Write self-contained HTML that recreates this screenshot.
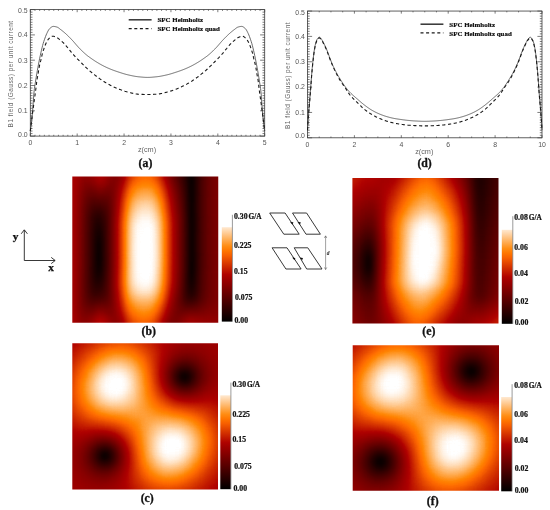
<!DOCTYPE html>
<html><head><meta charset="utf-8"><title>Figure</title>
<style>html,body{margin:0;padding:0;background:#fff}svg{display:block}.tk{font-family:"Liberation Sans", "DejaVu Sans", sans-serif;font-size:6.9px;fill:#555}.al{font-family:"Liberation Sans", "DejaVu Sans", sans-serif;font-size:7.3px;fill:#666}.yl{font-family:"Liberation Sans", "DejaVu Sans", sans-serif;font-size:6.5px;fill:#666}.lg{font-family:"Liberation Serif", "DejaVu Serif", serif;font-weight:bold;font-size:6.95px;fill:#111;stroke:#111;stroke-width:0.2px}.cbl{font-family:"Liberation Serif", "DejaVu Serif", serif;font-weight:bold;font-size:7.8px;fill:#111;stroke:#111;stroke-width:0.22px}.cap{font-family:"Liberation Serif", "DejaVu Serif", serif;font-weight:bold;font-size:11.8px;fill:#111;stroke:#111;stroke-width:0.3px}.ax{font-family:"Liberation Serif", "DejaVu Serif", serif;font-weight:bold;font-size:11.3px;fill:#111;stroke:#111;stroke-width:0.25px}.dl{font-family:"Liberation Serif", "DejaVu Serif", serif;font-style:italic;font-weight:bold;font-size:5.5px;fill:#222}.hm rect{width:1.08px;height:1.08px}</style></head><body>
<svg width="550" height="510" viewBox="0 0 550 510">
<defs><filter id="cm" x="-5%" y="-5%" width="110%" height="110%" color-interpolation-filters="sRGB"><feGaussianBlur stdDeviation="2.6"/><feComponentTransfer><feFuncR type="table" tableValues="0.000 0.036 0.072 0.109 0.145 0.181 0.217 0.254 0.290 0.326 0.362 0.399 0.435 0.471 0.507 0.543 0.580 0.616 0.652 0.688 0.725 0.761 0.797 0.833 0.870 0.906 0.942 0.978 1.000 1.000 1.000 1.000 1.000 1.000 1.000 1.000 1.000 1.000 1.000 1.000 1.000"/><feFuncG type="table" tableValues="0.000 0.000 0.000 0.000 0.000 0.000 0.000 0.000 0.000 0.000 0.000 0.000 0.000 0.000 0.000 0.000 0.000 0.000 0.000 0.009 0.057 0.104 0.151 0.198 0.245 0.292 0.340 0.387 0.434 0.481 0.528 0.575 0.623 0.670 0.717 0.764 0.811 0.858 0.906 0.953 1.000"/><feFuncB type="table" tableValues="0.000 0.000 0.000 0.000 0.000 0.000 0.000 0.000 0.000 0.000 0.000 0.000 0.000 0.000 0.000 0.000 0.000 0.000 0.000 0.000 0.000 0.000 0.000 0.000 0.000 0.000 0.000 0.000 0.000 0.000 0.020 0.118 0.216 0.314 0.412 0.510 0.608 0.706 0.804 0.902 1.000"/><feFuncA type="linear" slope="0" intercept="1"/></feComponentTransfer></filter></defs>
<rect width="550" height="510" fill="#fff"/>
<rect x="30.30" y="9.60" width="234.40" height="126.50" fill="none" stroke="#3a3a3a" stroke-width="0.8"/>
<path d="M30.30 136.10v-2.6M30.30 9.60v2.6M34.99 136.10v-1.3M34.99 9.60v1.3M39.68 136.10v-1.3M39.68 9.60v1.3M44.36 136.10v-1.3M44.36 9.60v1.3M49.05 136.10v-1.3M49.05 9.60v1.3M53.74 136.10v-1.3M53.74 9.60v1.3M58.43 136.10v-1.3M58.43 9.60v1.3M63.12 136.10v-1.3M63.12 9.60v1.3M67.80 136.10v-1.3M67.80 9.60v1.3M72.49 136.10v-1.3M72.49 9.60v1.3M77.18 136.10v-2.6M77.18 9.60v2.6M81.87 136.10v-1.3M81.87 9.60v1.3M86.56 136.10v-1.3M86.56 9.60v1.3M91.24 136.10v-1.3M91.24 9.60v1.3M95.93 136.10v-1.3M95.93 9.60v1.3M100.62 136.10v-1.3M100.62 9.60v1.3M105.31 136.10v-1.3M105.31 9.60v1.3M110.00 136.10v-1.3M110.00 9.60v1.3M114.68 136.10v-1.3M114.68 9.60v1.3M119.37 136.10v-1.3M119.37 9.60v1.3M124.06 136.10v-2.6M124.06 9.60v2.6M128.75 136.10v-1.3M128.75 9.60v1.3M133.44 136.10v-1.3M133.44 9.60v1.3M138.12 136.10v-1.3M138.12 9.60v1.3M142.81 136.10v-1.3M142.81 9.60v1.3M147.50 136.10v-1.3M147.50 9.60v1.3M152.19 136.10v-1.3M152.19 9.60v1.3M156.88 136.10v-1.3M156.88 9.60v1.3M161.56 136.10v-1.3M161.56 9.60v1.3M166.25 136.10v-1.3M166.25 9.60v1.3M170.94 136.10v-2.6M170.94 9.60v2.6M175.63 136.10v-1.3M175.63 9.60v1.3M180.32 136.10v-1.3M180.32 9.60v1.3M185.00 136.10v-1.3M185.00 9.60v1.3M189.69 136.10v-1.3M189.69 9.60v1.3M194.38 136.10v-1.3M194.38 9.60v1.3M199.07 136.10v-1.3M199.07 9.60v1.3M203.76 136.10v-1.3M203.76 9.60v1.3M208.44 136.10v-1.3M208.44 9.60v1.3M213.13 136.10v-1.3M213.13 9.60v1.3M217.82 136.10v-2.6M217.82 9.60v2.6M222.51 136.10v-1.3M222.51 9.60v1.3M227.20 136.10v-1.3M227.20 9.60v1.3M231.88 136.10v-1.3M231.88 9.60v1.3M236.57 136.10v-1.3M236.57 9.60v1.3M241.26 136.10v-1.3M241.26 9.60v1.3M245.95 136.10v-1.3M245.95 9.60v1.3M250.64 136.10v-1.3M250.64 9.60v1.3M255.32 136.10v-1.3M255.32 9.60v1.3M260.01 136.10v-1.3M260.01 9.60v1.3M264.70 136.10v-2.6M264.70 9.60v2.6M30.30 136.10h4.6M264.70 136.10h-4.6M30.30 133.57h2.2M264.70 133.57h-2.2M30.30 131.04h2.2M264.70 131.04h-2.2M30.30 128.51h2.2M264.70 128.51h-2.2M30.30 125.98h2.2M264.70 125.98h-2.2M30.30 123.45h2.2M264.70 123.45h-2.2M30.30 120.92h2.2M264.70 120.92h-2.2M30.30 118.39h2.2M264.70 118.39h-2.2M30.30 115.86h2.2M264.70 115.86h-2.2M30.30 113.33h2.2M264.70 113.33h-2.2M30.30 110.80h4.6M264.70 110.80h-4.6M30.30 108.27h2.2M264.70 108.27h-2.2M30.30 105.74h2.2M264.70 105.74h-2.2M30.30 103.21h2.2M264.70 103.21h-2.2M30.30 100.68h2.2M264.70 100.68h-2.2M30.30 98.15h2.2M264.70 98.15h-2.2M30.30 95.62h2.2M264.70 95.62h-2.2M30.30 93.09h2.2M264.70 93.09h-2.2M30.30 90.56h2.2M264.70 90.56h-2.2M30.30 88.03h2.2M264.70 88.03h-2.2M30.30 85.50h4.6M264.70 85.50h-4.6M30.30 82.97h2.2M264.70 82.97h-2.2M30.30 80.44h2.2M264.70 80.44h-2.2M30.30 77.91h2.2M264.70 77.91h-2.2M30.30 75.38h2.2M264.70 75.38h-2.2M30.30 72.85h2.2M264.70 72.85h-2.2M30.30 70.32h2.2M264.70 70.32h-2.2M30.30 67.79h2.2M264.70 67.79h-2.2M30.30 65.26h2.2M264.70 65.26h-2.2M30.30 62.73h2.2M264.70 62.73h-2.2M30.30 60.20h4.6M264.70 60.20h-4.6M30.30 57.67h2.2M264.70 57.67h-2.2M30.30 55.14h2.2M264.70 55.14h-2.2M30.30 52.61h2.2M264.70 52.61h-2.2M30.30 50.08h2.2M264.70 50.08h-2.2M30.30 47.55h2.2M264.70 47.55h-2.2M30.30 45.02h2.2M264.70 45.02h-2.2M30.30 42.49h2.2M264.70 42.49h-2.2M30.30 39.96h2.2M264.70 39.96h-2.2M30.30 37.43h2.2M264.70 37.43h-2.2M30.30 34.90h4.6M264.70 34.90h-4.6M30.30 32.37h2.2M264.70 32.37h-2.2M30.30 29.84h2.2M264.70 29.84h-2.2M30.30 27.31h2.2M264.70 27.31h-2.2M30.30 24.78h2.2M264.70 24.78h-2.2M30.30 22.25h2.2M264.70 22.25h-2.2M30.30 19.72h2.2M264.70 19.72h-2.2M30.30 17.19h2.2M264.70 17.19h-2.2M30.30 14.66h2.2M264.70 14.66h-2.2M30.30 12.13h2.2M264.70 12.13h-2.2M30.30 9.60h4.6M264.70 9.60h-4.6" stroke="#444" stroke-width="0.7" fill="none"/>
<text x="27.70" y="136.60" text-anchor="end" class="tk">0.0</text>
<text x="27.70" y="113.10" text-anchor="end" class="tk">0.1</text>
<text x="27.70" y="87.80" text-anchor="end" class="tk">0.2</text>
<text x="27.70" y="62.50" text-anchor="end" class="tk">0.3</text>
<text x="27.70" y="37.20" text-anchor="end" class="tk">0.4</text>
<text x="27.70" y="13.30" text-anchor="end" class="tk">0.5</text>
<text x="30.30" y="144.90" text-anchor="middle" class="tk">0</text>
<text x="77.18" y="144.90" text-anchor="middle" class="tk">1</text>
<text x="124.06" y="144.90" text-anchor="middle" class="tk">2</text>
<text x="170.94" y="144.90" text-anchor="middle" class="tk">3</text>
<text x="217.82" y="144.90" text-anchor="middle" class="tk">4</text>
<text x="264.70" y="144.90" text-anchor="middle" class="tk">5</text>
<text x="147.00" y="151.80" text-anchor="middle" class="al">z(cm)</text>
<text transform="translate(13.00 74.15) rotate(-90)" text-anchor="middle" class="yl" textLength="106.5" lengthAdjust="spacing">B1 field (Gauss) per unit current</text>
<path d="M30.30 131.04L30.89 127.21L31.47 122.41L32.06 116.85L32.65 110.74L33.24 102.67L33.82 94.06L34.41 88.50L35.00 84.66L35.59 81.07L36.17 77.41L36.76 73.87L37.35 70.48L37.94 67.24L38.52 64.13L39.11 61.14L39.70 58.26L40.29 55.48L40.87 52.82L41.46 50.27L42.05 47.79L42.64 45.46L43.22 43.35L43.81 41.45L44.40 39.71L44.99 38.04L45.57 36.44L46.16 34.95L46.75 33.61L47.34 32.40L47.92 31.23L48.51 30.16L49.10 29.25L49.69 28.56L50.27 28.05L50.86 27.57L51.45 27.14L52.04 26.79L52.62 26.53L53.21 26.41L53.80 26.41L54.39 26.47L54.97 26.56L55.56 26.69L56.15 26.84L56.74 27.01L57.32 27.20L57.91 27.49L58.50 27.87L59.09 28.32L59.67 28.79L60.26 29.27L60.85 29.71L61.44 30.15L62.02 30.61L62.61 31.07L63.20 31.55L63.79 32.03L64.37 32.53L64.96 33.04L65.55 33.56L66.14 34.10L66.72 34.65L67.31 35.20L67.90 35.77L68.49 36.34L69.07 36.92L69.66 37.51L70.25 38.11L70.84 38.71L71.42 39.33L72.01 39.95L72.60 40.58L73.19 41.23L73.77 41.89L74.36 42.57L74.95 43.25L75.54 43.94L76.12 44.63L76.71 45.31L77.30 45.99L77.88 46.65L78.47 47.30L79.06 47.93L79.65 48.53L80.23 49.13L80.82 49.71L81.41 50.29L82.00 50.87L82.58 51.43L83.17 51.99L83.76 52.53L84.35 53.07L84.93 53.59L85.52 54.11L86.11 54.61L86.70 55.10L87.28 55.58L87.87 56.03L88.46 56.48L89.05 56.91L89.63 57.33L90.22 57.75L90.81 58.17L91.40 58.58L91.98 58.99L92.57 59.40L93.16 59.80L93.75 60.19L94.33 60.58L94.92 60.97L95.51 61.35L96.10 61.72L96.68 62.09L97.27 62.45L97.86 62.80L98.45 63.15L99.03 63.49L99.62 63.83L100.21 64.17L100.80 64.50L101.38 64.82L101.97 65.14L102.56 65.45L103.15 65.76L103.73 66.06L104.32 66.35L104.91 66.64L105.50 66.92L106.08 67.20L106.67 67.47L107.26 67.74L107.85 68.00L108.43 68.26L109.02 68.52L109.61 68.77L110.20 69.01L110.78 69.25L111.37 69.49L111.96 69.72L112.55 69.94L113.13 70.17L113.72 70.38L114.31 70.60L114.90 70.81L115.48 71.01L116.07 71.22L116.66 71.42L117.25 71.62L117.83 71.81L118.42 72.00L119.01 72.20L119.60 72.39L120.18 72.58L120.77 72.77L121.36 72.96L121.95 73.15L122.53 73.33L123.12 73.52L123.71 73.70L124.29 73.87L124.88 74.04L125.47 74.21L126.06 74.37L126.64 74.52L127.23 74.67L127.82 74.80L128.41 74.94L128.99 75.07L129.58 75.21L130.17 75.34L130.76 75.47L131.34 75.59L131.93 75.72L132.52 75.84L133.11 75.96L133.69 76.07L134.28 76.18L134.87 76.28L135.46 76.38L136.04 76.47L136.63 76.55L137.22 76.63L137.81 76.70L138.39 76.77L138.98 76.82L139.57 76.88L140.16 76.94L140.74 77.00L141.33 77.06L141.92 77.11L142.51 77.16L143.09 77.21L143.68 77.25L144.27 77.29L144.86 77.33L145.44 77.36L146.03 77.38L146.62 77.39L147.21 77.40L147.79 77.40L148.38 77.39L148.97 77.38L149.56 77.36L150.14 77.33L150.73 77.29L151.32 77.25L151.91 77.21L152.49 77.16L153.08 77.11L153.67 77.06L154.26 77.00L154.84 76.94L155.43 76.88L156.02 76.82L156.61 76.77L157.19 76.70L157.78 76.63L158.37 76.55L158.96 76.47L159.54 76.38L160.13 76.28L160.72 76.18L161.31 76.07L161.89 75.96L162.48 75.84L163.07 75.72L163.66 75.59L164.24 75.47L164.83 75.34L165.42 75.21L166.01 75.07L166.59 74.94L167.18 74.80L167.77 74.67L168.36 74.52L168.94 74.37L169.53 74.21L170.12 74.04L170.71 73.87L171.29 73.70L171.88 73.52L172.47 73.33L173.05 73.15L173.64 72.96L174.23 72.77L174.82 72.58L175.40 72.39L175.99 72.20L176.58 72.00L177.17 71.81L177.75 71.62L178.34 71.42L178.93 71.22L179.52 71.01L180.10 70.81L180.69 70.60L181.28 70.38L181.87 70.17L182.45 69.94L183.04 69.72L183.63 69.49L184.22 69.25L184.80 69.01L185.39 68.77L185.98 68.52L186.57 68.26L187.15 68.00L187.74 67.74L188.33 67.47L188.92 67.20L189.50 66.92L190.09 66.64L190.68 66.35L191.27 66.06L191.85 65.76L192.44 65.45L193.03 65.14L193.62 64.82L194.20 64.50L194.79 64.17L195.38 63.83L195.97 63.49L196.55 63.15L197.14 62.80L197.73 62.45L198.32 62.09L198.90 61.72L199.49 61.35L200.08 60.97L200.67 60.58L201.25 60.19L201.84 59.80L202.43 59.40L203.02 58.99L203.60 58.58L204.19 58.17L204.78 57.75L205.37 57.33L205.95 56.91L206.54 56.48L207.13 56.03L207.72 55.58L208.30 55.10L208.89 54.61L209.48 54.11L210.07 53.59L210.65 53.07L211.24 52.53L211.83 51.99L212.42 51.43L213.00 50.87L213.59 50.29L214.18 49.71L214.77 49.13L215.35 48.53L215.94 47.93L216.53 47.30L217.12 46.65L217.70 45.99L218.29 45.31L218.88 44.63L219.46 43.94L220.05 43.25L220.64 42.57L221.23 41.89L221.81 41.23L222.40 40.58L222.99 39.95L223.58 39.33L224.16 38.71L224.75 38.11L225.34 37.51L225.93 36.92L226.51 36.34L227.10 35.77L227.69 35.20L228.28 34.65L228.86 34.10L229.45 33.56L230.04 33.04L230.63 32.53L231.21 32.03L231.80 31.55L232.39 31.07L232.98 30.61L233.56 30.15L234.15 29.71L234.74 29.27L235.33 28.79L235.91 28.32L236.50 27.87L237.09 27.49L237.68 27.20L238.26 27.01L238.85 26.84L239.44 26.69L240.03 26.56L240.61 26.47L241.20 26.41L241.79 26.41L242.38 26.53L242.96 26.79L243.55 27.14L244.14 27.57L244.73 28.05L245.31 28.56L245.90 29.25L246.49 30.16L247.08 31.23L247.66 32.40L248.25 33.61L248.84 34.95L249.43 36.44L250.01 38.04L250.60 39.71L251.19 41.45L251.78 43.35L252.36 45.46L252.95 47.79L253.54 50.27L254.13 52.82L254.71 55.48L255.30 58.26L255.89 61.14L256.48 64.13L257.06 67.24L257.65 70.48L258.24 73.87L258.83 77.41L259.41 81.07L260.00 84.66L260.59 88.50L261.18 94.06L261.76 102.67L262.35 110.74L262.94 116.85L263.53 122.41L264.11 127.21L264.70 131.04" stroke="#444" stroke-width="0.8" fill="none"/>
<path d="M30.30 131.04L30.89 126.32L31.47 121.66L32.06 117.07L32.65 112.54L33.24 108.10L33.82 103.78L34.41 99.52L35.00 95.25L35.59 90.89L36.17 86.42L36.76 81.17L37.35 77.67L37.94 74.76L38.52 71.01L39.11 67.57L39.70 64.56L40.29 62.24L40.87 60.20L41.46 57.66L42.05 54.78L42.64 52.64L43.22 50.78L43.81 49.06L44.40 47.33L44.99 45.66L45.57 44.18L46.16 42.96L46.75 41.81L47.34 40.75L47.92 39.81L48.51 39.01L49.10 38.40L49.69 37.87L50.27 37.36L50.86 36.90L51.45 36.54L52.04 36.29L52.62 36.19L53.21 36.23L53.80 36.33L54.39 36.50L54.97 36.72L55.56 36.97L56.15 37.24L56.74 37.52L57.32 37.81L57.91 38.18L58.50 38.61L59.09 39.09L59.67 39.60L60.26 40.11L60.85 40.61L61.44 41.11L62.02 41.62L62.61 42.14L63.20 42.69L63.79 43.25L64.37 43.84L64.96 44.45L65.55 45.11L66.14 45.81L66.72 46.53L67.31 47.27L67.90 48.01L68.49 48.73L69.07 49.45L69.66 50.18L70.25 50.92L70.84 51.65L71.42 52.37L72.01 53.08L72.60 53.76L73.19 54.43L73.77 55.08L74.36 55.73L74.95 56.36L75.54 56.99L76.12 57.61L76.71 58.21L77.30 58.80L77.88 59.39L78.47 59.97L79.06 60.56L79.65 61.15L80.23 61.74L80.82 62.33L81.41 62.92L82.00 63.51L82.58 64.10L83.17 64.69L83.76 65.27L84.35 65.85L84.93 66.43L85.52 67.00L86.11 67.57L86.70 68.13L87.28 68.69L87.87 69.23L88.46 69.77L89.05 70.30L89.63 70.82L90.22 71.33L90.81 71.82L91.40 72.29L91.98 72.76L92.57 73.22L93.16 73.68L93.75 74.15L94.33 74.63L94.92 75.11L95.51 75.58L96.10 76.05L96.68 76.51L97.27 76.95L97.86 77.39L98.45 77.82L99.03 78.24L99.62 78.67L100.21 79.09L100.80 79.50L101.38 79.91L101.97 80.31L102.56 80.70L103.15 81.09L103.73 81.47L104.32 81.84L104.91 82.20L105.50 82.55L106.08 82.89L106.67 83.23L107.26 83.56L107.85 83.89L108.43 84.22L109.02 84.53L109.61 84.85L110.20 85.16L110.78 85.46L111.37 85.76L111.96 86.05L112.55 86.34L113.13 86.62L113.72 86.90L114.31 87.17L114.90 87.43L115.48 87.69L116.07 87.94L116.66 88.19L117.25 88.43L117.83 88.67L118.42 88.91L119.01 89.14L119.60 89.37L120.18 89.59L120.77 89.82L121.36 90.03L121.95 90.25L122.53 90.46L123.12 90.66L123.71 90.86L124.29 91.05L124.88 91.24L125.47 91.41L126.06 91.59L126.64 91.75L127.23 91.91L127.82 92.06L128.41 92.22L128.99 92.37L129.58 92.52L130.17 92.68L130.76 92.83L131.34 92.98L131.93 93.12L132.52 93.26L133.11 93.40L133.69 93.52L134.28 93.64L134.87 93.76L135.46 93.86L136.04 93.95L136.63 94.03L137.22 94.10L137.81 94.16L138.39 94.20L138.98 94.23L139.57 94.26L140.16 94.29L140.74 94.32L141.33 94.35L141.92 94.38L142.51 94.40L143.09 94.42L143.68 94.44L144.27 94.46L144.86 94.47L145.44 94.49L146.03 94.50L146.62 94.50L147.21 94.51L147.79 94.51L148.38 94.50L148.97 94.50L149.56 94.49L150.14 94.47L150.73 94.46L151.32 94.44L151.91 94.42L152.49 94.40L153.08 94.38L153.67 94.35L154.26 94.32L154.84 94.29L155.43 94.26L156.02 94.23L156.61 94.20L157.19 94.16L157.78 94.10L158.37 94.03L158.96 93.95L159.54 93.86L160.13 93.76L160.72 93.64L161.31 93.52L161.89 93.40L162.48 93.26L163.07 93.12L163.66 92.98L164.24 92.83L164.83 92.68L165.42 92.52L166.01 92.37L166.59 92.22L167.18 92.06L167.77 91.91L168.36 91.75L168.94 91.59L169.53 91.41L170.12 91.24L170.71 91.05L171.29 90.86L171.88 90.66L172.47 90.46L173.05 90.25L173.64 90.03L174.23 89.82L174.82 89.59L175.40 89.37L175.99 89.14L176.58 88.91L177.17 88.67L177.75 88.43L178.34 88.19L178.93 87.94L179.52 87.69L180.10 87.43L180.69 87.17L181.28 86.90L181.87 86.62L182.45 86.34L183.04 86.05L183.63 85.76L184.22 85.46L184.80 85.16L185.39 84.85L185.98 84.53L186.57 84.22L187.15 83.89L187.74 83.56L188.33 83.23L188.92 82.89L189.50 82.55L190.09 82.20L190.68 81.84L191.27 81.47L191.85 81.09L192.44 80.70L193.03 80.31L193.62 79.91L194.20 79.50L194.79 79.09L195.38 78.67L195.97 78.24L196.55 77.82L197.14 77.39L197.73 76.95L198.32 76.51L198.90 76.05L199.49 75.58L200.08 75.11L200.67 74.63L201.25 74.15L201.84 73.68L202.43 73.22L203.02 72.76L203.60 72.29L204.19 71.82L204.78 71.33L205.37 70.82L205.95 70.30L206.54 69.77L207.13 69.23L207.72 68.69L208.30 68.13L208.89 67.57L209.48 67.00L210.07 66.43L210.65 65.85L211.24 65.27L211.83 64.69L212.42 64.10L213.00 63.51L213.59 62.92L214.18 62.33L214.77 61.74L215.35 61.15L215.94 60.56L216.53 59.97L217.12 59.39L217.70 58.80L218.29 58.21L218.88 57.61L219.46 56.99L220.05 56.36L220.64 55.73L221.23 55.08L221.81 54.43L222.40 53.76L222.99 53.08L223.58 52.37L224.16 51.65L224.75 50.92L225.34 50.18L225.93 49.45L226.51 48.73L227.10 48.01L227.69 47.27L228.28 46.53L228.86 45.81L229.45 45.11L230.04 44.45L230.63 43.84L231.21 43.25L231.80 42.69L232.39 42.14L232.98 41.62L233.56 41.11L234.15 40.61L234.74 40.11L235.33 39.60L235.91 39.09L236.50 38.61L237.09 38.18L237.68 37.81L238.26 37.52L238.85 37.24L239.44 36.97L240.03 36.72L240.61 36.50L241.20 36.33L241.79 36.23L242.38 36.19L242.96 36.29L243.55 36.54L244.14 36.90L244.73 37.36L245.31 37.87L245.90 38.40L246.49 39.01L247.08 39.81L247.66 40.75L248.25 41.81L248.84 42.96L249.43 44.18L250.01 45.66L250.60 47.33L251.19 49.06L251.78 50.78L252.36 52.64L252.95 54.78L253.54 57.66L254.13 60.20L254.71 62.24L255.30 64.56L255.89 67.57L256.48 71.01L257.06 74.76L257.65 77.67L258.24 81.17L258.83 86.42L259.41 90.89L260.00 95.25L260.59 99.52L261.18 103.78L261.76 108.10L262.35 112.54L262.94 117.07L263.53 121.66L264.11 126.32L264.70 131.04" stroke="#1a1a1a" stroke-width="1.1" stroke-dasharray="3.2 2.6" fill="none"/>
<path d="M128.7 19.8H151.6" stroke="#333" stroke-width="1.5"/>
<path d="M128.7 28.6H151.6" stroke="#1a1a1a" stroke-width="1.25" stroke-dasharray="3 2.6"/>
<text x="157.5" y="22.40" class="lg">SFC Helmholtz</text>
<text x="157.5" y="31.20" class="lg">SFC Helmholtz quad</text>
<rect x="307.50" y="11.05" width="234.50" height="126.75" fill="none" stroke="#3a3a3a" stroke-width="0.8"/>
<path d="M307.50 137.80v-2.6M307.50 11.05v2.6M319.23 137.80v-1.3M319.23 11.05v1.3M330.95 137.80v-1.3M330.95 11.05v1.3M342.68 137.80v-1.3M342.68 11.05v1.3M354.40 137.80v-2.6M354.40 11.05v2.6M366.12 137.80v-1.3M366.12 11.05v1.3M377.85 137.80v-1.3M377.85 11.05v1.3M389.57 137.80v-1.3M389.57 11.05v1.3M401.30 137.80v-2.6M401.30 11.05v2.6M413.02 137.80v-1.3M413.02 11.05v1.3M424.75 137.80v-1.3M424.75 11.05v1.3M436.48 137.80v-1.3M436.48 11.05v1.3M448.20 137.80v-2.6M448.20 11.05v2.6M459.92 137.80v-1.3M459.92 11.05v1.3M471.65 137.80v-1.3M471.65 11.05v1.3M483.38 137.80v-1.3M483.38 11.05v1.3M495.10 137.80v-2.6M495.10 11.05v2.6M506.82 137.80v-1.3M506.82 11.05v1.3M518.55 137.80v-1.3M518.55 11.05v1.3M530.27 137.80v-1.3M530.27 11.05v1.3M542.00 137.80v-2.6M542.00 11.05v2.6M307.50 137.80h4.6M542.00 137.80h-4.6M307.50 135.27h2.2M542.00 135.27h-2.2M307.50 132.73h2.2M542.00 132.73h-2.2M307.50 130.20h2.2M542.00 130.20h-2.2M307.50 127.66h2.2M542.00 127.66h-2.2M307.50 125.13h2.2M542.00 125.13h-2.2M307.50 122.59h2.2M542.00 122.59h-2.2M307.50 120.06h2.2M542.00 120.06h-2.2M307.50 117.52h2.2M542.00 117.52h-2.2M307.50 114.99h2.2M542.00 114.99h-2.2M307.50 112.45h4.6M542.00 112.45h-4.6M307.50 109.92h2.2M542.00 109.92h-2.2M307.50 107.38h2.2M542.00 107.38h-2.2M307.50 104.84h2.2M542.00 104.84h-2.2M307.50 102.31h2.2M542.00 102.31h-2.2M307.50 99.78h2.2M542.00 99.78h-2.2M307.50 97.24h2.2M542.00 97.24h-2.2M307.50 94.71h2.2M542.00 94.71h-2.2M307.50 92.17h2.2M542.00 92.17h-2.2M307.50 89.64h2.2M542.00 89.64h-2.2M307.50 87.10h4.6M542.00 87.10h-4.6M307.50 84.56h2.2M542.00 84.56h-2.2M307.50 82.03h2.2M542.00 82.03h-2.2M307.50 79.50h2.2M542.00 79.50h-2.2M307.50 76.96h2.2M542.00 76.96h-2.2M307.50 74.43h2.2M542.00 74.43h-2.2M307.50 71.89h2.2M542.00 71.89h-2.2M307.50 69.36h2.2M542.00 69.36h-2.2M307.50 66.82h2.2M542.00 66.82h-2.2M307.50 64.29h2.2M542.00 64.29h-2.2M307.50 61.75h4.6M542.00 61.75h-4.6M307.50 59.22h2.2M542.00 59.22h-2.2M307.50 56.68h2.2M542.00 56.68h-2.2M307.50 54.14h2.2M542.00 54.14h-2.2M307.50 51.61h2.2M542.00 51.61h-2.2M307.50 49.07h2.2M542.00 49.07h-2.2M307.50 46.54h2.2M542.00 46.54h-2.2M307.50 44.00h2.2M542.00 44.00h-2.2M307.50 41.47h2.2M542.00 41.47h-2.2M307.50 38.94h2.2M542.00 38.94h-2.2M307.50 36.40h4.6M542.00 36.40h-4.6M307.50 33.86h2.2M542.00 33.86h-2.2M307.50 31.33h2.2M542.00 31.33h-2.2M307.50 28.80h2.2M542.00 28.80h-2.2M307.50 26.26h2.2M542.00 26.26h-2.2M307.50 23.72h2.2M542.00 23.72h-2.2M307.50 21.19h2.2M542.00 21.19h-2.2M307.50 18.65h2.2M542.00 18.65h-2.2M307.50 16.12h2.2M542.00 16.12h-2.2M307.50 13.58h2.2M542.00 13.58h-2.2M307.50 11.05h4.6M542.00 11.05h-4.6" stroke="#444" stroke-width="0.7" fill="none"/>
<text x="304.90" y="138.30" text-anchor="end" class="tk">0.0</text>
<text x="304.90" y="114.75" text-anchor="end" class="tk">0.1</text>
<text x="304.90" y="89.40" text-anchor="end" class="tk">0.2</text>
<text x="304.90" y="64.05" text-anchor="end" class="tk">0.3</text>
<text x="304.90" y="38.70" text-anchor="end" class="tk">0.4</text>
<text x="304.90" y="14.75" text-anchor="end" class="tk">0.5</text>
<text x="307.50" y="146.60" text-anchor="middle" class="tk">0</text>
<text x="354.40" y="146.60" text-anchor="middle" class="tk">2</text>
<text x="401.30" y="146.60" text-anchor="middle" class="tk">4</text>
<text x="448.20" y="146.60" text-anchor="middle" class="tk">6</text>
<text x="495.10" y="146.60" text-anchor="middle" class="tk">8</text>
<text x="542.00" y="146.60" text-anchor="middle" class="tk">10</text>
<text x="424.25" y="153.50" text-anchor="middle" class="al">z(cm)</text>
<text transform="translate(290.40 75.73) rotate(-90)" text-anchor="middle" class="yl" textLength="106.5" lengthAdjust="spacing">B1 field (Gauss) per unit current</text>
<path d="M307.50 130.20L308.09 120.14L308.68 112.06L309.26 105.33L309.85 98.75L310.44 91.23L311.03 82.98L311.61 75.12L312.20 68.43L312.79 62.39L313.38 57.06L313.96 52.38L314.55 48.58L315.14 45.51L315.73 43.05L316.32 41.20L316.90 39.72L317.49 38.74L318.08 37.99L318.67 37.42L319.25 37.16L319.84 37.34L320.43 37.89L321.02 38.64L321.61 39.45L322.19 40.31L322.78 41.35L323.37 42.51L323.96 43.68L324.54 44.86L325.13 46.08L325.72 47.36L326.31 48.68L326.89 50.07L327.48 51.56L328.07 53.15L328.66 54.78L329.25 56.42L329.83 58.01L330.42 59.52L331.01 61.00L331.60 62.47L332.18 63.90L332.77 65.28L333.36 66.61L333.95 67.87L334.54 69.07L335.12 70.24L335.71 71.37L336.30 72.47L336.89 73.55L337.47 74.60L338.06 75.62L338.65 76.63L339.24 77.62L339.82 78.59L340.41 79.56L341.00 80.50L341.59 81.43L342.18 82.35L342.76 83.24L343.35 84.11L343.94 84.97L344.53 85.80L345.11 86.60L345.70 87.38L346.29 88.14L346.88 88.88L347.46 89.59L348.05 90.29L348.64 90.96L349.23 91.61L349.82 92.24L350.40 92.84L350.99 93.43L351.58 93.99L352.17 94.54L352.75 95.07L353.34 95.60L353.93 96.11L354.52 96.62L355.11 97.12L355.69 97.62L356.28 98.13L356.87 98.63L357.46 99.14L358.04 99.66L358.63 100.17L359.22 100.69L359.81 101.20L360.39 101.71L360.98 102.22L361.57 102.72L362.16 103.21L362.75 103.70L363.33 104.18L363.92 104.65L364.51 105.10L365.10 105.55L365.68 105.99L366.27 106.43L366.86 106.86L367.45 107.29L368.04 107.71L368.62 108.12L369.21 108.53L369.80 108.92L370.39 109.30L370.97 109.67L371.56 110.03L372.15 110.37L372.74 110.71L373.32 111.03L373.91 111.35L374.50 111.67L375.09 111.97L375.68 112.27L376.26 112.56L376.85 112.84L377.44 113.11L378.03 113.38L378.61 113.64L379.20 113.89L379.79 114.14L380.38 114.37L380.96 114.61L381.55 114.84L382.14 115.06L382.73 115.28L383.32 115.49L383.90 115.70L384.49 115.90L385.08 116.09L385.67 116.28L386.25 116.46L386.84 116.63L387.43 116.81L388.02 116.97L388.61 117.14L389.19 117.30L389.78 117.45L390.37 117.60L390.96 117.75L391.54 117.89L392.13 118.02L392.72 118.15L393.31 118.27L393.89 118.39L394.48 118.50L395.07 118.60L395.66 118.71L396.25 118.80L396.83 118.90L397.42 118.99L398.01 119.08L398.60 119.17L399.18 119.25L399.77 119.34L400.36 119.42L400.95 119.50L401.54 119.59L402.12 119.67L402.71 119.75L403.30 119.83L403.89 119.91L404.47 119.98L405.06 120.06L405.65 120.13L406.24 120.20L406.82 120.27L407.41 120.33L408.00 120.39L408.59 120.45L409.18 120.50L409.76 120.56L410.35 120.61L410.94 120.67L411.53 120.72L412.11 120.77L412.70 120.81L413.29 120.86L413.88 120.90L414.46 120.93L415.05 120.97L415.64 121.00L416.23 121.03L416.82 121.06L417.40 121.09L417.99 121.12L418.58 121.15L419.17 121.17L419.75 121.20L420.34 121.22L420.93 121.25L421.52 121.27L422.11 121.28L422.69 121.30L423.28 121.31L423.87 121.32L424.46 121.32L425.04 121.32L425.63 121.32L426.22 121.31L426.81 121.30L427.39 121.28L427.98 121.27L428.57 121.25L429.16 121.22L429.75 121.20L430.33 121.17L430.92 121.15L431.51 121.12L432.10 121.09L432.68 121.06L433.27 121.03L433.86 121.00L434.45 120.97L435.04 120.93L435.62 120.90L436.21 120.86L436.80 120.81L437.39 120.77L437.97 120.72L438.56 120.67L439.15 120.61L439.74 120.56L440.32 120.50L440.91 120.45L441.50 120.39L442.09 120.33L442.68 120.27L443.26 120.20L443.85 120.13L444.44 120.06L445.03 119.98L445.61 119.91L446.20 119.83L446.79 119.75L447.38 119.67L447.96 119.59L448.55 119.50L449.14 119.42L449.73 119.34L450.32 119.25L450.90 119.17L451.49 119.08L452.08 118.99L452.67 118.90L453.25 118.80L453.84 118.71L454.43 118.60L455.02 118.50L455.61 118.39L456.19 118.27L456.78 118.15L457.37 118.02L457.96 117.89L458.54 117.75L459.13 117.60L459.72 117.45L460.31 117.30L460.89 117.14L461.48 116.97L462.07 116.81L462.66 116.63L463.25 116.46L463.83 116.28L464.42 116.09L465.01 115.90L465.60 115.70L466.18 115.49L466.77 115.28L467.36 115.06L467.95 114.84L468.54 114.61L469.12 114.37L469.71 114.14L470.30 113.89L470.89 113.64L471.47 113.38L472.06 113.11L472.65 112.84L473.24 112.56L473.82 112.27L474.41 111.97L475.00 111.67L475.59 111.35L476.18 111.03L476.76 110.71L477.35 110.37L477.94 110.03L478.53 109.67L479.11 109.30L479.70 108.92L480.29 108.53L480.88 108.12L481.46 107.71L482.05 107.29L482.64 106.86L483.23 106.43L483.82 105.99L484.40 105.55L484.99 105.10L485.58 104.65L486.17 104.18L486.75 103.70L487.34 103.21L487.93 102.72L488.52 102.22L489.11 101.71L489.69 101.20L490.28 100.69L490.87 100.17L491.46 99.66L492.04 99.14L492.63 98.63L493.22 98.13L493.81 97.62L494.39 97.12L494.98 96.62L495.57 96.11L496.16 95.60L496.75 95.07L497.33 94.54L497.92 93.99L498.51 93.43L499.10 92.84L499.68 92.24L500.27 91.61L500.86 90.96L501.45 90.29L502.04 89.59L502.62 88.88L503.21 88.14L503.80 87.38L504.39 86.60L504.97 85.80L505.56 84.97L506.15 84.11L506.74 83.24L507.32 82.35L507.91 81.43L508.50 80.50L509.09 79.56L509.68 78.59L510.26 77.62L510.85 76.63L511.44 75.62L512.03 74.60L512.61 73.55L513.20 72.47L513.79 71.37L514.38 70.24L514.96 69.07L515.55 67.87L516.14 66.61L516.73 65.28L517.32 63.90L517.90 62.47L518.49 61.00L519.08 59.52L519.67 58.01L520.25 56.42L520.84 54.78L521.43 53.15L522.02 51.56L522.61 50.07L523.19 48.68L523.78 47.36L524.37 46.08L524.96 44.86L525.54 43.68L526.13 42.51L526.72 41.35L527.31 40.31L527.89 39.45L528.48 38.64L529.07 37.89L529.66 37.34L530.25 37.16L530.83 37.42L531.42 37.99L532.01 38.74L532.60 39.72L533.18 41.20L533.77 43.05L534.36 45.51L534.95 48.58L535.54 52.38L536.12 57.06L536.71 62.39L537.30 68.43L537.89 75.12L538.47 82.98L539.06 91.23L539.65 98.75L540.24 105.33L540.82 112.06L541.41 120.14L542.00 130.20" stroke="#444" stroke-width="0.8" fill="none"/>
<path d="M307.50 130.20L308.09 120.55L308.68 112.68L309.26 106.02L309.85 99.48L310.44 92.04L311.03 83.86L311.61 76.04L312.20 69.31L312.79 63.20L313.38 57.82L313.96 53.13L314.55 49.34L315.14 46.27L315.73 43.81L316.32 41.96L316.90 40.48L317.49 39.50L318.08 38.76L318.67 38.18L319.25 37.92L319.84 38.09L320.43 38.59L321.02 39.30L321.61 40.07L322.19 40.91L322.78 41.97L323.37 43.15L323.96 44.34L324.54 45.54L325.13 46.79L325.72 48.08L326.31 49.43L326.89 50.83L327.48 52.33L328.07 53.92L328.66 55.55L329.25 57.19L329.83 58.77L330.42 60.28L331.01 61.76L331.60 63.21L332.18 64.63L332.77 66.02L333.36 67.35L333.95 68.63L334.54 69.88L335.12 71.10L335.71 72.30L336.30 73.47L336.89 74.61L337.47 75.72L338.06 76.80L338.65 77.86L339.24 78.88L339.82 79.86L340.41 80.81L341.00 81.71L341.59 82.59L342.18 83.45L342.76 84.29L343.35 85.12L343.94 85.95L344.53 86.78L345.11 87.64L345.70 88.51L346.29 89.42L346.88 90.34L347.46 91.28L348.05 92.20L348.64 93.09L349.23 93.94L349.82 94.74L350.40 95.46L350.99 96.16L351.58 96.82L352.17 97.46L352.75 98.08L353.34 98.68L353.93 99.27L354.52 99.85L355.11 100.42L355.69 100.99L356.28 101.56L356.87 102.13L357.46 102.71L358.04 103.30L358.63 103.89L359.22 104.48L359.81 105.07L360.39 105.65L360.98 106.23L361.57 106.80L362.16 107.35L362.75 107.90L363.33 108.42L363.92 108.93L364.51 109.41L365.10 109.88L365.68 110.33L366.27 110.78L366.86 111.21L367.45 111.64L368.04 112.05L368.62 112.45L369.21 112.85L369.80 113.23L370.39 113.61L370.97 113.98L371.56 114.34L372.15 114.68L372.74 115.03L373.32 115.36L373.91 115.69L374.50 116.02L375.09 116.33L375.68 116.64L376.26 116.94L376.85 117.23L377.44 117.52L378.03 117.80L378.61 118.07L379.20 118.33L379.79 118.58L380.38 118.83L380.96 119.08L381.55 119.32L382.14 119.55L382.73 119.78L383.32 120.00L383.90 120.22L384.49 120.43L385.08 120.63L385.67 120.83L386.25 121.02L386.84 121.20L387.43 121.38L388.02 121.56L388.61 121.73L389.19 121.90L389.78 122.06L390.37 122.22L390.96 122.37L391.54 122.52L392.13 122.66L392.72 122.80L393.31 122.93L393.89 123.06L394.48 123.18L395.07 123.30L395.66 123.41L396.25 123.52L396.83 123.63L397.42 123.73L398.01 123.83L398.60 123.93L399.18 124.03L399.77 124.12L400.36 124.21L400.95 124.30L401.54 124.38L402.12 124.47L402.71 124.55L403.30 124.64L403.89 124.72L404.47 124.80L405.06 124.87L405.65 124.94L406.24 125.01L406.82 125.07L407.41 125.13L408.00 125.19L408.59 125.23L409.18 125.28L409.76 125.32L410.35 125.36L410.94 125.40L411.53 125.44L412.11 125.47L412.70 125.50L413.29 125.53L413.88 125.56L414.46 125.59L415.05 125.61L415.64 125.64L416.23 125.66L416.82 125.68L417.40 125.70L417.99 125.73L418.58 125.75L419.17 125.77L419.75 125.79L420.34 125.81L420.93 125.83L421.52 125.84L422.11 125.86L422.69 125.87L423.28 125.88L423.87 125.88L424.46 125.89L425.04 125.89L425.63 125.88L426.22 125.88L426.81 125.87L427.39 125.86L427.98 125.84L428.57 125.83L429.16 125.81L429.75 125.79L430.33 125.77L430.92 125.75L431.51 125.73L432.10 125.70L432.68 125.68L433.27 125.66L433.86 125.64L434.45 125.61L435.04 125.59L435.62 125.56L436.21 125.53L436.80 125.50L437.39 125.47L437.97 125.44L438.56 125.40L439.15 125.36L439.74 125.32L440.32 125.28L440.91 125.23L441.50 125.19L442.09 125.13L442.68 125.07L443.26 125.01L443.85 124.94L444.44 124.87L445.03 124.80L445.61 124.72L446.20 124.64L446.79 124.55L447.38 124.47L447.96 124.38L448.55 124.30L449.14 124.21L449.73 124.12L450.32 124.03L450.90 123.93L451.49 123.83L452.08 123.73L452.67 123.63L453.25 123.52L453.84 123.41L454.43 123.30L455.02 123.18L455.61 123.06L456.19 122.93L456.78 122.80L457.37 122.66L457.96 122.52L458.54 122.37L459.13 122.22L459.72 122.06L460.31 121.90L460.89 121.73L461.48 121.56L462.07 121.38L462.66 121.20L463.25 121.02L463.83 120.83L464.42 120.63L465.01 120.43L465.60 120.22L466.18 120.00L466.77 119.78L467.36 119.55L467.95 119.32L468.54 119.08L469.12 118.83L469.71 118.58L470.30 118.33L470.89 118.07L471.47 117.80L472.06 117.52L472.65 117.23L473.24 116.94L473.82 116.64L474.41 116.33L475.00 116.02L475.59 115.69L476.18 115.36L476.76 115.03L477.35 114.68L477.94 114.34L478.53 113.98L479.11 113.61L479.70 113.23L480.29 112.85L480.88 112.45L481.46 112.05L482.05 111.64L482.64 111.21L483.23 110.78L483.82 110.33L484.40 109.88L484.99 109.41L485.58 108.93L486.17 108.42L486.75 107.90L487.34 107.35L487.93 106.80L488.52 106.23L489.11 105.65L489.69 105.07L490.28 104.48L490.87 103.89L491.46 103.30L492.04 102.71L492.63 102.13L493.22 101.56L493.81 100.99L494.39 100.42L494.98 99.85L495.57 99.27L496.16 98.68L496.75 98.08L497.33 97.46L497.92 96.82L498.51 96.16L499.10 95.46L499.68 94.74L500.27 93.94L500.86 93.09L501.45 92.20L502.04 91.28L502.62 90.34L503.21 89.42L503.80 88.51L504.39 87.64L504.97 86.78L505.56 85.95L506.15 85.12L506.74 84.29L507.32 83.45L507.91 82.59L508.50 81.71L509.09 80.81L509.68 79.86L510.26 78.88L510.85 77.86L511.44 76.80L512.03 75.72L512.61 74.61L513.20 73.47L513.79 72.30L514.38 71.10L514.96 69.88L515.55 68.63L516.14 67.35L516.73 66.02L517.32 64.63L517.90 63.21L518.49 61.76L519.08 60.28L519.67 58.77L520.25 57.19L520.84 55.55L521.43 53.92L522.02 52.33L522.61 50.83L523.19 49.43L523.78 48.08L524.37 46.79L524.96 45.54L525.54 44.34L526.13 43.15L526.72 41.97L527.31 40.91L527.89 40.07L528.48 39.30L529.07 38.59L529.66 38.09L530.25 37.92L530.83 38.18L531.42 38.76L532.01 39.50L532.60 40.48L533.18 41.96L533.77 43.81L534.36 46.27L534.95 49.34L535.54 53.13L536.12 57.82L536.71 63.20L537.30 69.31L537.89 76.04L538.47 83.86L539.06 92.04L539.65 99.48L540.24 106.02L540.82 112.68L541.41 120.55L542.00 130.20" stroke="#1a1a1a" stroke-width="1.1" stroke-dasharray="3.2 2.6" fill="none"/>
<path d="M420.5 24.2H443.4" stroke="#333" stroke-width="1.5"/>
<path d="M420.5 32.9H443.4" stroke="#1a1a1a" stroke-width="1.25" stroke-dasharray="3 2.6"/>
<text x="449.3" y="26.80" class="lg">SFC Helmholtz</text>
<text x="449.3" y="35.50" class="lg">SFC Helmholtz quad</text>
<text x="145.5" y="166.9" text-anchor="middle" class="cap">(a)</text>
<text x="424.6" y="167.4" text-anchor="middle" class="cap">(d)</text>
<text x="148.8" y="335.3" text-anchor="middle" class="cap">(b)</text>
<text x="428.8" y="334.6" text-anchor="middle" class="cap">(e)</text>
<text x="147.2" y="502.0" text-anchor="middle" class="cap">(c)</text>
<text x="432.7" y="504.6" text-anchor="middle" class="cap">(f)</text>
<clipPath id="cp1"><rect x="72.3" y="176.6" width="145.95" height="146.10"/></clipPath>
<g clip-path="url(#cp1)"><g filter="url(#cm)"><g class="hm" transform="translate(72.3 176.6) scale(4.8650 4.8700)">
<g transform="translate(0 -2)"><rect x="-2" width="1.08" height="1.08" fill="#7d7d7d"/><rect x="-1" width="1.08" height="1.08" fill="#797979"/><rect x="0" width="1.08" height="1.08" fill="#757575"/><rect x="1" width="1.08" height="1.08" fill="#6b6b6b"/><rect x="2" width="1.08" height="1.08" fill="#656565"/><rect x="3" width="1.08" height="1.08" fill="#686868"/><rect x="4" width="1.08" height="1.08" fill="#727272"/><rect x="5" width="1.08" height="1.08" fill="#808080"/><rect x="6" width="1.08" height="1.08" fill="#787878"/><rect x="7" width="1.08" height="1.08" fill="#696969"/><rect x="8" width="1.08" height="1.08" fill="#5b5b5b"/><rect x="9" width="1.08" height="1.08" fill="#5a5a5a"/><rect x="10" width="1.08" height="1.08" fill="#676767"/><rect x="11" width="1.08" height="1.08" fill="#818181"/><rect x="12" width="1.08" height="1.08" fill="#959595"/><rect x="13" width="1.08" height="1.08" fill="#9f9f9f"/><rect x="14" width="1.08" height="1.08" fill="#a5a5a5"/><rect x="15" width="1.08" height="1.08" fill="#a5a5a5"/><rect x="16" width="1.08" height="1.08" fill="#9f9f9f"/><rect x="17" width="1.08" height="1.08" fill="#909090"/><rect x="18" width="1.08" height="1.08" fill="#7a7a7a"/><rect x="19" width="1.08" height="1.08" fill="#616161"/><rect x="20" width="1.08" height="1.08" fill="#4a4a4a"/><rect x="21" width="1.08" height="1.08" fill="#383838"/><rect x="22" width="1.08" height="1.08" fill="#272727"/><rect x="23" width="1.08" height="1.08" fill="#141414"/><rect x="24" width="1.08" height="1.08" fill="#020202"/><rect x="25" width="1.08" height="1.08" fill="#1a1a1a"/><rect x="26" width="1.08" height="1.08" fill="#323232"/><rect x="27" width="1.08" height="1.08" fill="#414141"/><rect x="28" width="1.08" height="1.08" fill="#4d4d4d"/><rect x="29" width="1.08" height="1.08" fill="#545454"/><rect x="30" width="1.08" height="1.08" fill="#585858"/><rect x="31" width="1.08" height="1.08" fill="#5b5b5b"/></g>
<g transform="translate(0 -1)"><rect x="-2" width="1.08" height="1.08" fill="#7c7c7c"/><rect x="-1" width="1.08" height="1.08" fill="#797979"/><rect x="0" width="1.08" height="1.08" fill="#757575"/><rect x="1" width="1.08" height="1.08" fill="#6a6a6a"/><rect x="2" width="1.08" height="1.08" fill="#636363"/><rect x="3" width="1.08" height="1.08" fill="#656565"/><rect x="4" width="1.08" height="1.08" fill="#6d6d6d"/><rect x="5" width="1.08" height="1.08" fill="#7a7a7a"/><rect x="6" width="1.08" height="1.08" fill="#747474"/><rect x="7" width="1.08" height="1.08" fill="#656565"/><rect x="8" width="1.08" height="1.08" fill="#5a5a5a"/><rect x="9" width="1.08" height="1.08" fill="#5c5c5c"/><rect x="10" width="1.08" height="1.08" fill="#6c6c6c"/><rect x="11" width="1.08" height="1.08" fill="#878787"/><rect x="12" width="1.08" height="1.08" fill="#9b9b9b"/><rect x="13" width="1.08" height="1.08" fill="#a6a6a6"/><rect x="14" width="1.08" height="1.08" fill="#acacac"/><rect x="15" width="1.08" height="1.08" fill="#acacac"/><rect x="16" width="1.08" height="1.08" fill="#a6a6a6"/><rect x="17" width="1.08" height="1.08" fill="#969696"/><rect x="18" width="1.08" height="1.08" fill="#7f7f7f"/><rect x="19" width="1.08" height="1.08" fill="#666666"/><rect x="20" width="1.08" height="1.08" fill="#4e4e4e"/><rect x="21" width="1.08" height="1.08" fill="#3b3b3b"/><rect x="22" width="1.08" height="1.08" fill="#292929"/><rect x="23" width="1.08" height="1.08" fill="#151515"/><rect x="24" width="1.08" height="1.08" fill="#020202"/><rect x="25" width="1.08" height="1.08" fill="#1a1a1a"/><rect x="26" width="1.08" height="1.08" fill="#323232"/><rect x="27" width="1.08" height="1.08" fill="#414141"/><rect x="28" width="1.08" height="1.08" fill="#4d4d4d"/><rect x="29" width="1.08" height="1.08" fill="#545454"/><rect x="30" width="1.08" height="1.08" fill="#585858"/><rect x="31" width="1.08" height="1.08" fill="#5b5b5b"/></g>
<g transform="translate(0 0)"><rect x="-2" width="1.08" height="1.08" fill="#7c7c7c"/><rect x="-1" width="1.08" height="1.08" fill="#787878"/><rect x="0" width="1.08" height="1.08" fill="#747474"/><rect x="1" width="1.08" height="1.08" fill="#696969"/><rect x="2" width="1.08" height="1.08" fill="#606060"/><rect x="3" width="1.08" height="1.08" fill="#616161"/><rect x="4" width="1.08" height="1.08" fill="#686868"/><rect x="5" width="1.08" height="1.08" fill="#747474"/><rect x="6" width="1.08" height="1.08" fill="#6e6e6e"/><rect x="7" width="1.08" height="1.08" fill="#626262"/><rect x="8" width="1.08" height="1.08" fill="#595959"/><rect x="9" width="1.08" height="1.08" fill="#5e5e5e"/><rect x="10" width="1.08" height="1.08" fill="#717171"/><rect x="11" width="1.08" height="1.08" fill="#8d8d8d"/><rect x="12" width="1.08" height="1.08" fill="#a2a2a2"/><rect x="13" width="1.08" height="1.08" fill="#adadad"/><rect x="14" width="1.08" height="1.08" fill="#b3b3b3"/><rect x="15" width="1.08" height="1.08" fill="#b3b3b3"/><rect x="16" width="1.08" height="1.08" fill="#adadad"/><rect x="17" width="1.08" height="1.08" fill="#9e9e9e"/><rect x="18" width="1.08" height="1.08" fill="#868686"/><rect x="19" width="1.08" height="1.08" fill="#6b6b6b"/><rect x="20" width="1.08" height="1.08" fill="#525252"/><rect x="21" width="1.08" height="1.08" fill="#3e3e3e"/><rect x="22" width="1.08" height="1.08" fill="#2c2c2c"/><rect x="23" width="1.08" height="1.08" fill="#171717"/><rect x="24" width="1.08" height="1.08" fill="#020202"/><rect x="25" width="1.08" height="1.08" fill="#1a1a1a"/><rect x="26" width="1.08" height="1.08" fill="#323232"/><rect x="27" width="1.08" height="1.08" fill="#414141"/><rect x="28" width="1.08" height="1.08" fill="#4d4d4d"/><rect x="29" width="1.08" height="1.08" fill="#545454"/><rect x="30" width="1.08" height="1.08" fill="#585858"/><rect x="31" width="1.08" height="1.08" fill="#5b5b5b"/></g>
<g transform="translate(0 1)"><rect x="-2" width="1.08" height="1.08" fill="#7b7b7b"/><rect x="-1" width="1.08" height="1.08" fill="#787878"/><rect x="0" width="1.08" height="1.08" fill="#737373"/><rect x="1" width="1.08" height="1.08" fill="#666666"/><rect x="2" width="1.08" height="1.08" fill="#5b5b5b"/><rect x="3" width="1.08" height="1.08" fill="#5a5a5a"/><rect x="4" width="1.08" height="1.08" fill="#5f5f5f"/><rect x="5" width="1.08" height="1.08" fill="#6a6a6a"/><rect x="6" width="1.08" height="1.08" fill="#656565"/><rect x="7" width="1.08" height="1.08" fill="#5b5b5b"/><rect x="8" width="1.08" height="1.08" fill="#575757"/><rect x="9" width="1.08" height="1.08" fill="#636363"/><rect x="10" width="1.08" height="1.08" fill="#797979"/><rect x="11" width="1.08" height="1.08" fill="#989898"/><rect x="12" width="1.08" height="1.08" fill="#adadad"/><rect x="13" width="1.08" height="1.08" fill="#b7b7b7"/><rect x="14" width="1.08" height="1.08" fill="#bdbdbd"/><rect x="15" width="1.08" height="1.08" fill="#bdbdbd"/><rect x="16" width="1.08" height="1.08" fill="#b7b7b7"/><rect x="17" width="1.08" height="1.08" fill="#a9a9a9"/><rect x="18" width="1.08" height="1.08" fill="#919191"/><rect x="19" width="1.08" height="1.08" fill="#747474"/><rect x="20" width="1.08" height="1.08" fill="#595959"/><rect x="21" width="1.08" height="1.08" fill="#444444"/><rect x="22" width="1.08" height="1.08" fill="#2f2f2f"/><rect x="23" width="1.08" height="1.08" fill="#191919"/><rect x="24" width="1.08" height="1.08" fill="#020202"/><rect x="25" width="1.08" height="1.08" fill="#1a1a1a"/><rect x="26" width="1.08" height="1.08" fill="#323232"/><rect x="27" width="1.08" height="1.08" fill="#414141"/><rect x="28" width="1.08" height="1.08" fill="#4d4d4d"/><rect x="29" width="1.08" height="1.08" fill="#545454"/><rect x="30" width="1.08" height="1.08" fill="#585858"/><rect x="31" width="1.08" height="1.08" fill="#5b5b5b"/></g>
<g transform="translate(0 2)"><rect x="-2" width="1.08" height="1.08" fill="#7b7b7b"/><rect x="-1" width="1.08" height="1.08" fill="#777777"/><rect x="0" width="1.08" height="1.08" fill="#727272"/><rect x="1" width="1.08" height="1.08" fill="#646464"/><rect x="2" width="1.08" height="1.08" fill="#565656"/><rect x="3" width="1.08" height="1.08" fill="#515151"/><rect x="4" width="1.08" height="1.08" fill="#545454"/><rect x="5" width="1.08" height="1.08" fill="#5c5c5c"/><rect x="6" width="1.08" height="1.08" fill="#595959"/><rect x="7" width="1.08" height="1.08" fill="#535353"/><rect x="8" width="1.08" height="1.08" fill="#565656"/><rect x="9" width="1.08" height="1.08" fill="#686868"/><rect x="10" width="1.08" height="1.08" fill="#828282"/><rect x="11" width="1.08" height="1.08" fill="#a3a3a3"/><rect x="12" width="1.08" height="1.08" fill="#b9b9b9"/><rect x="13" width="1.08" height="1.08" fill="#c3c3c3"/><rect x="14" width="1.08" height="1.08" fill="#c8c8c8"/><rect x="15" width="1.08" height="1.08" fill="#c8c8c8"/><rect x="16" width="1.08" height="1.08" fill="#c3c3c3"/><rect x="17" width="1.08" height="1.08" fill="#b4b4b4"/><rect x="18" width="1.08" height="1.08" fill="#9c9c9c"/><rect x="19" width="1.08" height="1.08" fill="#7e7e7e"/><rect x="20" width="1.08" height="1.08" fill="#616161"/><rect x="21" width="1.08" height="1.08" fill="#4a4a4a"/><rect x="22" width="1.08" height="1.08" fill="#343434"/><rect x="23" width="1.08" height="1.08" fill="#1b1b1b"/><rect x="24" width="1.08" height="1.08" fill="#020202"/><rect x="25" width="1.08" height="1.08" fill="#1a1a1a"/><rect x="26" width="1.08" height="1.08" fill="#323232"/><rect x="27" width="1.08" height="1.08" fill="#414141"/><rect x="28" width="1.08" height="1.08" fill="#4d4d4d"/><rect x="29" width="1.08" height="1.08" fill="#545454"/><rect x="30" width="1.08" height="1.08" fill="#585858"/><rect x="31" width="1.08" height="1.08" fill="#5b5b5b"/></g>
<g transform="translate(0 3)"><rect x="-2" width="1.08" height="1.08" fill="#7a7a7a"/><rect x="-1" width="1.08" height="1.08" fill="#767676"/><rect x="0" width="1.08" height="1.08" fill="#717171"/><rect x="1" width="1.08" height="1.08" fill="#616161"/><rect x="2" width="1.08" height="1.08" fill="#515151"/><rect x="3" width="1.08" height="1.08" fill="#494949"/><rect x="4" width="1.08" height="1.08" fill="#484848"/><rect x="5" width="1.08" height="1.08" fill="#4f4f4f"/><rect x="6" width="1.08" height="1.08" fill="#4d4d4d"/><rect x="7" width="1.08" height="1.08" fill="#4b4b4b"/><rect x="8" width="1.08" height="1.08" fill="#555555"/><rect x="9" width="1.08" height="1.08" fill="#6c6c6c"/><rect x="10" width="1.08" height="1.08" fill="#8a8a8a"/><rect x="11" width="1.08" height="1.08" fill="#adadad"/><rect x="12" width="1.08" height="1.08" fill="#c3c3c3"/><rect x="13" width="1.08" height="1.08" fill="#cdcdcd"/><rect x="14" width="1.08" height="1.08" fill="#d2d2d2"/><rect x="15" width="1.08" height="1.08" fill="#d2d2d2"/><rect x="16" width="1.08" height="1.08" fill="#cdcdcd"/><rect x="17" width="1.08" height="1.08" fill="#bebebe"/><rect x="18" width="1.08" height="1.08" fill="#a5a5a5"/><rect x="19" width="1.08" height="1.08" fill="#868686"/><rect x="20" width="1.08" height="1.08" fill="#676767"/><rect x="21" width="1.08" height="1.08" fill="#4e4e4e"/><rect x="22" width="1.08" height="1.08" fill="#373737"/><rect x="23" width="1.08" height="1.08" fill="#1c1c1c"/><rect x="24" width="1.08" height="1.08" fill="#020202"/><rect x="25" width="1.08" height="1.08" fill="#1a1a1a"/><rect x="26" width="1.08" height="1.08" fill="#323232"/><rect x="27" width="1.08" height="1.08" fill="#414141"/><rect x="28" width="1.08" height="1.08" fill="#4d4d4d"/><rect x="29" width="1.08" height="1.08" fill="#545454"/><rect x="30" width="1.08" height="1.08" fill="#585858"/><rect x="31" width="1.08" height="1.08" fill="#5b5b5b"/></g>
<g transform="translate(0 4)"><rect x="-2" width="1.08" height="1.08" fill="#797979"/><rect x="-1" width="1.08" height="1.08" fill="#767676"/><rect x="0" width="1.08" height="1.08" fill="#707070"/><rect x="1" width="1.08" height="1.08" fill="#5f5f5f"/><rect x="2" width="1.08" height="1.08" fill="#4d4d4d"/><rect x="3" width="1.08" height="1.08" fill="#424242"/><rect x="4" width="1.08" height="1.08" fill="#3e3e3e"/><rect x="5" width="1.08" height="1.08" fill="#424242"/><rect x="6" width="1.08" height="1.08" fill="#424242"/><rect x="7" width="1.08" height="1.08" fill="#454545"/><rect x="8" width="1.08" height="1.08" fill="#555555"/><rect x="9" width="1.08" height="1.08" fill="#707070"/><rect x="10" width="1.08" height="1.08" fill="#919191"/><rect x="11" width="1.08" height="1.08" fill="#b6b6b6"/><rect x="12" width="1.08" height="1.08" fill="#cdcdcd"/><rect x="13" width="1.08" height="1.08" fill="#d7d7d7"/><rect x="14" width="1.08" height="1.08" fill="#dcdcdc"/><rect x="15" width="1.08" height="1.08" fill="#dcdcdc"/><rect x="16" width="1.08" height="1.08" fill="#d7d7d7"/><rect x="17" width="1.08" height="1.08" fill="#c8c8c8"/><rect x="18" width="1.08" height="1.08" fill="#aeaeae"/><rect x="19" width="1.08" height="1.08" fill="#8d8d8d"/><rect x="20" width="1.08" height="1.08" fill="#6d6d6d"/><rect x="21" width="1.08" height="1.08" fill="#525252"/><rect x="22" width="1.08" height="1.08" fill="#3a3a3a"/><rect x="23" width="1.08" height="1.08" fill="#1e1e1e"/><rect x="24" width="1.08" height="1.08" fill="#020202"/><rect x="25" width="1.08" height="1.08" fill="#1a1a1a"/><rect x="26" width="1.08" height="1.08" fill="#323232"/><rect x="27" width="1.08" height="1.08" fill="#414141"/><rect x="28" width="1.08" height="1.08" fill="#4d4d4d"/><rect x="29" width="1.08" height="1.08" fill="#545454"/><rect x="30" width="1.08" height="1.08" fill="#585858"/><rect x="31" width="1.08" height="1.08" fill="#5b5b5b"/></g>
<g transform="translate(0 5)"><rect x="-2" width="1.08" height="1.08" fill="#797979"/><rect x="-1" width="1.08" height="1.08" fill="#767676"/><rect x="0" width="1.08" height="1.08" fill="#6f6f6f"/><rect x="1" width="1.08" height="1.08" fill="#5e5e5e"/><rect x="2" width="1.08" height="1.08" fill="#4a4a4a"/><rect x="3" width="1.08" height="1.08" fill="#3c3c3c"/><rect x="4" width="1.08" height="1.08" fill="#353535"/><rect x="5" width="1.08" height="1.08" fill="#373737"/><rect x="6" width="1.08" height="1.08" fill="#393939"/><rect x="7" width="1.08" height="1.08" fill="#414141"/><rect x="8" width="1.08" height="1.08" fill="#555555"/><rect x="9" width="1.08" height="1.08" fill="#747474"/><rect x="10" width="1.08" height="1.08" fill="#979797"/><rect x="11" width="1.08" height="1.08" fill="#bebebe"/><rect x="12" width="1.08" height="1.08" fill="#d6d6d6"/><rect x="13" width="1.08" height="1.08" fill="#e0e0e0"/><rect x="14" width="1.08" height="1.08" fill="#e6e6e6"/><rect x="15" width="1.08" height="1.08" fill="#e6e6e6"/><rect x="16" width="1.08" height="1.08" fill="#e0e0e0"/><rect x="17" width="1.08" height="1.08" fill="#d1d1d1"/><rect x="18" width="1.08" height="1.08" fill="#b6b6b6"/><rect x="19" width="1.08" height="1.08" fill="#939393"/><rect x="20" width="1.08" height="1.08" fill="#727272"/><rect x="21" width="1.08" height="1.08" fill="#565656"/><rect x="22" width="1.08" height="1.08" fill="#3c3c3c"/><rect x="23" width="1.08" height="1.08" fill="#1f1f1f"/><rect x="24" width="1.08" height="1.08" fill="#030303"/><rect x="25" width="1.08" height="1.08" fill="#1a1a1a"/><rect x="26" width="1.08" height="1.08" fill="#323232"/><rect x="27" width="1.08" height="1.08" fill="#414141"/><rect x="28" width="1.08" height="1.08" fill="#4d4d4d"/><rect x="29" width="1.08" height="1.08" fill="#545454"/><rect x="30" width="1.08" height="1.08" fill="#585858"/><rect x="31" width="1.08" height="1.08" fill="#5b5b5b"/></g>
<g transform="translate(0 6)"><rect x="-2" width="1.08" height="1.08" fill="#797979"/><rect x="-1" width="1.08" height="1.08" fill="#757575"/><rect x="0" width="1.08" height="1.08" fill="#6f6f6f"/><rect x="1" width="1.08" height="1.08" fill="#5c5c5c"/><rect x="2" width="1.08" height="1.08" fill="#474747"/><rect x="3" width="1.08" height="1.08" fill="#373737"/><rect x="4" width="1.08" height="1.08" fill="#2c2c2c"/><rect x="5" width="1.08" height="1.08" fill="#2c2c2c"/><rect x="6" width="1.08" height="1.08" fill="#303030"/><rect x="7" width="1.08" height="1.08" fill="#3d3d3d"/><rect x="8" width="1.08" height="1.08" fill="#555555"/><rect x="9" width="1.08" height="1.08" fill="#777777"/><rect x="10" width="1.08" height="1.08" fill="#9c9c9c"/><rect x="11" width="1.08" height="1.08" fill="#c4c4c4"/><rect x="12" width="1.08" height="1.08" fill="#dddddd"/><rect x="13" width="1.08" height="1.08" fill="#e8e8e8"/><rect x="14" width="1.08" height="1.08" fill="#eeeeee"/><rect x="15" width="1.08" height="1.08" fill="#eeeeee"/><rect x="16" width="1.08" height="1.08" fill="#e8e8e8"/><rect x="17" width="1.08" height="1.08" fill="#d8d8d8"/><rect x="18" width="1.08" height="1.08" fill="#bcbcbc"/><rect x="19" width="1.08" height="1.08" fill="#989898"/><rect x="20" width="1.08" height="1.08" fill="#767676"/><rect x="21" width="1.08" height="1.08" fill="#595959"/><rect x="22" width="1.08" height="1.08" fill="#3f3f3f"/><rect x="23" width="1.08" height="1.08" fill="#202020"/><rect x="24" width="1.08" height="1.08" fill="#030303"/><rect x="25" width="1.08" height="1.08" fill="#1a1a1a"/><rect x="26" width="1.08" height="1.08" fill="#323232"/><rect x="27" width="1.08" height="1.08" fill="#414141"/><rect x="28" width="1.08" height="1.08" fill="#4d4d4d"/><rect x="29" width="1.08" height="1.08" fill="#545454"/><rect x="30" width="1.08" height="1.08" fill="#585858"/><rect x="31" width="1.08" height="1.08" fill="#5b5b5b"/></g>
<g transform="translate(0 7)"><rect x="-2" width="1.08" height="1.08" fill="#797979"/><rect x="-1" width="1.08" height="1.08" fill="#757575"/><rect x="0" width="1.08" height="1.08" fill="#6f6f6f"/><rect x="1" width="1.08" height="1.08" fill="#5b5b5b"/><rect x="2" width="1.08" height="1.08" fill="#454545"/><rect x="3" width="1.08" height="1.08" fill="#333333"/><rect x="4" width="1.08" height="1.08" fill="#252525"/><rect x="5" width="1.08" height="1.08" fill="#222222"/><rect x="6" width="1.08" height="1.08" fill="#292929"/><rect x="7" width="1.08" height="1.08" fill="#3a3a3a"/><rect x="8" width="1.08" height="1.08" fill="#565656"/><rect x="9" width="1.08" height="1.08" fill="#7b7b7b"/><rect x="10" width="1.08" height="1.08" fill="#a1a1a1"/><rect x="11" width="1.08" height="1.08" fill="#cbcbcb"/><rect x="12" width="1.08" height="1.08" fill="#e4e4e4"/><rect x="13" width="1.08" height="1.08" fill="#efefef"/><rect x="14" width="1.08" height="1.08" fill="#f5f5f5"/><rect x="15" width="1.08" height="1.08" fill="#f5f5f5"/><rect x="16" width="1.08" height="1.08" fill="#efefef"/><rect x="17" width="1.08" height="1.08" fill="#dfdfdf"/><rect x="18" width="1.08" height="1.08" fill="#c2c2c2"/><rect x="19" width="1.08" height="1.08" fill="#9d9d9d"/><rect x="20" width="1.08" height="1.08" fill="#7a7a7a"/><rect x="21" width="1.08" height="1.08" fill="#5c5c5c"/><rect x="22" width="1.08" height="1.08" fill="#414141"/><rect x="23" width="1.08" height="1.08" fill="#212121"/><rect x="24" width="1.08" height="1.08" fill="#030303"/><rect x="25" width="1.08" height="1.08" fill="#1a1a1a"/><rect x="26" width="1.08" height="1.08" fill="#323232"/><rect x="27" width="1.08" height="1.08" fill="#414141"/><rect x="28" width="1.08" height="1.08" fill="#4d4d4d"/><rect x="29" width="1.08" height="1.08" fill="#545454"/><rect x="30" width="1.08" height="1.08" fill="#585858"/><rect x="31" width="1.08" height="1.08" fill="#5b5b5b"/></g>
<g transform="translate(0 8)"><rect x="-2" width="1.08" height="1.08" fill="#797979"/><rect x="-1" width="1.08" height="1.08" fill="#757575"/><rect x="0" width="1.08" height="1.08" fill="#6e6e6e"/><rect x="1" width="1.08" height="1.08" fill="#5b5b5b"/><rect x="2" width="1.08" height="1.08" fill="#444444"/><rect x="3" width="1.08" height="1.08" fill="#303030"/><rect x="4" width="1.08" height="1.08" fill="#1f1f1f"/><rect x="5" width="1.08" height="1.08" fill="#1a1a1a"/><rect x="6" width="1.08" height="1.08" fill="#242424"/><rect x="7" width="1.08" height="1.08" fill="#393939"/><rect x="8" width="1.08" height="1.08" fill="#585858"/><rect x="9" width="1.08" height="1.08" fill="#7e7e7e"/><rect x="10" width="1.08" height="1.08" fill="#a5a5a5"/><rect x="11" width="1.08" height="1.08" fill="#d0d0d0"/><rect x="12" width="1.08" height="1.08" fill="#eaeaea"/><rect x="13" width="1.08" height="1.08" fill="#f5f5f5"/><rect x="14" width="1.08" height="1.08" fill="#fbfbfb"/><rect x="15" width="1.08" height="1.08" fill="#fbfbfb"/><rect x="16" width="1.08" height="1.08" fill="#f5f5f5"/><rect x="17" width="1.08" height="1.08" fill="#e5e5e5"/><rect x="18" width="1.08" height="1.08" fill="#c8c8c8"/><rect x="19" width="1.08" height="1.08" fill="#a2a2a2"/><rect x="20" width="1.08" height="1.08" fill="#7d7d7d"/><rect x="21" width="1.08" height="1.08" fill="#5f5f5f"/><rect x="22" width="1.08" height="1.08" fill="#434343"/><rect x="23" width="1.08" height="1.08" fill="#222222"/><rect x="24" width="1.08" height="1.08" fill="#030303"/><rect x="25" width="1.08" height="1.08" fill="#1a1a1a"/><rect x="26" width="1.08" height="1.08" fill="#323232"/><rect x="27" width="1.08" height="1.08" fill="#414141"/><rect x="28" width="1.08" height="1.08" fill="#4d4d4d"/><rect x="29" width="1.08" height="1.08" fill="#545454"/><rect x="30" width="1.08" height="1.08" fill="#585858"/><rect x="31" width="1.08" height="1.08" fill="#5b5b5b"/></g>
<g transform="translate(0 9)"><rect x="-2" width="1.08" height="1.08" fill="#787878"/><rect x="-1" width="1.08" height="1.08" fill="#757575"/><rect x="0" width="1.08" height="1.08" fill="#6e6e6e"/><rect x="1" width="1.08" height="1.08" fill="#5b5b5b"/><rect x="2" width="1.08" height="1.08" fill="#434343"/><rect x="3" width="1.08" height="1.08" fill="#2f2f2f"/><rect x="4" width="1.08" height="1.08" fill="#1c1c1c"/><rect x="5" width="1.08" height="1.08" fill="#151515"/><rect x="6" width="1.08" height="1.08" fill="#212121"/><rect x="7" width="1.08" height="1.08" fill="#383838"/><rect x="8" width="1.08" height="1.08" fill="#595959"/><rect x="9" width="1.08" height="1.08" fill="#808080"/><rect x="10" width="1.08" height="1.08" fill="#a9a9a9"/><rect x="11" width="1.08" height="1.08" fill="#d4d4d4"/><rect x="12" width="1.08" height="1.08" fill="#efefef"/><rect x="13" width="1.08" height="1.08" fill="#fafafa"/><rect x="14" width="1.08" height="1.08" fill="#ffffff"/><rect x="15" width="1.08" height="1.08" fill="#ffffff"/><rect x="16" width="1.08" height="1.08" fill="#fafafa"/><rect x="17" width="1.08" height="1.08" fill="#eaeaea"/><rect x="18" width="1.08" height="1.08" fill="#cccccc"/><rect x="19" width="1.08" height="1.08" fill="#a5a5a5"/><rect x="20" width="1.08" height="1.08" fill="#808080"/><rect x="21" width="1.08" height="1.08" fill="#616161"/><rect x="22" width="1.08" height="1.08" fill="#444444"/><rect x="23" width="1.08" height="1.08" fill="#232323"/><rect x="24" width="1.08" height="1.08" fill="#030303"/><rect x="25" width="1.08" height="1.08" fill="#1a1a1a"/><rect x="26" width="1.08" height="1.08" fill="#323232"/><rect x="27" width="1.08" height="1.08" fill="#414141"/><rect x="28" width="1.08" height="1.08" fill="#4d4d4d"/><rect x="29" width="1.08" height="1.08" fill="#545454"/><rect x="30" width="1.08" height="1.08" fill="#585858"/><rect x="31" width="1.08" height="1.08" fill="#5b5b5b"/></g>
<g transform="translate(0 10)"><rect x="-2" width="1.08" height="1.08" fill="#787878"/><rect x="-1" width="1.08" height="1.08" fill="#757575"/><rect x="0" width="1.08" height="1.08" fill="#6e6e6e"/><rect x="1" width="1.08" height="1.08" fill="#5a5a5a"/><rect x="2" width="1.08" height="1.08" fill="#434343"/><rect x="3" width="1.08" height="1.08" fill="#2e2e2e"/><rect x="4" width="1.08" height="1.08" fill="#1a1a1a"/><rect x="5" width="1.08" height="1.08" fill="#101010"/><rect x="6" width="1.08" height="1.08" fill="#1f1f1f"/><rect x="7" width="1.08" height="1.08" fill="#383838"/><rect x="8" width="1.08" height="1.08" fill="#595959"/><rect x="9" width="1.08" height="1.08" fill="#818181"/><rect x="10" width="1.08" height="1.08" fill="#aaaaaa"/><rect x="11" width="1.08" height="1.08" fill="#d7d7d7"/><rect x="12" width="1.08" height="1.08" fill="#f2f2f2"/><rect x="13" width="1.08" height="1.08" fill="#fefefe"/><rect x="14" width="1.08" height="1.08" fill="#ffffff"/><rect x="15" width="1.08" height="1.08" fill="#ffffff"/><rect x="16" width="1.08" height="1.08" fill="#fefefe"/><rect x="17" width="1.08" height="1.08" fill="#ececec"/><rect x="18" width="1.08" height="1.08" fill="#cecece"/><rect x="19" width="1.08" height="1.08" fill="#a7a7a7"/><rect x="20" width="1.08" height="1.08" fill="#818181"/><rect x="21" width="1.08" height="1.08" fill="#616161"/><rect x="22" width="1.08" height="1.08" fill="#444444"/><rect x="23" width="1.08" height="1.08" fill="#232323"/><rect x="24" width="1.08" height="1.08" fill="#030303"/><rect x="25" width="1.08" height="1.08" fill="#1a1a1a"/><rect x="26" width="1.08" height="1.08" fill="#323232"/><rect x="27" width="1.08" height="1.08" fill="#414141"/><rect x="28" width="1.08" height="1.08" fill="#4d4d4d"/><rect x="29" width="1.08" height="1.08" fill="#545454"/><rect x="30" width="1.08" height="1.08" fill="#585858"/><rect x="31" width="1.08" height="1.08" fill="#5b5b5b"/></g>
<g transform="translate(0 11)"><rect x="-2" width="1.08" height="1.08" fill="#787878"/><rect x="-1" width="1.08" height="1.08" fill="#757575"/><rect x="0" width="1.08" height="1.08" fill="#6e6e6e"/><rect x="1" width="1.08" height="1.08" fill="#5a5a5a"/><rect x="2" width="1.08" height="1.08" fill="#424242"/><rect x="3" width="1.08" height="1.08" fill="#2d2d2d"/><rect x="4" width="1.08" height="1.08" fill="#181818"/><rect x="5" width="1.08" height="1.08" fill="#0c0c0c"/><rect x="6" width="1.08" height="1.08" fill="#1d1d1d"/><rect x="7" width="1.08" height="1.08" fill="#373737"/><rect x="8" width="1.08" height="1.08" fill="#595959"/><rect x="9" width="1.08" height="1.08" fill="#818181"/><rect x="10" width="1.08" height="1.08" fill="#aaaaaa"/><rect x="11" width="1.08" height="1.08" fill="#d7d7d7"/><rect x="12" width="1.08" height="1.08" fill="#f3f3f3"/><rect x="13" width="1.08" height="1.08" fill="#ffffff"/><rect x="14" width="1.08" height="1.08" fill="#ffffff"/><rect x="15" width="1.08" height="1.08" fill="#ffffff"/><rect x="16" width="1.08" height="1.08" fill="#ffffff"/><rect x="17" width="1.08" height="1.08" fill="#eeeeee"/><rect x="18" width="1.08" height="1.08" fill="#cecece"/><rect x="19" width="1.08" height="1.08" fill="#a7a7a7"/><rect x="20" width="1.08" height="1.08" fill="#818181"/><rect x="21" width="1.08" height="1.08" fill="#616161"/><rect x="22" width="1.08" height="1.08" fill="#444444"/><rect x="23" width="1.08" height="1.08" fill="#232323"/><rect x="24" width="1.08" height="1.08" fill="#030303"/><rect x="25" width="1.08" height="1.08" fill="#1a1a1a"/><rect x="26" width="1.08" height="1.08" fill="#323232"/><rect x="27" width="1.08" height="1.08" fill="#414141"/><rect x="28" width="1.08" height="1.08" fill="#4d4d4d"/><rect x="29" width="1.08" height="1.08" fill="#545454"/><rect x="30" width="1.08" height="1.08" fill="#585858"/><rect x="31" width="1.08" height="1.08" fill="#5b5b5b"/></g>
<g transform="translate(0 12)"><rect x="-2" width="1.08" height="1.08" fill="#787878"/><rect x="-1" width="1.08" height="1.08" fill="#757575"/><rect x="0" width="1.08" height="1.08" fill="#6e6e6e"/><rect x="1" width="1.08" height="1.08" fill="#5a5a5a"/><rect x="2" width="1.08" height="1.08" fill="#424242"/><rect x="3" width="1.08" height="1.08" fill="#2d2d2d"/><rect x="4" width="1.08" height="1.08" fill="#171717"/><rect x="5" width="1.08" height="1.08" fill="#080808"/><rect x="6" width="1.08" height="1.08" fill="#1c1c1c"/><rect x="7" width="1.08" height="1.08" fill="#373737"/><rect x="8" width="1.08" height="1.08" fill="#595959"/><rect x="9" width="1.08" height="1.08" fill="#818181"/><rect x="10" width="1.08" height="1.08" fill="#aaaaaa"/><rect x="11" width="1.08" height="1.08" fill="#d8d8d8"/><rect x="12" width="1.08" height="1.08" fill="#f4f4f4"/><rect x="13" width="1.08" height="1.08" fill="#ffffff"/><rect x="14" width="1.08" height="1.08" fill="#ffffff"/><rect x="15" width="1.08" height="1.08" fill="#ffffff"/><rect x="16" width="1.08" height="1.08" fill="#ffffff"/><rect x="17" width="1.08" height="1.08" fill="#efefef"/><rect x="18" width="1.08" height="1.08" fill="#cfcfcf"/><rect x="19" width="1.08" height="1.08" fill="#a7a7a7"/><rect x="20" width="1.08" height="1.08" fill="#818181"/><rect x="21" width="1.08" height="1.08" fill="#616161"/><rect x="22" width="1.08" height="1.08" fill="#444444"/><rect x="23" width="1.08" height="1.08" fill="#232323"/><rect x="24" width="1.08" height="1.08" fill="#030303"/><rect x="25" width="1.08" height="1.08" fill="#1a1a1a"/><rect x="26" width="1.08" height="1.08" fill="#323232"/><rect x="27" width="1.08" height="1.08" fill="#414141"/><rect x="28" width="1.08" height="1.08" fill="#4d4d4d"/><rect x="29" width="1.08" height="1.08" fill="#545454"/><rect x="30" width="1.08" height="1.08" fill="#585858"/><rect x="31" width="1.08" height="1.08" fill="#5b5b5b"/></g>
<g transform="translate(0 13)"><rect x="-2" width="1.08" height="1.08" fill="#787878"/><rect x="-1" width="1.08" height="1.08" fill="#757575"/><rect x="0" width="1.08" height="1.08" fill="#6e6e6e"/><rect x="1" width="1.08" height="1.08" fill="#5a5a5a"/><rect x="2" width="1.08" height="1.08" fill="#424242"/><rect x="3" width="1.08" height="1.08" fill="#2d2d2d"/><rect x="4" width="1.08" height="1.08" fill="#161616"/><rect x="5" width="1.08" height="1.08" fill="#050505"/><rect x="6" width="1.08" height="1.08" fill="#1b1b1b"/><rect x="7" width="1.08" height="1.08" fill="#373737"/><rect x="8" width="1.08" height="1.08" fill="#595959"/><rect x="9" width="1.08" height="1.08" fill="#818181"/><rect x="10" width="1.08" height="1.08" fill="#aaaaaa"/><rect x="11" width="1.08" height="1.08" fill="#d8d8d8"/><rect x="12" width="1.08" height="1.08" fill="#f5f5f5"/><rect x="13" width="1.08" height="1.08" fill="#ffffff"/><rect x="14" width="1.08" height="1.08" fill="#ffffff"/><rect x="15" width="1.08" height="1.08" fill="#ffffff"/><rect x="16" width="1.08" height="1.08" fill="#ffffff"/><rect x="17" width="1.08" height="1.08" fill="#efefef"/><rect x="18" width="1.08" height="1.08" fill="#cfcfcf"/><rect x="19" width="1.08" height="1.08" fill="#a7a7a7"/><rect x="20" width="1.08" height="1.08" fill="#818181"/><rect x="21" width="1.08" height="1.08" fill="#616161"/><rect x="22" width="1.08" height="1.08" fill="#444444"/><rect x="23" width="1.08" height="1.08" fill="#232323"/><rect x="24" width="1.08" height="1.08" fill="#030303"/><rect x="25" width="1.08" height="1.08" fill="#1a1a1a"/><rect x="26" width="1.08" height="1.08" fill="#323232"/><rect x="27" width="1.08" height="1.08" fill="#414141"/><rect x="28" width="1.08" height="1.08" fill="#4d4d4d"/><rect x="29" width="1.08" height="1.08" fill="#545454"/><rect x="30" width="1.08" height="1.08" fill="#585858"/><rect x="31" width="1.08" height="1.08" fill="#5b5b5b"/></g>
<g transform="translate(0 14)"><rect x="-2" width="1.08" height="1.08" fill="#787878"/><rect x="-1" width="1.08" height="1.08" fill="#757575"/><rect x="0" width="1.08" height="1.08" fill="#6e6e6e"/><rect x="1" width="1.08" height="1.08" fill="#5a5a5a"/><rect x="2" width="1.08" height="1.08" fill="#424242"/><rect x="3" width="1.08" height="1.08" fill="#2d2d2d"/><rect x="4" width="1.08" height="1.08" fill="#161616"/><rect x="5" width="1.08" height="1.08" fill="#030303"/><rect x="6" width="1.08" height="1.08" fill="#1b1b1b"/><rect x="7" width="1.08" height="1.08" fill="#373737"/><rect x="8" width="1.08" height="1.08" fill="#595959"/><rect x="9" width="1.08" height="1.08" fill="#818181"/><rect x="10" width="1.08" height="1.08" fill="#aaaaaa"/><rect x="11" width="1.08" height="1.08" fill="#d8d8d8"/><rect x="12" width="1.08" height="1.08" fill="#f6f6f6"/><rect x="13" width="1.08" height="1.08" fill="#ffffff"/><rect x="14" width="1.08" height="1.08" fill="#ffffff"/><rect x="15" width="1.08" height="1.08" fill="#ffffff"/><rect x="16" width="1.08" height="1.08" fill="#ffffff"/><rect x="17" width="1.08" height="1.08" fill="#f0f0f0"/><rect x="18" width="1.08" height="1.08" fill="#cfcfcf"/><rect x="19" width="1.08" height="1.08" fill="#a7a7a7"/><rect x="20" width="1.08" height="1.08" fill="#818181"/><rect x="21" width="1.08" height="1.08" fill="#616161"/><rect x="22" width="1.08" height="1.08" fill="#444444"/><rect x="23" width="1.08" height="1.08" fill="#232323"/><rect x="24" width="1.08" height="1.08" fill="#030303"/><rect x="25" width="1.08" height="1.08" fill="#1a1a1a"/><rect x="26" width="1.08" height="1.08" fill="#323232"/><rect x="27" width="1.08" height="1.08" fill="#414141"/><rect x="28" width="1.08" height="1.08" fill="#4d4d4d"/><rect x="29" width="1.08" height="1.08" fill="#545454"/><rect x="30" width="1.08" height="1.08" fill="#585858"/><rect x="31" width="1.08" height="1.08" fill="#5b5b5b"/></g>
<g transform="translate(0 15)"><rect x="-2" width="1.08" height="1.08" fill="#787878"/><rect x="-1" width="1.08" height="1.08" fill="#757575"/><rect x="0" width="1.08" height="1.08" fill="#6e6e6e"/><rect x="1" width="1.08" height="1.08" fill="#5a5a5a"/><rect x="2" width="1.08" height="1.08" fill="#424242"/><rect x="3" width="1.08" height="1.08" fill="#2d2d2d"/><rect x="4" width="1.08" height="1.08" fill="#161616"/><rect x="5" width="1.08" height="1.08" fill="#030303"/><rect x="6" width="1.08" height="1.08" fill="#1b1b1b"/><rect x="7" width="1.08" height="1.08" fill="#373737"/><rect x="8" width="1.08" height="1.08" fill="#595959"/><rect x="9" width="1.08" height="1.08" fill="#818181"/><rect x="10" width="1.08" height="1.08" fill="#aaaaaa"/><rect x="11" width="1.08" height="1.08" fill="#d8d8d8"/><rect x="12" width="1.08" height="1.08" fill="#f6f6f6"/><rect x="13" width="1.08" height="1.08" fill="#ffffff"/><rect x="14" width="1.08" height="1.08" fill="#ffffff"/><rect x="15" width="1.08" height="1.08" fill="#ffffff"/><rect x="16" width="1.08" height="1.08" fill="#ffffff"/><rect x="17" width="1.08" height="1.08" fill="#f0f0f0"/><rect x="18" width="1.08" height="1.08" fill="#cfcfcf"/><rect x="19" width="1.08" height="1.08" fill="#a7a7a7"/><rect x="20" width="1.08" height="1.08" fill="#818181"/><rect x="21" width="1.08" height="1.08" fill="#616161"/><rect x="22" width="1.08" height="1.08" fill="#444444"/><rect x="23" width="1.08" height="1.08" fill="#232323"/><rect x="24" width="1.08" height="1.08" fill="#030303"/><rect x="25" width="1.08" height="1.08" fill="#1a1a1a"/><rect x="26" width="1.08" height="1.08" fill="#323232"/><rect x="27" width="1.08" height="1.08" fill="#414141"/><rect x="28" width="1.08" height="1.08" fill="#4d4d4d"/><rect x="29" width="1.08" height="1.08" fill="#545454"/><rect x="30" width="1.08" height="1.08" fill="#585858"/><rect x="31" width="1.08" height="1.08" fill="#5b5b5b"/></g>
<g transform="translate(0 16)"><rect x="-2" width="1.08" height="1.08" fill="#787878"/><rect x="-1" width="1.08" height="1.08" fill="#757575"/><rect x="0" width="1.08" height="1.08" fill="#6e6e6e"/><rect x="1" width="1.08" height="1.08" fill="#5a5a5a"/><rect x="2" width="1.08" height="1.08" fill="#424242"/><rect x="3" width="1.08" height="1.08" fill="#2c2c2c"/><rect x="4" width="1.08" height="1.08" fill="#161616"/><rect x="5" width="1.08" height="1.08" fill="#020202"/><rect x="6" width="1.08" height="1.08" fill="#1b1b1b"/><rect x="7" width="1.08" height="1.08" fill="#373737"/><rect x="8" width="1.08" height="1.08" fill="#595959"/><rect x="9" width="1.08" height="1.08" fill="#818181"/><rect x="10" width="1.08" height="1.08" fill="#aaaaaa"/><rect x="11" width="1.08" height="1.08" fill="#d8d8d8"/><rect x="12" width="1.08" height="1.08" fill="#f5f5f5"/><rect x="13" width="1.08" height="1.08" fill="#ffffff"/><rect x="14" width="1.08" height="1.08" fill="#ffffff"/><rect x="15" width="1.08" height="1.08" fill="#ffffff"/><rect x="16" width="1.08" height="1.08" fill="#ffffff"/><rect x="17" width="1.08" height="1.08" fill="#f0f0f0"/><rect x="18" width="1.08" height="1.08" fill="#cfcfcf"/><rect x="19" width="1.08" height="1.08" fill="#a7a7a7"/><rect x="20" width="1.08" height="1.08" fill="#818181"/><rect x="21" width="1.08" height="1.08" fill="#616161"/><rect x="22" width="1.08" height="1.08" fill="#444444"/><rect x="23" width="1.08" height="1.08" fill="#232323"/><rect x="24" width="1.08" height="1.08" fill="#030303"/><rect x="25" width="1.08" height="1.08" fill="#1a1a1a"/><rect x="26" width="1.08" height="1.08" fill="#323232"/><rect x="27" width="1.08" height="1.08" fill="#414141"/><rect x="28" width="1.08" height="1.08" fill="#4d4d4d"/><rect x="29" width="1.08" height="1.08" fill="#545454"/><rect x="30" width="1.08" height="1.08" fill="#585858"/><rect x="31" width="1.08" height="1.08" fill="#5b5b5b"/></g>
<g transform="translate(0 17)"><rect x="-2" width="1.08" height="1.08" fill="#787878"/><rect x="-1" width="1.08" height="1.08" fill="#757575"/><rect x="0" width="1.08" height="1.08" fill="#6e6e6e"/><rect x="1" width="1.08" height="1.08" fill="#5a5a5a"/><rect x="2" width="1.08" height="1.08" fill="#424242"/><rect x="3" width="1.08" height="1.08" fill="#2d2d2d"/><rect x="4" width="1.08" height="1.08" fill="#161616"/><rect x="5" width="1.08" height="1.08" fill="#030303"/><rect x="6" width="1.08" height="1.08" fill="#1b1b1b"/><rect x="7" width="1.08" height="1.08" fill="#373737"/><rect x="8" width="1.08" height="1.08" fill="#595959"/><rect x="9" width="1.08" height="1.08" fill="#818181"/><rect x="10" width="1.08" height="1.08" fill="#aaaaaa"/><rect x="11" width="1.08" height="1.08" fill="#d8d8d8"/><rect x="12" width="1.08" height="1.08" fill="#f5f5f5"/><rect x="13" width="1.08" height="1.08" fill="#ffffff"/><rect x="14" width="1.08" height="1.08" fill="#ffffff"/><rect x="15" width="1.08" height="1.08" fill="#ffffff"/><rect x="16" width="1.08" height="1.08" fill="#ffffff"/><rect x="17" width="1.08" height="1.08" fill="#efefef"/><rect x="18" width="1.08" height="1.08" fill="#cfcfcf"/><rect x="19" width="1.08" height="1.08" fill="#a7a7a7"/><rect x="20" width="1.08" height="1.08" fill="#818181"/><rect x="21" width="1.08" height="1.08" fill="#616161"/><rect x="22" width="1.08" height="1.08" fill="#444444"/><rect x="23" width="1.08" height="1.08" fill="#232323"/><rect x="24" width="1.08" height="1.08" fill="#030303"/><rect x="25" width="1.08" height="1.08" fill="#1a1a1a"/><rect x="26" width="1.08" height="1.08" fill="#323232"/><rect x="27" width="1.08" height="1.08" fill="#414141"/><rect x="28" width="1.08" height="1.08" fill="#4d4d4d"/><rect x="29" width="1.08" height="1.08" fill="#545454"/><rect x="30" width="1.08" height="1.08" fill="#585858"/><rect x="31" width="1.08" height="1.08" fill="#5b5b5b"/></g>
<g transform="translate(0 18)"><rect x="-2" width="1.08" height="1.08" fill="#787878"/><rect x="-1" width="1.08" height="1.08" fill="#757575"/><rect x="0" width="1.08" height="1.08" fill="#6e6e6e"/><rect x="1" width="1.08" height="1.08" fill="#5a5a5a"/><rect x="2" width="1.08" height="1.08" fill="#424242"/><rect x="3" width="1.08" height="1.08" fill="#2c2c2c"/><rect x="4" width="1.08" height="1.08" fill="#161616"/><rect x="5" width="1.08" height="1.08" fill="#050505"/><rect x="6" width="1.08" height="1.08" fill="#1c1c1c"/><rect x="7" width="1.08" height="1.08" fill="#373737"/><rect x="8" width="1.08" height="1.08" fill="#595959"/><rect x="9" width="1.08" height="1.08" fill="#828282"/><rect x="10" width="1.08" height="1.08" fill="#ababab"/><rect x="11" width="1.08" height="1.08" fill="#d8d8d8"/><rect x="12" width="1.08" height="1.08" fill="#f4f4f4"/><rect x="13" width="1.08" height="1.08" fill="#ffffff"/><rect x="14" width="1.08" height="1.08" fill="#ffffff"/><rect x="15" width="1.08" height="1.08" fill="#ffffff"/><rect x="16" width="1.08" height="1.08" fill="#ffffff"/><rect x="17" width="1.08" height="1.08" fill="#eeeeee"/><rect x="18" width="1.08" height="1.08" fill="#cecece"/><rect x="19" width="1.08" height="1.08" fill="#a6a6a6"/><rect x="20" width="1.08" height="1.08" fill="#808080"/><rect x="21" width="1.08" height="1.08" fill="#616161"/><rect x="22" width="1.08" height="1.08" fill="#444444"/><rect x="23" width="1.08" height="1.08" fill="#232323"/><rect x="24" width="1.08" height="1.08" fill="#020202"/><rect x="25" width="1.08" height="1.08" fill="#1a1a1a"/><rect x="26" width="1.08" height="1.08" fill="#323232"/><rect x="27" width="1.08" height="1.08" fill="#414141"/><rect x="28" width="1.08" height="1.08" fill="#4d4d4d"/><rect x="29" width="1.08" height="1.08" fill="#555555"/><rect x="30" width="1.08" height="1.08" fill="#585858"/><rect x="31" width="1.08" height="1.08" fill="#5b5b5b"/></g>
<g transform="translate(0 19)"><rect x="-2" width="1.08" height="1.08" fill="#787878"/><rect x="-1" width="1.08" height="1.08" fill="#757575"/><rect x="0" width="1.08" height="1.08" fill="#6d6d6d"/><rect x="1" width="1.08" height="1.08" fill="#595959"/><rect x="2" width="1.08" height="1.08" fill="#414141"/><rect x="3" width="1.08" height="1.08" fill="#2c2c2c"/><rect x="4" width="1.08" height="1.08" fill="#161616"/><rect x="5" width="1.08" height="1.08" fill="#080808"/><rect x="6" width="1.08" height="1.08" fill="#1d1d1d"/><rect x="7" width="1.08" height="1.08" fill="#383838"/><rect x="8" width="1.08" height="1.08" fill="#5b5b5b"/><rect x="9" width="1.08" height="1.08" fill="#838383"/><rect x="10" width="1.08" height="1.08" fill="#acacac"/><rect x="11" width="1.08" height="1.08" fill="#d9d9d9"/><rect x="12" width="1.08" height="1.08" fill="#f4f4f4"/><rect x="13" width="1.08" height="1.08" fill="#ffffff"/><rect x="14" width="1.08" height="1.08" fill="#ffffff"/><rect x="15" width="1.08" height="1.08" fill="#ffffff"/><rect x="16" width="1.08" height="1.08" fill="#ffffff"/><rect x="17" width="1.08" height="1.08" fill="#ececec"/><rect x="18" width="1.08" height="1.08" fill="#cccccc"/><rect x="19" width="1.08" height="1.08" fill="#a5a5a5"/><rect x="20" width="1.08" height="1.08" fill="#7f7f7f"/><rect x="21" width="1.08" height="1.08" fill="#606060"/><rect x="22" width="1.08" height="1.08" fill="#434343"/><rect x="23" width="1.08" height="1.08" fill="#222222"/><rect x="24" width="1.08" height="1.08" fill="#020202"/><rect x="25" width="1.08" height="1.08" fill="#1b1b1b"/><rect x="26" width="1.08" height="1.08" fill="#333333"/><rect x="27" width="1.08" height="1.08" fill="#424242"/><rect x="28" width="1.08" height="1.08" fill="#4d4d4d"/><rect x="29" width="1.08" height="1.08" fill="#555555"/><rect x="30" width="1.08" height="1.08" fill="#585858"/><rect x="31" width="1.08" height="1.08" fill="#5b5b5b"/></g>
<g transform="translate(0 20)"><rect x="-2" width="1.08" height="1.08" fill="#787878"/><rect x="-1" width="1.08" height="1.08" fill="#757575"/><rect x="0" width="1.08" height="1.08" fill="#6d6d6d"/><rect x="1" width="1.08" height="1.08" fill="#595959"/><rect x="2" width="1.08" height="1.08" fill="#414141"/><rect x="3" width="1.08" height="1.08" fill="#2c2c2c"/><rect x="4" width="1.08" height="1.08" fill="#171717"/><rect x="5" width="1.08" height="1.08" fill="#0e0e0e"/><rect x="6" width="1.08" height="1.08" fill="#202020"/><rect x="7" width="1.08" height="1.08" fill="#3a3a3a"/><rect x="8" width="1.08" height="1.08" fill="#5c5c5c"/><rect x="9" width="1.08" height="1.08" fill="#848484"/><rect x="10" width="1.08" height="1.08" fill="#adadad"/><rect x="11" width="1.08" height="1.08" fill="#dadada"/><rect x="12" width="1.08" height="1.08" fill="#f3f3f3"/><rect x="13" width="1.08" height="1.08" fill="#fefefe"/><rect x="14" width="1.08" height="1.08" fill="#ffffff"/><rect x="15" width="1.08" height="1.08" fill="#ffffff"/><rect x="16" width="1.08" height="1.08" fill="#fdfdfd"/><rect x="17" width="1.08" height="1.08" fill="#eaeaea"/><rect x="18" width="1.08" height="1.08" fill="#cbcbcb"/><rect x="19" width="1.08" height="1.08" fill="#a4a4a4"/><rect x="20" width="1.08" height="1.08" fill="#7e7e7e"/><rect x="21" width="1.08" height="1.08" fill="#5f5f5f"/><rect x="22" width="1.08" height="1.08" fill="#424242"/><rect x="23" width="1.08" height="1.08" fill="#212121"/><rect x="24" width="1.08" height="1.08" fill="#040404"/><rect x="25" width="1.08" height="1.08" fill="#1c1c1c"/><rect x="26" width="1.08" height="1.08" fill="#343434"/><rect x="27" width="1.08" height="1.08" fill="#424242"/><rect x="28" width="1.08" height="1.08" fill="#4d4d4d"/><rect x="29" width="1.08" height="1.08" fill="#555555"/><rect x="30" width="1.08" height="1.08" fill="#585858"/><rect x="31" width="1.08" height="1.08" fill="#5b5b5b"/></g>
<g transform="translate(0 21)"><rect x="-2" width="1.08" height="1.08" fill="#787878"/><rect x="-1" width="1.08" height="1.08" fill="#747474"/><rect x="0" width="1.08" height="1.08" fill="#6d6d6d"/><rect x="1" width="1.08" height="1.08" fill="#585858"/><rect x="2" width="1.08" height="1.08" fill="#414141"/><rect x="3" width="1.08" height="1.08" fill="#2d2d2d"/><rect x="4" width="1.08" height="1.08" fill="#1a1a1a"/><rect x="5" width="1.08" height="1.08" fill="#141414"/><rect x="6" width="1.08" height="1.08" fill="#232323"/><rect x="7" width="1.08" height="1.08" fill="#3b3b3b"/><rect x="8" width="1.08" height="1.08" fill="#5d5d5d"/><rect x="9" width="1.08" height="1.08" fill="#858585"/><rect x="10" width="1.08" height="1.08" fill="#aeaeae"/><rect x="11" width="1.08" height="1.08" fill="#d9d9d9"/><rect x="12" width="1.08" height="1.08" fill="#f1f1f1"/><rect x="13" width="1.08" height="1.08" fill="#fbfbfb"/><rect x="14" width="1.08" height="1.08" fill="#ffffff"/><rect x="15" width="1.08" height="1.08" fill="#ffffff"/><rect x="16" width="1.08" height="1.08" fill="#fafafa"/><rect x="17" width="1.08" height="1.08" fill="#e8e8e8"/><rect x="18" width="1.08" height="1.08" fill="#c8c8c8"/><rect x="19" width="1.08" height="1.08" fill="#a2a2a2"/><rect x="20" width="1.08" height="1.08" fill="#7d7d7d"/><rect x="21" width="1.08" height="1.08" fill="#5e5e5e"/><rect x="22" width="1.08" height="1.08" fill="#414141"/><rect x="23" width="1.08" height="1.08" fill="#202020"/><rect x="24" width="1.08" height="1.08" fill="#080808"/><rect x="25" width="1.08" height="1.08" fill="#1d1d1d"/><rect x="26" width="1.08" height="1.08" fill="#343434"/><rect x="27" width="1.08" height="1.08" fill="#434343"/><rect x="28" width="1.08" height="1.08" fill="#4e4e4e"/><rect x="29" width="1.08" height="1.08" fill="#555555"/><rect x="30" width="1.08" height="1.08" fill="#595959"/><rect x="31" width="1.08" height="1.08" fill="#5b5b5b"/></g>
<g transform="translate(0 22)"><rect x="-2" width="1.08" height="1.08" fill="#787878"/><rect x="-1" width="1.08" height="1.08" fill="#747474"/><rect x="0" width="1.08" height="1.08" fill="#6c6c6c"/><rect x="1" width="1.08" height="1.08" fill="#585858"/><rect x="2" width="1.08" height="1.08" fill="#414141"/><rect x="3" width="1.08" height="1.08" fill="#2e2e2e"/><rect x="4" width="1.08" height="1.08" fill="#1e1e1e"/><rect x="5" width="1.08" height="1.08" fill="#1b1b1b"/><rect x="6" width="1.08" height="1.08" fill="#272727"/><rect x="7" width="1.08" height="1.08" fill="#3d3d3d"/><rect x="8" width="1.08" height="1.08" fill="#5d5d5d"/><rect x="9" width="1.08" height="1.08" fill="#848484"/><rect x="10" width="1.08" height="1.08" fill="#ababab"/><rect x="11" width="1.08" height="1.08" fill="#d6d6d6"/><rect x="12" width="1.08" height="1.08" fill="#ececec"/><rect x="13" width="1.08" height="1.08" fill="#f6f6f6"/><rect x="14" width="1.08" height="1.08" fill="#fbfbfb"/><rect x="15" width="1.08" height="1.08" fill="#fafafa"/><rect x="16" width="1.08" height="1.08" fill="#f4f4f4"/><rect x="17" width="1.08" height="1.08" fill="#e2e2e2"/><rect x="18" width="1.08" height="1.08" fill="#c3c3c3"/><rect x="19" width="1.08" height="1.08" fill="#9d9d9d"/><rect x="20" width="1.08" height="1.08" fill="#797979"/><rect x="21" width="1.08" height="1.08" fill="#5c5c5c"/><rect x="22" width="1.08" height="1.08" fill="#3f3f3f"/><rect x="23" width="1.08" height="1.08" fill="#202020"/><rect x="24" width="1.08" height="1.08" fill="#0c0c0c"/><rect x="25" width="1.08" height="1.08" fill="#1f1f1f"/><rect x="26" width="1.08" height="1.08" fill="#363636"/><rect x="27" width="1.08" height="1.08" fill="#434343"/><rect x="28" width="1.08" height="1.08" fill="#4e4e4e"/><rect x="29" width="1.08" height="1.08" fill="#555555"/><rect x="30" width="1.08" height="1.08" fill="#595959"/><rect x="31" width="1.08" height="1.08" fill="#5b5b5b"/></g>
<g transform="translate(0 23)"><rect x="-2" width="1.08" height="1.08" fill="#787878"/><rect x="-1" width="1.08" height="1.08" fill="#747474"/><rect x="0" width="1.08" height="1.08" fill="#6c6c6c"/><rect x="1" width="1.08" height="1.08" fill="#585858"/><rect x="2" width="1.08" height="1.08" fill="#424242"/><rect x="3" width="1.08" height="1.08" fill="#303030"/><rect x="4" width="1.08" height="1.08" fill="#232323"/><rect x="5" width="1.08" height="1.08" fill="#232323"/><rect x="6" width="1.08" height="1.08" fill="#2c2c2c"/><rect x="7" width="1.08" height="1.08" fill="#3e3e3e"/><rect x="8" width="1.08" height="1.08" fill="#5c5c5c"/><rect x="9" width="1.08" height="1.08" fill="#808080"/><rect x="10" width="1.08" height="1.08" fill="#a7a7a7"/><rect x="11" width="1.08" height="1.08" fill="#d0d0d0"/><rect x="12" width="1.08" height="1.08" fill="#e5e5e5"/><rect x="13" width="1.08" height="1.08" fill="#efefef"/><rect x="14" width="1.08" height="1.08" fill="#f4f4f4"/><rect x="15" width="1.08" height="1.08" fill="#f3f3f3"/><rect x="16" width="1.08" height="1.08" fill="#ececec"/><rect x="17" width="1.08" height="1.08" fill="#dadada"/><rect x="18" width="1.08" height="1.08" fill="#bcbcbc"/><rect x="19" width="1.08" height="1.08" fill="#979797"/><rect x="20" width="1.08" height="1.08" fill="#747474"/><rect x="21" width="1.08" height="1.08" fill="#585858"/><rect x="22" width="1.08" height="1.08" fill="#3d3d3d"/><rect x="23" width="1.08" height="1.08" fill="#202020"/><rect x="24" width="1.08" height="1.08" fill="#121212"/><rect x="25" width="1.08" height="1.08" fill="#222222"/><rect x="26" width="1.08" height="1.08" fill="#373737"/><rect x="27" width="1.08" height="1.08" fill="#444444"/><rect x="28" width="1.08" height="1.08" fill="#4f4f4f"/><rect x="29" width="1.08" height="1.08" fill="#565656"/><rect x="30" width="1.08" height="1.08" fill="#595959"/><rect x="31" width="1.08" height="1.08" fill="#5c5c5c"/></g>
<g transform="translate(0 24)"><rect x="-2" width="1.08" height="1.08" fill="#787878"/><rect x="-1" width="1.08" height="1.08" fill="#757575"/><rect x="0" width="1.08" height="1.08" fill="#6c6c6c"/><rect x="1" width="1.08" height="1.08" fill="#585858"/><rect x="2" width="1.08" height="1.08" fill="#434343"/><rect x="3" width="1.08" height="1.08" fill="#333333"/><rect x="4" width="1.08" height="1.08" fill="#292929"/><rect x="5" width="1.08" height="1.08" fill="#2c2c2c"/><rect x="6" width="1.08" height="1.08" fill="#323232"/><rect x="7" width="1.08" height="1.08" fill="#404040"/><rect x="8" width="1.08" height="1.08" fill="#5b5b5b"/><rect x="9" width="1.08" height="1.08" fill="#7d7d7d"/><rect x="10" width="1.08" height="1.08" fill="#a1a1a1"/><rect x="11" width="1.08" height="1.08" fill="#c8c8c8"/><rect x="12" width="1.08" height="1.08" fill="#dcdcdc"/><rect x="13" width="1.08" height="1.08" fill="#e5e5e5"/><rect x="14" width="1.08" height="1.08" fill="#e9e9e9"/><rect x="15" width="1.08" height="1.08" fill="#e8e8e8"/><rect x="16" width="1.08" height="1.08" fill="#e2e2e2"/><rect x="17" width="1.08" height="1.08" fill="#d0d0d0"/><rect x="18" width="1.08" height="1.08" fill="#b3b3b3"/><rect x="19" width="1.08" height="1.08" fill="#909090"/><rect x="20" width="1.08" height="1.08" fill="#6f6f6f"/><rect x="21" width="1.08" height="1.08" fill="#545454"/><rect x="22" width="1.08" height="1.08" fill="#3c3c3c"/><rect x="23" width="1.08" height="1.08" fill="#232323"/><rect x="24" width="1.08" height="1.08" fill="#191919"/><rect x="25" width="1.08" height="1.08" fill="#262626"/><rect x="26" width="1.08" height="1.08" fill="#393939"/><rect x="27" width="1.08" height="1.08" fill="#464646"/><rect x="28" width="1.08" height="1.08" fill="#505050"/><rect x="29" width="1.08" height="1.08" fill="#565656"/><rect x="30" width="1.08" height="1.08" fill="#595959"/><rect x="31" width="1.08" height="1.08" fill="#5c5c5c"/></g>
<g transform="translate(0 25)"><rect x="-2" width="1.08" height="1.08" fill="#787878"/><rect x="-1" width="1.08" height="1.08" fill="#757575"/><rect x="0" width="1.08" height="1.08" fill="#6c6c6c"/><rect x="1" width="1.08" height="1.08" fill="#595959"/><rect x="2" width="1.08" height="1.08" fill="#464646"/><rect x="3" width="1.08" height="1.08" fill="#3a3a3a"/><rect x="4" width="1.08" height="1.08" fill="#353535"/><rect x="5" width="1.08" height="1.08" fill="#393939"/><rect x="6" width="1.08" height="1.08" fill="#3c3c3c"/><rect x="7" width="1.08" height="1.08" fill="#454545"/><rect x="8" width="1.08" height="1.08" fill="#5a5a5a"/><rect x="9" width="1.08" height="1.08" fill="#797979"/><rect x="10" width="1.08" height="1.08" fill="#9a9a9a"/><rect x="11" width="1.08" height="1.08" fill="#bfbfbf"/><rect x="12" width="1.08" height="1.08" fill="#d0d0d0"/><rect x="13" width="1.08" height="1.08" fill="#d8d8d8"/><rect x="14" width="1.08" height="1.08" fill="#dcdcdc"/><rect x="15" width="1.08" height="1.08" fill="#dbdbdb"/><rect x="16" width="1.08" height="1.08" fill="#d5d5d5"/><rect x="17" width="1.08" height="1.08" fill="#c5c5c5"/><rect x="18" width="1.08" height="1.08" fill="#a9a9a9"/><rect x="19" width="1.08" height="1.08" fill="#888888"/><rect x="20" width="1.08" height="1.08" fill="#696969"/><rect x="21" width="1.08" height="1.08" fill="#515151"/><rect x="22" width="1.08" height="1.08" fill="#3d3d3d"/><rect x="23" width="1.08" height="1.08" fill="#2b2b2b"/><rect x="24" width="1.08" height="1.08" fill="#272727"/><rect x="25" width="1.08" height="1.08" fill="#2f2f2f"/><rect x="26" width="1.08" height="1.08" fill="#3e3e3e"/><rect x="27" width="1.08" height="1.08" fill="#494949"/><rect x="28" width="1.08" height="1.08" fill="#525252"/><rect x="29" width="1.08" height="1.08" fill="#575757"/><rect x="30" width="1.08" height="1.08" fill="#5a5a5a"/><rect x="31" width="1.08" height="1.08" fill="#5d5d5d"/></g>
<g transform="translate(0 26)"><rect x="-2" width="1.08" height="1.08" fill="#797979"/><rect x="-1" width="1.08" height="1.08" fill="#757575"/><rect x="0" width="1.08" height="1.08" fill="#6d6d6d"/><rect x="1" width="1.08" height="1.08" fill="#5a5a5a"/><rect x="2" width="1.08" height="1.08" fill="#4b4b4b"/><rect x="3" width="1.08" height="1.08" fill="#434343"/><rect x="4" width="1.08" height="1.08" fill="#424242"/><rect x="5" width="1.08" height="1.08" fill="#4a4a4a"/><rect x="6" width="1.08" height="1.08" fill="#4a4a4a"/><rect x="7" width="1.08" height="1.08" fill="#4c4c4c"/><rect x="8" width="1.08" height="1.08" fill="#5a5a5a"/><rect x="9" width="1.08" height="1.08" fill="#747474"/><rect x="10" width="1.08" height="1.08" fill="#929292"/><rect x="11" width="1.08" height="1.08" fill="#b4b4b4"/><rect x="12" width="1.08" height="1.08" fill="#c5c5c5"/><rect x="13" width="1.08" height="1.08" fill="#cccccc"/><rect x="14" width="1.08" height="1.08" fill="#d0d0d0"/><rect x="15" width="1.08" height="1.08" fill="#cfcfcf"/><rect x="16" width="1.08" height="1.08" fill="#c9c9c9"/><rect x="17" width="1.08" height="1.08" fill="#b8b8b8"/><rect x="18" width="1.08" height="1.08" fill="#9d9d9d"/><rect x="19" width="1.08" height="1.08" fill="#7f7f7f"/><rect x="20" width="1.08" height="1.08" fill="#636363"/><rect x="21" width="1.08" height="1.08" fill="#505050"/><rect x="22" width="1.08" height="1.08" fill="#424242"/><rect x="23" width="1.08" height="1.08" fill="#393939"/><rect x="24" width="1.08" height="1.08" fill="#393939"/><rect x="25" width="1.08" height="1.08" fill="#3d3d3d"/><rect x="26" width="1.08" height="1.08" fill="#474747"/><rect x="27" width="1.08" height="1.08" fill="#4f4f4f"/><rect x="28" width="1.08" height="1.08" fill="#555555"/><rect x="29" width="1.08" height="1.08" fill="#5a5a5a"/><rect x="30" width="1.08" height="1.08" fill="#5c5c5c"/><rect x="31" width="1.08" height="1.08" fill="#5e5e5e"/></g>
<g transform="translate(0 27)"><rect x="-2" width="1.08" height="1.08" fill="#7a7a7a"/><rect x="-1" width="1.08" height="1.08" fill="#767676"/><rect x="0" width="1.08" height="1.08" fill="#6d6d6d"/><rect x="1" width="1.08" height="1.08" fill="#5d5d5d"/><rect x="2" width="1.08" height="1.08" fill="#515151"/><rect x="3" width="1.08" height="1.08" fill="#4d4d4d"/><rect x="4" width="1.08" height="1.08" fill="#505050"/><rect x="5" width="1.08" height="1.08" fill="#5b5b5b"/><rect x="6" width="1.08" height="1.08" fill="#585858"/><rect x="7" width="1.08" height="1.08" fill="#555555"/><rect x="8" width="1.08" height="1.08" fill="#5b5b5b"/><rect x="9" width="1.08" height="1.08" fill="#6f6f6f"/><rect x="10" width="1.08" height="1.08" fill="#8a8a8a"/><rect x="11" width="1.08" height="1.08" fill="#aaaaaa"/><rect x="12" width="1.08" height="1.08" fill="#bababa"/><rect x="13" width="1.08" height="1.08" fill="#c2c2c2"/><rect x="14" width="1.08" height="1.08" fill="#c6c6c6"/><rect x="15" width="1.08" height="1.08" fill="#c4c4c4"/><rect x="16" width="1.08" height="1.08" fill="#bebebe"/><rect x="17" width="1.08" height="1.08" fill="#adadad"/><rect x="18" width="1.08" height="1.08" fill="#929292"/><rect x="19" width="1.08" height="1.08" fill="#757575"/><rect x="20" width="1.08" height="1.08" fill="#5e5e5e"/><rect x="21" width="1.08" height="1.08" fill="#505050"/><rect x="22" width="1.08" height="1.08" fill="#494949"/><rect x="23" width="1.08" height="1.08" fill="#494949"/><rect x="24" width="1.08" height="1.08" fill="#4b4b4b"/><rect x="25" width="1.08" height="1.08" fill="#4b4b4b"/><rect x="26" width="1.08" height="1.08" fill="#515151"/><rect x="27" width="1.08" height="1.08" fill="#565656"/><rect x="28" width="1.08" height="1.08" fill="#5a5a5a"/><rect x="29" width="1.08" height="1.08" fill="#5c5c5c"/><rect x="30" width="1.08" height="1.08" fill="#5e5e5e"/><rect x="31" width="1.08" height="1.08" fill="#606060"/></g>
<g transform="translate(0 28)"><rect x="-2" width="1.08" height="1.08" fill="#7a7a7a"/><rect x="-1" width="1.08" height="1.08" fill="#777777"/><rect x="0" width="1.08" height="1.08" fill="#6e6e6e"/><rect x="1" width="1.08" height="1.08" fill="#606060"/><rect x="2" width="1.08" height="1.08" fill="#575757"/><rect x="3" width="1.08" height="1.08" fill="#575757"/><rect x="4" width="1.08" height="1.08" fill="#5f5f5f"/><rect x="5" width="1.08" height="1.08" fill="#6b6b6b"/><rect x="6" width="1.08" height="1.08" fill="#676767"/><rect x="7" width="1.08" height="1.08" fill="#5e5e5e"/><rect x="8" width="1.08" height="1.08" fill="#5d5d5d"/><rect x="9" width="1.08" height="1.08" fill="#6a6a6a"/><rect x="10" width="1.08" height="1.08" fill="#808080"/><rect x="11" width="1.08" height="1.08" fill="#9f9f9f"/><rect x="12" width="1.08" height="1.08" fill="#afafaf"/><rect x="13" width="1.08" height="1.08" fill="#b7b7b7"/><rect x="14" width="1.08" height="1.08" fill="#bcbcbc"/><rect x="15" width="1.08" height="1.08" fill="#bababa"/><rect x="16" width="1.08" height="1.08" fill="#b2b2b2"/><rect x="17" width="1.08" height="1.08" fill="#a0a0a0"/><rect x="18" width="1.08" height="1.08" fill="#868686"/><rect x="19" width="1.08" height="1.08" fill="#6c6c6c"/><rect x="20" width="1.08" height="1.08" fill="#595959"/><rect x="21" width="1.08" height="1.08" fill="#515151"/><rect x="22" width="1.08" height="1.08" fill="#535353"/><rect x="23" width="1.08" height="1.08" fill="#585858"/><rect x="24" width="1.08" height="1.08" fill="#5d5d5d"/><rect x="25" width="1.08" height="1.08" fill="#5a5a5a"/><rect x="26" width="1.08" height="1.08" fill="#5c5c5c"/><rect x="27" width="1.08" height="1.08" fill="#5d5d5d"/><rect x="28" width="1.08" height="1.08" fill="#5f5f5f"/><rect x="29" width="1.08" height="1.08" fill="#606060"/><rect x="30" width="1.08" height="1.08" fill="#616161"/><rect x="31" width="1.08" height="1.08" fill="#636363"/></g>
<g transform="translate(0 29)"><rect x="-2" width="1.08" height="1.08" fill="#7b7b7b"/><rect x="-1" width="1.08" height="1.08" fill="#777777"/><rect x="0" width="1.08" height="1.08" fill="#707070"/><rect x="1" width="1.08" height="1.08" fill="#636363"/><rect x="2" width="1.08" height="1.08" fill="#5e5e5e"/><rect x="3" width="1.08" height="1.08" fill="#616161"/><rect x="4" width="1.08" height="1.08" fill="#6c6c6c"/><rect x="5" width="1.08" height="1.08" fill="#7b7b7b"/><rect x="6" width="1.08" height="1.08" fill="#757575"/><rect x="7" width="1.08" height="1.08" fill="#686868"/><rect x="8" width="1.08" height="1.08" fill="#606060"/><rect x="9" width="1.08" height="1.08" fill="#656565"/><rect x="10" width="1.08" height="1.08" fill="#777777"/><rect x="11" width="1.08" height="1.08" fill="#939393"/><rect x="12" width="1.08" height="1.08" fill="#a4a4a4"/><rect x="13" width="1.08" height="1.08" fill="#acacac"/><rect x="14" width="1.08" height="1.08" fill="#b1b1b1"/><rect x="15" width="1.08" height="1.08" fill="#aeaeae"/><rect x="16" width="1.08" height="1.08" fill="#a6a6a6"/><rect x="17" width="1.08" height="1.08" fill="#939393"/><rect x="18" width="1.08" height="1.08" fill="#7a7a7a"/><rect x="19" width="1.08" height="1.08" fill="#636363"/><rect x="20" width="1.08" height="1.08" fill="#555555"/><rect x="21" width="1.08" height="1.08" fill="#545454"/><rect x="22" width="1.08" height="1.08" fill="#5d5d5d"/><rect x="23" width="1.08" height="1.08" fill="#676767"/><rect x="24" width="1.08" height="1.08" fill="#6e6e6e"/><rect x="25" width="1.08" height="1.08" fill="#686868"/><rect x="26" width="1.08" height="1.08" fill="#676767"/><rect x="27" width="1.08" height="1.08" fill="#666666"/><rect x="28" width="1.08" height="1.08" fill="#656565"/><rect x="29" width="1.08" height="1.08" fill="#646464"/><rect x="30" width="1.08" height="1.08" fill="#636363"/><rect x="31" width="1.08" height="1.08" fill="#666666"/></g>
<g transform="translate(0 30)"><rect x="-2" width="1.08" height="1.08" fill="#7c7c7c"/><rect x="-1" width="1.08" height="1.08" fill="#787878"/><rect x="0" width="1.08" height="1.08" fill="#707070"/><rect x="1" width="1.08" height="1.08" fill="#656565"/><rect x="2" width="1.08" height="1.08" fill="#626262"/><rect x="3" width="1.08" height="1.08" fill="#676767"/><rect x="4" width="1.08" height="1.08" fill="#737373"/><rect x="5" width="1.08" height="1.08" fill="#838383"/><rect x="6" width="1.08" height="1.08" fill="#7c7c7c"/><rect x="7" width="1.08" height="1.08" fill="#6e6e6e"/><rect x="8" width="1.08" height="1.08" fill="#626262"/><rect x="9" width="1.08" height="1.08" fill="#636363"/><rect x="10" width="1.08" height="1.08" fill="#727272"/><rect x="11" width="1.08" height="1.08" fill="#8d8d8d"/><rect x="12" width="1.08" height="1.08" fill="#9d9d9d"/><rect x="13" width="1.08" height="1.08" fill="#a5a5a5"/><rect x="14" width="1.08" height="1.08" fill="#aaaaaa"/><rect x="15" width="1.08" height="1.08" fill="#a7a7a7"/><rect x="16" width="1.08" height="1.08" fill="#9f9f9f"/><rect x="17" width="1.08" height="1.08" fill="#8c8c8c"/><rect x="18" width="1.08" height="1.08" fill="#737373"/><rect x="19" width="1.08" height="1.08" fill="#5e5e5e"/><rect x="20" width="1.08" height="1.08" fill="#535353"/><rect x="21" width="1.08" height="1.08" fill="#565656"/><rect x="22" width="1.08" height="1.08" fill="#626262"/><rect x="23" width="1.08" height="1.08" fill="#6f6f6f"/><rect x="24" width="1.08" height="1.08" fill="#767676"/><rect x="25" width="1.08" height="1.08" fill="#707070"/><rect x="26" width="1.08" height="1.08" fill="#6d6d6d"/><rect x="27" width="1.08" height="1.08" fill="#6a6a6a"/><rect x="28" width="1.08" height="1.08" fill="#686868"/><rect x="29" width="1.08" height="1.08" fill="#666666"/><rect x="30" width="1.08" height="1.08" fill="#656565"/><rect x="31" width="1.08" height="1.08" fill="#676767"/></g>
<g transform="translate(0 31)"><rect x="-2" width="1.08" height="1.08" fill="#7c7c7c"/><rect x="-1" width="1.08" height="1.08" fill="#787878"/><rect x="0" width="1.08" height="1.08" fill="#717171"/><rect x="1" width="1.08" height="1.08" fill="#676767"/><rect x="2" width="1.08" height="1.08" fill="#656565"/><rect x="3" width="1.08" height="1.08" fill="#6c6c6c"/><rect x="4" width="1.08" height="1.08" fill="#797979"/><rect x="5" width="1.08" height="1.08" fill="#8a8a8a"/><rect x="6" width="1.08" height="1.08" fill="#828282"/><rect x="7" width="1.08" height="1.08" fill="#727272"/><rect x="8" width="1.08" height="1.08" fill="#636363"/><rect x="9" width="1.08" height="1.08" fill="#616161"/><rect x="10" width="1.08" height="1.08" fill="#6e6e6e"/><rect x="11" width="1.08" height="1.08" fill="#878787"/><rect x="12" width="1.08" height="1.08" fill="#979797"/><rect x="13" width="1.08" height="1.08" fill="#9f9f9f"/><rect x="14" width="1.08" height="1.08" fill="#a4a4a4"/><rect x="15" width="1.08" height="1.08" fill="#a1a1a1"/><rect x="16" width="1.08" height="1.08" fill="#999999"/><rect x="17" width="1.08" height="1.08" fill="#868686"/><rect x="18" width="1.08" height="1.08" fill="#6f6f6f"/><rect x="19" width="1.08" height="1.08" fill="#5b5b5b"/><rect x="20" width="1.08" height="1.08" fill="#525252"/><rect x="21" width="1.08" height="1.08" fill="#585858"/><rect x="22" width="1.08" height="1.08" fill="#676767"/><rect x="23" width="1.08" height="1.08" fill="#767676"/><rect x="24" width="1.08" height="1.08" fill="#7d7d7d"/><rect x="25" width="1.08" height="1.08" fill="#767676"/><rect x="26" width="1.08" height="1.08" fill="#727272"/><rect x="27" width="1.08" height="1.08" fill="#6e6e6e"/><rect x="28" width="1.08" height="1.08" fill="#6b6b6b"/><rect x="29" width="1.08" height="1.08" fill="#676767"/><rect x="30" width="1.08" height="1.08" fill="#666666"/><rect x="31" width="1.08" height="1.08" fill="#696969"/></g>
</g></g></g>
<clipPath id="cp2"><rect x="352.4" y="178.0" width="146.10" height="145.50"/></clipPath>
<g clip-path="url(#cp2)"><g filter="url(#cm)"><g class="hm" transform="translate(352.4 178.0) scale(4.8700 4.8500)">
<g transform="translate(0 -2)"><rect x="-2" width="1.08" height="1.08" fill="#929292"/><rect x="-1" width="1.08" height="1.08" fill="#8e8e8e"/><rect x="0" width="1.08" height="1.08" fill="#8a8a8a"/><rect x="1" width="1.08" height="1.08" fill="#868686"/><rect x="2" width="1.08" height="1.08" fill="#818181"/><rect x="3" width="1.08" height="1.08" fill="#808080"/><rect x="4" width="1.08" height="1.08" fill="#7c7c7c"/><rect x="5" width="1.08" height="1.08" fill="#767676"/><rect x="6" width="1.08" height="1.08" fill="#717171"/><rect x="7" width="1.08" height="1.08" fill="#6e6e6e"/><rect x="8" width="1.08" height="1.08" fill="#6f6f6f"/><rect x="9" width="1.08" height="1.08" fill="#757575"/><rect x="10" width="1.08" height="1.08" fill="#7f7f7f"/><rect x="11" width="1.08" height="1.08" fill="#8a8a8a"/><rect x="12" width="1.08" height="1.08" fill="#959595"/><rect x="13" width="1.08" height="1.08" fill="#9d9d9d"/><rect x="14" width="1.08" height="1.08" fill="#a4a4a4"/><rect x="15" width="1.08" height="1.08" fill="#a4a4a4"/><rect x="16" width="1.08" height="1.08" fill="#9d9d9d"/><rect x="17" width="1.08" height="1.08" fill="#949494"/><rect x="18" width="1.08" height="1.08" fill="#878787"/><rect x="19" width="1.08" height="1.08" fill="#7b7b7b"/><rect x="20" width="1.08" height="1.08" fill="#6e6e6e"/><rect x="21" width="1.08" height="1.08" fill="#606060"/><rect x="22" width="1.08" height="1.08" fill="#525252"/><rect x="23" width="1.08" height="1.08" fill="#404040"/><rect x="24" width="1.08" height="1.08" fill="#2b2b2b"/><rect x="25" width="1.08" height="1.08" fill="#181818"/><rect x="26" width="1.08" height="1.08" fill="#141414"/><rect x="27" width="1.08" height="1.08" fill="#1c1c1c"/><rect x="28" width="1.08" height="1.08" fill="#252525"/><rect x="29" width="1.08" height="1.08" fill="#2d2d2d"/><rect x="30" width="1.08" height="1.08" fill="#303030"/><rect x="31" width="1.08" height="1.08" fill="#323232"/></g>
<g transform="translate(0 -1)"><rect x="-2" width="1.08" height="1.08" fill="#8f8f8f"/><rect x="-1" width="1.08" height="1.08" fill="#8a8a8a"/><rect x="0" width="1.08" height="1.08" fill="#868686"/><rect x="1" width="1.08" height="1.08" fill="#828282"/><rect x="2" width="1.08" height="1.08" fill="#7e7e7e"/><rect x="3" width="1.08" height="1.08" fill="#7c7c7c"/><rect x="4" width="1.08" height="1.08" fill="#797979"/><rect x="5" width="1.08" height="1.08" fill="#747474"/><rect x="6" width="1.08" height="1.08" fill="#717171"/><rect x="7" width="1.08" height="1.08" fill="#707070"/><rect x="8" width="1.08" height="1.08" fill="#727272"/><rect x="9" width="1.08" height="1.08" fill="#7a7a7a"/><rect x="10" width="1.08" height="1.08" fill="#848484"/><rect x="11" width="1.08" height="1.08" fill="#909090"/><rect x="12" width="1.08" height="1.08" fill="#9b9b9b"/><rect x="13" width="1.08" height="1.08" fill="#a3a3a3"/><rect x="14" width="1.08" height="1.08" fill="#aaaaaa"/><rect x="15" width="1.08" height="1.08" fill="#aaaaaa"/><rect x="16" width="1.08" height="1.08" fill="#a3a3a3"/><rect x="17" width="1.08" height="1.08" fill="#9a9a9a"/><rect x="18" width="1.08" height="1.08" fill="#8d8d8d"/><rect x="19" width="1.08" height="1.08" fill="#808080"/><rect x="20" width="1.08" height="1.08" fill="#737373"/><rect x="21" width="1.08" height="1.08" fill="#656565"/><rect x="22" width="1.08" height="1.08" fill="#565656"/><rect x="23" width="1.08" height="1.08" fill="#434343"/><rect x="24" width="1.08" height="1.08" fill="#2d2d2d"/><rect x="25" width="1.08" height="1.08" fill="#191919"/><rect x="26" width="1.08" height="1.08" fill="#151515"/><rect x="27" width="1.08" height="1.08" fill="#1c1c1c"/><rect x="28" width="1.08" height="1.08" fill="#252525"/><rect x="29" width="1.08" height="1.08" fill="#2e2e2e"/><rect x="30" width="1.08" height="1.08" fill="#313131"/><rect x="31" width="1.08" height="1.08" fill="#323232"/></g>
<g transform="translate(0 0)"><rect x="-2" width="1.08" height="1.08" fill="#8b8b8b"/><rect x="-1" width="1.08" height="1.08" fill="#878787"/><rect x="0" width="1.08" height="1.08" fill="#838383"/><rect x="1" width="1.08" height="1.08" fill="#7e7e7e"/><rect x="2" width="1.08" height="1.08" fill="#7a7a7a"/><rect x="3" width="1.08" height="1.08" fill="#787878"/><rect x="4" width="1.08" height="1.08" fill="#767676"/><rect x="5" width="1.08" height="1.08" fill="#727272"/><rect x="6" width="1.08" height="1.08" fill="#717171"/><rect x="7" width="1.08" height="1.08" fill="#727272"/><rect x="8" width="1.08" height="1.08" fill="#767676"/><rect x="9" width="1.08" height="1.08" fill="#7f7f7f"/><rect x="10" width="1.08" height="1.08" fill="#8a8a8a"/><rect x="11" width="1.08" height="1.08" fill="#969696"/><rect x="12" width="1.08" height="1.08" fill="#a1a1a1"/><rect x="13" width="1.08" height="1.08" fill="#aaaaaa"/><rect x="14" width="1.08" height="1.08" fill="#b0b0b0"/><rect x="15" width="1.08" height="1.08" fill="#b0b0b0"/><rect x="16" width="1.08" height="1.08" fill="#aaaaaa"/><rect x="17" width="1.08" height="1.08" fill="#a0a0a0"/><rect x="18" width="1.08" height="1.08" fill="#949494"/><rect x="19" width="1.08" height="1.08" fill="#878787"/><rect x="20" width="1.08" height="1.08" fill="#797979"/><rect x="21" width="1.08" height="1.08" fill="#6a6a6a"/><rect x="22" width="1.08" height="1.08" fill="#5a5a5a"/><rect x="23" width="1.08" height="1.08" fill="#464646"/><rect x="24" width="1.08" height="1.08" fill="#2f2f2f"/><rect x="25" width="1.08" height="1.08" fill="#1a1a1a"/><rect x="26" width="1.08" height="1.08" fill="#151515"/><rect x="27" width="1.08" height="1.08" fill="#1d1d1d"/><rect x="28" width="1.08" height="1.08" fill="#262626"/><rect x="29" width="1.08" height="1.08" fill="#2e2e2e"/><rect x="30" width="1.08" height="1.08" fill="#313131"/><rect x="31" width="1.08" height="1.08" fill="#333333"/></g>
<g transform="translate(0 1)"><rect x="-2" width="1.08" height="1.08" fill="#878787"/><rect x="-1" width="1.08" height="1.08" fill="#838383"/><rect x="0" width="1.08" height="1.08" fill="#7e7e7e"/><rect x="1" width="1.08" height="1.08" fill="#7a7a7a"/><rect x="2" width="1.08" height="1.08" fill="#757575"/><rect x="3" width="1.08" height="1.08" fill="#747474"/><rect x="4" width="1.08" height="1.08" fill="#727272"/><rect x="5" width="1.08" height="1.08" fill="#707070"/><rect x="6" width="1.08" height="1.08" fill="#737373"/><rect x="7" width="1.08" height="1.08" fill="#767676"/><rect x="8" width="1.08" height="1.08" fill="#7c7c7c"/><rect x="9" width="1.08" height="1.08" fill="#878787"/><rect x="10" width="1.08" height="1.08" fill="#939393"/><rect x="11" width="1.08" height="1.08" fill="#9f9f9f"/><rect x="12" width="1.08" height="1.08" fill="#aaaaaa"/><rect x="13" width="1.08" height="1.08" fill="#b2b2b2"/><rect x="14" width="1.08" height="1.08" fill="#b8b8b8"/><rect x="15" width="1.08" height="1.08" fill="#b8b8b8"/><rect x="16" width="1.08" height="1.08" fill="#b2b2b2"/><rect x="17" width="1.08" height="1.08" fill="#a9a9a9"/><rect x="18" width="1.08" height="1.08" fill="#9c9c9c"/><rect x="19" width="1.08" height="1.08" fill="#8f8f8f"/><rect x="20" width="1.08" height="1.08" fill="#818181"/><rect x="21" width="1.08" height="1.08" fill="#727272"/><rect x="22" width="1.08" height="1.08" fill="#606060"/><rect x="23" width="1.08" height="1.08" fill="#4c4c4c"/><rect x="24" width="1.08" height="1.08" fill="#323232"/><rect x="25" width="1.08" height="1.08" fill="#1b1b1b"/><rect x="26" width="1.08" height="1.08" fill="#161616"/><rect x="27" width="1.08" height="1.08" fill="#1e1e1e"/><rect x="28" width="1.08" height="1.08" fill="#272727"/><rect x="29" width="1.08" height="1.08" fill="#2f2f2f"/><rect x="30" width="1.08" height="1.08" fill="#333333"/><rect x="31" width="1.08" height="1.08" fill="#343434"/></g>
<g transform="translate(0 2)"><rect x="-2" width="1.08" height="1.08" fill="#838383"/><rect x="-1" width="1.08" height="1.08" fill="#7e7e7e"/><rect x="0" width="1.08" height="1.08" fill="#7a7a7a"/><rect x="1" width="1.08" height="1.08" fill="#757575"/><rect x="2" width="1.08" height="1.08" fill="#707070"/><rect x="3" width="1.08" height="1.08" fill="#6e6e6e"/><rect x="4" width="1.08" height="1.08" fill="#6d6d6d"/><rect x="5" width="1.08" height="1.08" fill="#6e6e6e"/><rect x="6" width="1.08" height="1.08" fill="#747474"/><rect x="7" width="1.08" height="1.08" fill="#7a7a7a"/><rect x="8" width="1.08" height="1.08" fill="#838383"/><rect x="9" width="1.08" height="1.08" fill="#8f8f8f"/><rect x="10" width="1.08" height="1.08" fill="#9c9c9c"/><rect x="11" width="1.08" height="1.08" fill="#a7a7a7"/><rect x="12" width="1.08" height="1.08" fill="#b2b2b2"/><rect x="13" width="1.08" height="1.08" fill="#bababa"/><rect x="14" width="1.08" height="1.08" fill="#bfbfbf"/><rect x="15" width="1.08" height="1.08" fill="#bfbfbf"/><rect x="16" width="1.08" height="1.08" fill="#bababa"/><rect x="17" width="1.08" height="1.08" fill="#b1b1b1"/><rect x="18" width="1.08" height="1.08" fill="#a5a5a5"/><rect x="19" width="1.08" height="1.08" fill="#989898"/><rect x="20" width="1.08" height="1.08" fill="#8a8a8a"/><rect x="21" width="1.08" height="1.08" fill="#7a7a7a"/><rect x="22" width="1.08" height="1.08" fill="#686868"/><rect x="23" width="1.08" height="1.08" fill="#515151"/><rect x="24" width="1.08" height="1.08" fill="#363636"/><rect x="25" width="1.08" height="1.08" fill="#1d1d1d"/><rect x="26" width="1.08" height="1.08" fill="#171717"/><rect x="27" width="1.08" height="1.08" fill="#1f1f1f"/><rect x="28" width="1.08" height="1.08" fill="#282828"/><rect x="29" width="1.08" height="1.08" fill="#313131"/><rect x="30" width="1.08" height="1.08" fill="#343434"/><rect x="31" width="1.08" height="1.08" fill="#363636"/></g>
<g transform="translate(0 3)"><rect x="-2" width="1.08" height="1.08" fill="#7e7e7e"/><rect x="-1" width="1.08" height="1.08" fill="#797979"/><rect x="0" width="1.08" height="1.08" fill="#747474"/><rect x="1" width="1.08" height="1.08" fill="#6f6f6f"/><rect x="2" width="1.08" height="1.08" fill="#6a6a6a"/><rect x="3" width="1.08" height="1.08" fill="#696969"/><rect x="4" width="1.08" height="1.08" fill="#686868"/><rect x="5" width="1.08" height="1.08" fill="#6c6c6c"/><rect x="6" width="1.08" height="1.08" fill="#757575"/><rect x="7" width="1.08" height="1.08" fill="#7e7e7e"/><rect x="8" width="1.08" height="1.08" fill="#898989"/><rect x="9" width="1.08" height="1.08" fill="#969696"/><rect x="10" width="1.08" height="1.08" fill="#a3a3a3"/><rect x="11" width="1.08" height="1.08" fill="#afafaf"/><rect x="12" width="1.08" height="1.08" fill="#bababa"/><rect x="13" width="1.08" height="1.08" fill="#c1c1c1"/><rect x="14" width="1.08" height="1.08" fill="#c6c6c6"/><rect x="15" width="1.08" height="1.08" fill="#c6c6c6"/><rect x="16" width="1.08" height="1.08" fill="#c1c1c1"/><rect x="17" width="1.08" height="1.08" fill="#b9b9b9"/><rect x="18" width="1.08" height="1.08" fill="#adadad"/><rect x="19" width="1.08" height="1.08" fill="#a0a0a0"/><rect x="20" width="1.08" height="1.08" fill="#929292"/><rect x="21" width="1.08" height="1.08" fill="#818181"/><rect x="22" width="1.08" height="1.08" fill="#6e6e6e"/><rect x="23" width="1.08" height="1.08" fill="#565656"/><rect x="24" width="1.08" height="1.08" fill="#393939"/><rect x="25" width="1.08" height="1.08" fill="#1f1f1f"/><rect x="26" width="1.08" height="1.08" fill="#191919"/><rect x="27" width="1.08" height="1.08" fill="#202020"/><rect x="28" width="1.08" height="1.08" fill="#2a2a2a"/><rect x="29" width="1.08" height="1.08" fill="#323232"/><rect x="30" width="1.08" height="1.08" fill="#353535"/><rect x="31" width="1.08" height="1.08" fill="#373737"/></g>
<g transform="translate(0 4)"><rect x="-2" width="1.08" height="1.08" fill="#797979"/><rect x="-1" width="1.08" height="1.08" fill="#747474"/><rect x="0" width="1.08" height="1.08" fill="#6f6f6f"/><rect x="1" width="1.08" height="1.08" fill="#6a6a6a"/><rect x="2" width="1.08" height="1.08" fill="#646464"/><rect x="3" width="1.08" height="1.08" fill="#626262"/><rect x="4" width="1.08" height="1.08" fill="#636363"/><rect x="5" width="1.08" height="1.08" fill="#6a6a6a"/><rect x="6" width="1.08" height="1.08" fill="#767676"/><rect x="7" width="1.08" height="1.08" fill="#828282"/><rect x="8" width="1.08" height="1.08" fill="#8f8f8f"/><rect x="9" width="1.08" height="1.08" fill="#9d9d9d"/><rect x="10" width="1.08" height="1.08" fill="#ababab"/><rect x="11" width="1.08" height="1.08" fill="#b7b7b7"/><rect x="12" width="1.08" height="1.08" fill="#c2c2c2"/><rect x="13" width="1.08" height="1.08" fill="#c9c9c9"/><rect x="14" width="1.08" height="1.08" fill="#cecece"/><rect x="15" width="1.08" height="1.08" fill="#cecece"/><rect x="16" width="1.08" height="1.08" fill="#c9c9c9"/><rect x="17" width="1.08" height="1.08" fill="#c1c1c1"/><rect x="18" width="1.08" height="1.08" fill="#b5b5b5"/><rect x="19" width="1.08" height="1.08" fill="#a8a8a8"/><rect x="20" width="1.08" height="1.08" fill="#999999"/><rect x="21" width="1.08" height="1.08" fill="#878787"/><rect x="22" width="1.08" height="1.08" fill="#747474"/><rect x="23" width="1.08" height="1.08" fill="#5b5b5b"/><rect x="24" width="1.08" height="1.08" fill="#3c3c3c"/><rect x="25" width="1.08" height="1.08" fill="#202020"/><rect x="26" width="1.08" height="1.08" fill="#1a1a1a"/><rect x="27" width="1.08" height="1.08" fill="#222222"/><rect x="28" width="1.08" height="1.08" fill="#2b2b2b"/><rect x="29" width="1.08" height="1.08" fill="#343434"/><rect x="30" width="1.08" height="1.08" fill="#373737"/><rect x="31" width="1.08" height="1.08" fill="#393939"/></g>
<g transform="translate(0 5)"><rect x="-2" width="1.08" height="1.08" fill="#747474"/><rect x="-1" width="1.08" height="1.08" fill="#6f6f6f"/><rect x="0" width="1.08" height="1.08" fill="#696969"/><rect x="1" width="1.08" height="1.08" fill="#646464"/><rect x="2" width="1.08" height="1.08" fill="#5e5e5e"/><rect x="3" width="1.08" height="1.08" fill="#5c5c5c"/><rect x="4" width="1.08" height="1.08" fill="#5e5e5e"/><rect x="5" width="1.08" height="1.08" fill="#686868"/><rect x="6" width="1.08" height="1.08" fill="#787878"/><rect x="7" width="1.08" height="1.08" fill="#868686"/><rect x="8" width="1.08" height="1.08" fill="#949494"/><rect x="9" width="1.08" height="1.08" fill="#a4a4a4"/><rect x="10" width="1.08" height="1.08" fill="#b2b2b2"/><rect x="11" width="1.08" height="1.08" fill="#bfbfbf"/><rect x="12" width="1.08" height="1.08" fill="#cacaca"/><rect x="13" width="1.08" height="1.08" fill="#d1d1d1"/><rect x="14" width="1.08" height="1.08" fill="#d6d6d6"/><rect x="15" width="1.08" height="1.08" fill="#d6d6d6"/><rect x="16" width="1.08" height="1.08" fill="#d1d1d1"/><rect x="17" width="1.08" height="1.08" fill="#c9c9c9"/><rect x="18" width="1.08" height="1.08" fill="#bdbdbd"/><rect x="19" width="1.08" height="1.08" fill="#b0b0b0"/><rect x="20" width="1.08" height="1.08" fill="#a0a0a0"/><rect x="21" width="1.08" height="1.08" fill="#8e8e8e"/><rect x="22" width="1.08" height="1.08" fill="#797979"/><rect x="23" width="1.08" height="1.08" fill="#5f5f5f"/><rect x="24" width="1.08" height="1.08" fill="#3f3f3f"/><rect x="25" width="1.08" height="1.08" fill="#222222"/><rect x="26" width="1.08" height="1.08" fill="#1c1c1c"/><rect x="27" width="1.08" height="1.08" fill="#232323"/><rect x="28" width="1.08" height="1.08" fill="#2d2d2d"/><rect x="29" width="1.08" height="1.08" fill="#353535"/><rect x="30" width="1.08" height="1.08" fill="#393939"/><rect x="31" width="1.08" height="1.08" fill="#3a3a3a"/></g>
<g transform="translate(0 6)"><rect x="-2" width="1.08" height="1.08" fill="#6f6f6f"/><rect x="-1" width="1.08" height="1.08" fill="#6a6a6a"/><rect x="0" width="1.08" height="1.08" fill="#646464"/><rect x="1" width="1.08" height="1.08" fill="#5e5e5e"/><rect x="2" width="1.08" height="1.08" fill="#585858"/><rect x="3" width="1.08" height="1.08" fill="#565656"/><rect x="4" width="1.08" height="1.08" fill="#595959"/><rect x="5" width="1.08" height="1.08" fill="#666666"/><rect x="6" width="1.08" height="1.08" fill="#797979"/><rect x="7" width="1.08" height="1.08" fill="#898989"/><rect x="8" width="1.08" height="1.08" fill="#999999"/><rect x="9" width="1.08" height="1.08" fill="#aaaaaa"/><rect x="10" width="1.08" height="1.08" fill="#b9b9b9"/><rect x="11" width="1.08" height="1.08" fill="#c7c7c7"/><rect x="12" width="1.08" height="1.08" fill="#d2d2d2"/><rect x="13" width="1.08" height="1.08" fill="#dadada"/><rect x="14" width="1.08" height="1.08" fill="#dfdfdf"/><rect x="15" width="1.08" height="1.08" fill="#dfdfdf"/><rect x="16" width="1.08" height="1.08" fill="#dadada"/><rect x="17" width="1.08" height="1.08" fill="#d1d1d1"/><rect x="18" width="1.08" height="1.08" fill="#c5c5c5"/><rect x="19" width="1.08" height="1.08" fill="#b7b7b7"/><rect x="20" width="1.08" height="1.08" fill="#a6a6a6"/><rect x="21" width="1.08" height="1.08" fill="#939393"/><rect x="22" width="1.08" height="1.08" fill="#7e7e7e"/><rect x="23" width="1.08" height="1.08" fill="#636363"/><rect x="24" width="1.08" height="1.08" fill="#424242"/><rect x="25" width="1.08" height="1.08" fill="#242424"/><rect x="26" width="1.08" height="1.08" fill="#1d1d1d"/><rect x="27" width="1.08" height="1.08" fill="#252525"/><rect x="28" width="1.08" height="1.08" fill="#2e2e2e"/><rect x="29" width="1.08" height="1.08" fill="#373737"/><rect x="30" width="1.08" height="1.08" fill="#3a3a3a"/><rect x="31" width="1.08" height="1.08" fill="#3c3c3c"/></g>
<g transform="translate(0 7)"><rect x="-2" width="1.08" height="1.08" fill="#6a6a6a"/><rect x="-1" width="1.08" height="1.08" fill="#646464"/><rect x="0" width="1.08" height="1.08" fill="#5f5f5f"/><rect x="1" width="1.08" height="1.08" fill="#585858"/><rect x="2" width="1.08" height="1.08" fill="#525252"/><rect x="3" width="1.08" height="1.08" fill="#505050"/><rect x="4" width="1.08" height="1.08" fill="#555555"/><rect x="5" width="1.08" height="1.08" fill="#646464"/><rect x="6" width="1.08" height="1.08" fill="#7a7a7a"/><rect x="7" width="1.08" height="1.08" fill="#8d8d8d"/><rect x="8" width="1.08" height="1.08" fill="#9f9f9f"/><rect x="9" width="1.08" height="1.08" fill="#b1b1b1"/><rect x="10" width="1.08" height="1.08" fill="#c1c1c1"/><rect x="11" width="1.08" height="1.08" fill="#cfcfcf"/><rect x="12" width="1.08" height="1.08" fill="#dbdbdb"/><rect x="13" width="1.08" height="1.08" fill="#e4e4e4"/><rect x="14" width="1.08" height="1.08" fill="#e9e9e9"/><rect x="15" width="1.08" height="1.08" fill="#e9e9e9"/><rect x="16" width="1.08" height="1.08" fill="#e4e4e4"/><rect x="17" width="1.08" height="1.08" fill="#dbdbdb"/><rect x="18" width="1.08" height="1.08" fill="#cdcdcd"/><rect x="19" width="1.08" height="1.08" fill="#bebebe"/><rect x="20" width="1.08" height="1.08" fill="#adadad"/><rect x="21" width="1.08" height="1.08" fill="#999999"/><rect x="22" width="1.08" height="1.08" fill="#838383"/><rect x="23" width="1.08" height="1.08" fill="#676767"/><rect x="24" width="1.08" height="1.08" fill="#454545"/><rect x="25" width="1.08" height="1.08" fill="#262626"/><rect x="26" width="1.08" height="1.08" fill="#1f1f1f"/><rect x="27" width="1.08" height="1.08" fill="#262626"/><rect x="28" width="1.08" height="1.08" fill="#303030"/><rect x="29" width="1.08" height="1.08" fill="#393939"/><rect x="30" width="1.08" height="1.08" fill="#3c3c3c"/><rect x="31" width="1.08" height="1.08" fill="#3e3e3e"/></g>
<g transform="translate(0 8)"><rect x="-2" width="1.08" height="1.08" fill="#656565"/><rect x="-1" width="1.08" height="1.08" fill="#5f5f5f"/><rect x="0" width="1.08" height="1.08" fill="#595959"/><rect x="1" width="1.08" height="1.08" fill="#525252"/><rect x="2" width="1.08" height="1.08" fill="#4c4c4c"/><rect x="3" width="1.08" height="1.08" fill="#494949"/><rect x="4" width="1.08" height="1.08" fill="#4f4f4f"/><rect x="5" width="1.08" height="1.08" fill="#626262"/><rect x="6" width="1.08" height="1.08" fill="#7b7b7b"/><rect x="7" width="1.08" height="1.08" fill="#909090"/><rect x="8" width="1.08" height="1.08" fill="#a4a4a4"/><rect x="9" width="1.08" height="1.08" fill="#b7b7b7"/><rect x="10" width="1.08" height="1.08" fill="#c9c9c9"/><rect x="11" width="1.08" height="1.08" fill="#d8d8d8"/><rect x="12" width="1.08" height="1.08" fill="#e5e5e5"/><rect x="13" width="1.08" height="1.08" fill="#eeeeee"/><rect x="14" width="1.08" height="1.08" fill="#f4f4f4"/><rect x="15" width="1.08" height="1.08" fill="#f4f4f4"/><rect x="16" width="1.08" height="1.08" fill="#eeeeee"/><rect x="17" width="1.08" height="1.08" fill="#e4e4e4"/><rect x="18" width="1.08" height="1.08" fill="#d6d6d6"/><rect x="19" width="1.08" height="1.08" fill="#c6c6c6"/><rect x="20" width="1.08" height="1.08" fill="#b4b4b4"/><rect x="21" width="1.08" height="1.08" fill="#9f9f9f"/><rect x="22" width="1.08" height="1.08" fill="#888888"/><rect x="23" width="1.08" height="1.08" fill="#6b6b6b"/><rect x="24" width="1.08" height="1.08" fill="#474747"/><rect x="25" width="1.08" height="1.08" fill="#282828"/><rect x="26" width="1.08" height="1.08" fill="#212121"/><rect x="27" width="1.08" height="1.08" fill="#282828"/><rect x="28" width="1.08" height="1.08" fill="#323232"/><rect x="29" width="1.08" height="1.08" fill="#3a3a3a"/><rect x="30" width="1.08" height="1.08" fill="#3e3e3e"/><rect x="31" width="1.08" height="1.08" fill="#404040"/></g>
<g transform="translate(0 9)"><rect x="-2" width="1.08" height="1.08" fill="#606060"/><rect x="-1" width="1.08" height="1.08" fill="#5a5a5a"/><rect x="0" width="1.08" height="1.08" fill="#535353"/><rect x="1" width="1.08" height="1.08" fill="#4c4c4c"/><rect x="2" width="1.08" height="1.08" fill="#454545"/><rect x="3" width="1.08" height="1.08" fill="#424242"/><rect x="4" width="1.08" height="1.08" fill="#4a4a4a"/><rect x="5" width="1.08" height="1.08" fill="#606060"/><rect x="6" width="1.08" height="1.08" fill="#7c7c7c"/><rect x="7" width="1.08" height="1.08" fill="#939393"/><rect x="8" width="1.08" height="1.08" fill="#a8a8a8"/><rect x="9" width="1.08" height="1.08" fill="#bcbcbc"/><rect x="10" width="1.08" height="1.08" fill="#cfcfcf"/><rect x="11" width="1.08" height="1.08" fill="#dfdfdf"/><rect x="12" width="1.08" height="1.08" fill="#ededed"/><rect x="13" width="1.08" height="1.08" fill="#f6f6f6"/><rect x="14" width="1.08" height="1.08" fill="#fdfdfd"/><rect x="15" width="1.08" height="1.08" fill="#fdfdfd"/><rect x="16" width="1.08" height="1.08" fill="#f6f6f6"/><rect x="17" width="1.08" height="1.08" fill="#ececec"/><rect x="18" width="1.08" height="1.08" fill="#dddddd"/><rect x="19" width="1.08" height="1.08" fill="#cccccc"/><rect x="20" width="1.08" height="1.08" fill="#b9b9b9"/><rect x="21" width="1.08" height="1.08" fill="#a3a3a3"/><rect x="22" width="1.08" height="1.08" fill="#8b8b8b"/><rect x="23" width="1.08" height="1.08" fill="#6e6e6e"/><rect x="24" width="1.08" height="1.08" fill="#494949"/><rect x="25" width="1.08" height="1.08" fill="#2a2a2a"/><rect x="26" width="1.08" height="1.08" fill="#232323"/><rect x="27" width="1.08" height="1.08" fill="#2a2a2a"/><rect x="28" width="1.08" height="1.08" fill="#333333"/><rect x="29" width="1.08" height="1.08" fill="#3c3c3c"/><rect x="30" width="1.08" height="1.08" fill="#404040"/><rect x="31" width="1.08" height="1.08" fill="#424242"/></g>
<g transform="translate(0 10)"><rect x="-2" width="1.08" height="1.08" fill="#5c5c5c"/><rect x="-1" width="1.08" height="1.08" fill="#555555"/><rect x="0" width="1.08" height="1.08" fill="#4e4e4e"/><rect x="1" width="1.08" height="1.08" fill="#464646"/><rect x="2" width="1.08" height="1.08" fill="#3e3e3e"/><rect x="3" width="1.08" height="1.08" fill="#3b3b3b"/><rect x="4" width="1.08" height="1.08" fill="#444444"/><rect x="5" width="1.08" height="1.08" fill="#5d5d5d"/><rect x="6" width="1.08" height="1.08" fill="#7b7b7b"/><rect x="7" width="1.08" height="1.08" fill="#939393"/><rect x="8" width="1.08" height="1.08" fill="#a9a9a9"/><rect x="9" width="1.08" height="1.08" fill="#bfbfbf"/><rect x="10" width="1.08" height="1.08" fill="#d2d2d2"/><rect x="11" width="1.08" height="1.08" fill="#e4e4e4"/><rect x="12" width="1.08" height="1.08" fill="#f3f3f3"/><rect x="13" width="1.08" height="1.08" fill="#fdfdfd"/><rect x="14" width="1.08" height="1.08" fill="#ffffff"/><rect x="15" width="1.08" height="1.08" fill="#ffffff"/><rect x="16" width="1.08" height="1.08" fill="#fdfdfd"/><rect x="17" width="1.08" height="1.08" fill="#f2f2f2"/><rect x="18" width="1.08" height="1.08" fill="#e1e1e1"/><rect x="19" width="1.08" height="1.08" fill="#cfcfcf"/><rect x="20" width="1.08" height="1.08" fill="#bcbcbc"/><rect x="21" width="1.08" height="1.08" fill="#a5a5a5"/><rect x="22" width="1.08" height="1.08" fill="#8d8d8d"/><rect x="23" width="1.08" height="1.08" fill="#6f6f6f"/><rect x="24" width="1.08" height="1.08" fill="#4b4b4b"/><rect x="25" width="1.08" height="1.08" fill="#2b2b2b"/><rect x="26" width="1.08" height="1.08" fill="#242424"/><rect x="27" width="1.08" height="1.08" fill="#2c2c2c"/><rect x="28" width="1.08" height="1.08" fill="#353535"/><rect x="29" width="1.08" height="1.08" fill="#3e3e3e"/><rect x="30" width="1.08" height="1.08" fill="#414141"/><rect x="31" width="1.08" height="1.08" fill="#434343"/></g>
<g transform="translate(0 11)"><rect x="-2" width="1.08" height="1.08" fill="#575757"/><rect x="-1" width="1.08" height="1.08" fill="#4f4f4f"/><rect x="0" width="1.08" height="1.08" fill="#484848"/><rect x="1" width="1.08" height="1.08" fill="#3f3f3f"/><rect x="2" width="1.08" height="1.08" fill="#363636"/><rect x="3" width="1.08" height="1.08" fill="#333333"/><rect x="4" width="1.08" height="1.08" fill="#3e3e3e"/><rect x="5" width="1.08" height="1.08" fill="#595959"/><rect x="6" width="1.08" height="1.08" fill="#797979"/><rect x="7" width="1.08" height="1.08" fill="#929292"/><rect x="8" width="1.08" height="1.08" fill="#a9a9a9"/><rect x="9" width="1.08" height="1.08" fill="#c0c0c0"/><rect x="10" width="1.08" height="1.08" fill="#d4d4d4"/><rect x="11" width="1.08" height="1.08" fill="#e6e6e6"/><rect x="12" width="1.08" height="1.08" fill="#f6f6f6"/><rect x="13" width="1.08" height="1.08" fill="#ffffff"/><rect x="14" width="1.08" height="1.08" fill="#ffffff"/><rect x="15" width="1.08" height="1.08" fill="#ffffff"/><rect x="16" width="1.08" height="1.08" fill="#ffffff"/><rect x="17" width="1.08" height="1.08" fill="#f6f6f6"/><rect x="18" width="1.08" height="1.08" fill="#e4e4e4"/><rect x="19" width="1.08" height="1.08" fill="#d1d1d1"/><rect x="20" width="1.08" height="1.08" fill="#bdbdbd"/><rect x="21" width="1.08" height="1.08" fill="#a6a6a6"/><rect x="22" width="1.08" height="1.08" fill="#8d8d8d"/><rect x="23" width="1.08" height="1.08" fill="#6f6f6f"/><rect x="24" width="1.08" height="1.08" fill="#4b4b4b"/><rect x="25" width="1.08" height="1.08" fill="#2d2d2d"/><rect x="26" width="1.08" height="1.08" fill="#262626"/><rect x="27" width="1.08" height="1.08" fill="#2d2d2d"/><rect x="28" width="1.08" height="1.08" fill="#373737"/><rect x="29" width="1.08" height="1.08" fill="#404040"/><rect x="30" width="1.08" height="1.08" fill="#434343"/><rect x="31" width="1.08" height="1.08" fill="#454545"/></g>
<g transform="translate(0 12)"><rect x="-2" width="1.08" height="1.08" fill="#525252"/><rect x="-1" width="1.08" height="1.08" fill="#4a4a4a"/><rect x="0" width="1.08" height="1.08" fill="#424242"/><rect x="1" width="1.08" height="1.08" fill="#393939"/><rect x="2" width="1.08" height="1.08" fill="#2e2e2e"/><rect x="3" width="1.08" height="1.08" fill="#2a2a2a"/><rect x="4" width="1.08" height="1.08" fill="#383838"/><rect x="5" width="1.08" height="1.08" fill="#565656"/><rect x="6" width="1.08" height="1.08" fill="#787878"/><rect x="7" width="1.08" height="1.08" fill="#929292"/><rect x="8" width="1.08" height="1.08" fill="#a9a9a9"/><rect x="9" width="1.08" height="1.08" fill="#c0c0c0"/><rect x="10" width="1.08" height="1.08" fill="#d5d5d5"/><rect x="11" width="1.08" height="1.08" fill="#e8e8e8"/><rect x="12" width="1.08" height="1.08" fill="#f9f9f9"/><rect x="13" width="1.08" height="1.08" fill="#ffffff"/><rect x="14" width="1.08" height="1.08" fill="#ffffff"/><rect x="15" width="1.08" height="1.08" fill="#ffffff"/><rect x="16" width="1.08" height="1.08" fill="#ffffff"/><rect x="17" width="1.08" height="1.08" fill="#f8f8f8"/><rect x="18" width="1.08" height="1.08" fill="#e5e5e5"/><rect x="19" width="1.08" height="1.08" fill="#d2d2d2"/><rect x="20" width="1.08" height="1.08" fill="#bdbdbd"/><rect x="21" width="1.08" height="1.08" fill="#a6a6a6"/><rect x="22" width="1.08" height="1.08" fill="#8e8e8e"/><rect x="23" width="1.08" height="1.08" fill="#707070"/><rect x="24" width="1.08" height="1.08" fill="#4c4c4c"/><rect x="25" width="1.08" height="1.08" fill="#2e2e2e"/><rect x="26" width="1.08" height="1.08" fill="#282828"/><rect x="27" width="1.08" height="1.08" fill="#2f2f2f"/><rect x="28" width="1.08" height="1.08" fill="#393939"/><rect x="29" width="1.08" height="1.08" fill="#424242"/><rect x="30" width="1.08" height="1.08" fill="#454545"/><rect x="31" width="1.08" height="1.08" fill="#474747"/></g>
<g transform="translate(0 13)"><rect x="-2" width="1.08" height="1.08" fill="#4e4e4e"/><rect x="-1" width="1.08" height="1.08" fill="#454545"/><rect x="0" width="1.08" height="1.08" fill="#3d3d3d"/><rect x="1" width="1.08" height="1.08" fill="#333333"/><rect x="2" width="1.08" height="1.08" fill="#262626"/><rect x="3" width="1.08" height="1.08" fill="#222222"/><rect x="4" width="1.08" height="1.08" fill="#333333"/><rect x="5" width="1.08" height="1.08" fill="#535353"/><rect x="6" width="1.08" height="1.08" fill="#767676"/><rect x="7" width="1.08" height="1.08" fill="#919191"/><rect x="8" width="1.08" height="1.08" fill="#a9a9a9"/><rect x="9" width="1.08" height="1.08" fill="#c1c1c1"/><rect x="10" width="1.08" height="1.08" fill="#d6d6d6"/><rect x="11" width="1.08" height="1.08" fill="#eaeaea"/><rect x="12" width="1.08" height="1.08" fill="#fcfcfc"/><rect x="13" width="1.08" height="1.08" fill="#ffffff"/><rect x="14" width="1.08" height="1.08" fill="#ffffff"/><rect x="15" width="1.08" height="1.08" fill="#ffffff"/><rect x="16" width="1.08" height="1.08" fill="#ffffff"/><rect x="17" width="1.08" height="1.08" fill="#fbfbfb"/><rect x="18" width="1.08" height="1.08" fill="#e7e7e7"/><rect x="19" width="1.08" height="1.08" fill="#d3d3d3"/><rect x="20" width="1.08" height="1.08" fill="#bebebe"/><rect x="21" width="1.08" height="1.08" fill="#a7a7a7"/><rect x="22" width="1.08" height="1.08" fill="#8e8e8e"/><rect x="23" width="1.08" height="1.08" fill="#707070"/><rect x="24" width="1.08" height="1.08" fill="#4d4d4d"/><rect x="25" width="1.08" height="1.08" fill="#2f2f2f"/><rect x="26" width="1.08" height="1.08" fill="#2a2a2a"/><rect x="27" width="1.08" height="1.08" fill="#313131"/><rect x="28" width="1.08" height="1.08" fill="#3a3a3a"/><rect x="29" width="1.08" height="1.08" fill="#434343"/><rect x="30" width="1.08" height="1.08" fill="#474747"/><rect x="31" width="1.08" height="1.08" fill="#494949"/></g>
<g transform="translate(0 14)"><rect x="-2" width="1.08" height="1.08" fill="#4a4a4a"/><rect x="-1" width="1.08" height="1.08" fill="#424242"/><rect x="0" width="1.08" height="1.08" fill="#393939"/><rect x="1" width="1.08" height="1.08" fill="#2e2e2e"/><rect x="2" width="1.08" height="1.08" fill="#1f1f1f"/><rect x="3" width="1.08" height="1.08" fill="#191919"/><rect x="4" width="1.08" height="1.08" fill="#2e2e2e"/><rect x="5" width="1.08" height="1.08" fill="#515151"/><rect x="6" width="1.08" height="1.08" fill="#757575"/><rect x="7" width="1.08" height="1.08" fill="#919191"/><rect x="8" width="1.08" height="1.08" fill="#a9a9a9"/><rect x="9" width="1.08" height="1.08" fill="#c1c1c1"/><rect x="10" width="1.08" height="1.08" fill="#d7d7d7"/><rect x="11" width="1.08" height="1.08" fill="#ebebeb"/><rect x="12" width="1.08" height="1.08" fill="#fdfdfd"/><rect x="13" width="1.08" height="1.08" fill="#ffffff"/><rect x="14" width="1.08" height="1.08" fill="#ffffff"/><rect x="15" width="1.08" height="1.08" fill="#ffffff"/><rect x="16" width="1.08" height="1.08" fill="#ffffff"/><rect x="17" width="1.08" height="1.08" fill="#fcfcfc"/><rect x="18" width="1.08" height="1.08" fill="#e8e8e8"/><rect x="19" width="1.08" height="1.08" fill="#d4d4d4"/><rect x="20" width="1.08" height="1.08" fill="#bebebe"/><rect x="21" width="1.08" height="1.08" fill="#a7a7a7"/><rect x="22" width="1.08" height="1.08" fill="#8e8e8e"/><rect x="23" width="1.08" height="1.08" fill="#707070"/><rect x="24" width="1.08" height="1.08" fill="#4d4d4d"/><rect x="25" width="1.08" height="1.08" fill="#313131"/><rect x="26" width="1.08" height="1.08" fill="#2b2b2b"/><rect x="27" width="1.08" height="1.08" fill="#323232"/><rect x="28" width="1.08" height="1.08" fill="#3c3c3c"/><rect x="29" width="1.08" height="1.08" fill="#454545"/><rect x="30" width="1.08" height="1.08" fill="#494949"/><rect x="31" width="1.08" height="1.08" fill="#4b4b4b"/></g>
<g transform="translate(0 15)"><rect x="-2" width="1.08" height="1.08" fill="#484848"/><rect x="-1" width="1.08" height="1.08" fill="#3f3f3f"/><rect x="0" width="1.08" height="1.08" fill="#353535"/><rect x="1" width="1.08" height="1.08" fill="#292929"/><rect x="2" width="1.08" height="1.08" fill="#181818"/><rect x="3" width="1.08" height="1.08" fill="#101010"/><rect x="4" width="1.08" height="1.08" fill="#2a2a2a"/><rect x="5" width="1.08" height="1.08" fill="#505050"/><rect x="6" width="1.08" height="1.08" fill="#757575"/><rect x="7" width="1.08" height="1.08" fill="#919191"/><rect x="8" width="1.08" height="1.08" fill="#a9a9a9"/><rect x="9" width="1.08" height="1.08" fill="#c2c2c2"/><rect x="10" width="1.08" height="1.08" fill="#d7d7d7"/><rect x="11" width="1.08" height="1.08" fill="#ececec"/><rect x="12" width="1.08" height="1.08" fill="#fefefe"/><rect x="13" width="1.08" height="1.08" fill="#ffffff"/><rect x="14" width="1.08" height="1.08" fill="#ffffff"/><rect x="15" width="1.08" height="1.08" fill="#ffffff"/><rect x="16" width="1.08" height="1.08" fill="#ffffff"/><rect x="17" width="1.08" height="1.08" fill="#fcfcfc"/><rect x="18" width="1.08" height="1.08" fill="#e7e7e7"/><rect x="19" width="1.08" height="1.08" fill="#d3d3d3"/><rect x="20" width="1.08" height="1.08" fill="#bebebe"/><rect x="21" width="1.08" height="1.08" fill="#a6a6a6"/><rect x="22" width="1.08" height="1.08" fill="#8e8e8e"/><rect x="23" width="1.08" height="1.08" fill="#707070"/><rect x="24" width="1.08" height="1.08" fill="#4e4e4e"/><rect x="25" width="1.08" height="1.08" fill="#323232"/><rect x="26" width="1.08" height="1.08" fill="#2d2d2d"/><rect x="27" width="1.08" height="1.08" fill="#343434"/><rect x="28" width="1.08" height="1.08" fill="#3d3d3d"/><rect x="29" width="1.08" height="1.08" fill="#474747"/><rect x="30" width="1.08" height="1.08" fill="#4a4a4a"/><rect x="31" width="1.08" height="1.08" fill="#4c4c4c"/></g>
<g transform="translate(0 16)"><rect x="-2" width="1.08" height="1.08" fill="#464646"/><rect x="-1" width="1.08" height="1.08" fill="#3d3d3d"/><rect x="0" width="1.08" height="1.08" fill="#333333"/><rect x="1" width="1.08" height="1.08" fill="#272727"/><rect x="2" width="1.08" height="1.08" fill="#141414"/><rect x="3" width="1.08" height="1.08" fill="#070707"/><rect x="4" width="1.08" height="1.08" fill="#282828"/><rect x="5" width="1.08" height="1.08" fill="#505050"/><rect x="6" width="1.08" height="1.08" fill="#767676"/><rect x="7" width="1.08" height="1.08" fill="#929292"/><rect x="8" width="1.08" height="1.08" fill="#ababab"/><rect x="9" width="1.08" height="1.08" fill="#c3c3c3"/><rect x="10" width="1.08" height="1.08" fill="#d9d9d9"/><rect x="11" width="1.08" height="1.08" fill="#ededed"/><rect x="12" width="1.08" height="1.08" fill="#ffffff"/><rect x="13" width="1.08" height="1.08" fill="#ffffff"/><rect x="14" width="1.08" height="1.08" fill="#ffffff"/><rect x="15" width="1.08" height="1.08" fill="#ffffff"/><rect x="16" width="1.08" height="1.08" fill="#ffffff"/><rect x="17" width="1.08" height="1.08" fill="#f9f9f9"/><rect x="18" width="1.08" height="1.08" fill="#e5e5e5"/><rect x="19" width="1.08" height="1.08" fill="#d1d1d1"/><rect x="20" width="1.08" height="1.08" fill="#bcbcbc"/><rect x="21" width="1.08" height="1.08" fill="#a5a5a5"/><rect x="22" width="1.08" height="1.08" fill="#8c8c8c"/><rect x="23" width="1.08" height="1.08" fill="#6f6f6f"/><rect x="24" width="1.08" height="1.08" fill="#4e4e4e"/><rect x="25" width="1.08" height="1.08" fill="#333333"/><rect x="26" width="1.08" height="1.08" fill="#2e2e2e"/><rect x="27" width="1.08" height="1.08" fill="#353535"/><rect x="28" width="1.08" height="1.08" fill="#3f3f3f"/><rect x="29" width="1.08" height="1.08" fill="#484848"/><rect x="30" width="1.08" height="1.08" fill="#4c4c4c"/><rect x="31" width="1.08" height="1.08" fill="#4e4e4e"/></g>
<g transform="translate(0 17)"><rect x="-2" width="1.08" height="1.08" fill="#464646"/><rect x="-1" width="1.08" height="1.08" fill="#3d3d3d"/><rect x="0" width="1.08" height="1.08" fill="#333333"/><rect x="1" width="1.08" height="1.08" fill="#262626"/><rect x="2" width="1.08" height="1.08" fill="#131313"/><rect x="3" width="1.08" height="1.08" fill="#060606"/><rect x="4" width="1.08" height="1.08" fill="#292929"/><rect x="5" width="1.08" height="1.08" fill="#515151"/><rect x="6" width="1.08" height="1.08" fill="#777777"/><rect x="7" width="1.08" height="1.08" fill="#939393"/><rect x="8" width="1.08" height="1.08" fill="#acacac"/><rect x="9" width="1.08" height="1.08" fill="#c4c4c4"/><rect x="10" width="1.08" height="1.08" fill="#d9d9d9"/><rect x="11" width="1.08" height="1.08" fill="#ededed"/><rect x="12" width="1.08" height="1.08" fill="#fefefe"/><rect x="13" width="1.08" height="1.08" fill="#ffffff"/><rect x="14" width="1.08" height="1.08" fill="#ffffff"/><rect x="15" width="1.08" height="1.08" fill="#ffffff"/><rect x="16" width="1.08" height="1.08" fill="#ffffff"/><rect x="17" width="1.08" height="1.08" fill="#f5f5f5"/><rect x="18" width="1.08" height="1.08" fill="#e2e2e2"/><rect x="19" width="1.08" height="1.08" fill="#cfcfcf"/><rect x="20" width="1.08" height="1.08" fill="#bababa"/><rect x="21" width="1.08" height="1.08" fill="#a4a4a4"/><rect x="22" width="1.08" height="1.08" fill="#8b8b8b"/><rect x="23" width="1.08" height="1.08" fill="#6e6e6e"/><rect x="24" width="1.08" height="1.08" fill="#4d4d4d"/><rect x="25" width="1.08" height="1.08" fill="#343434"/><rect x="26" width="1.08" height="1.08" fill="#2f2f2f"/><rect x="27" width="1.08" height="1.08" fill="#363636"/><rect x="28" width="1.08" height="1.08" fill="#404040"/><rect x="29" width="1.08" height="1.08" fill="#4a4a4a"/><rect x="30" width="1.08" height="1.08" fill="#4d4d4d"/><rect x="31" width="1.08" height="1.08" fill="#4f4f4f"/></g>
<g transform="translate(0 18)"><rect x="-2" width="1.08" height="1.08" fill="#464646"/><rect x="-1" width="1.08" height="1.08" fill="#3d3d3d"/><rect x="0" width="1.08" height="1.08" fill="#333333"/><rect x="1" width="1.08" height="1.08" fill="#262626"/><rect x="2" width="1.08" height="1.08" fill="#141414"/><rect x="3" width="1.08" height="1.08" fill="#070707"/><rect x="4" width="1.08" height="1.08" fill="#292929"/><rect x="5" width="1.08" height="1.08" fill="#525252"/><rect x="6" width="1.08" height="1.08" fill="#787878"/><rect x="7" width="1.08" height="1.08" fill="#949494"/><rect x="8" width="1.08" height="1.08" fill="#adadad"/><rect x="9" width="1.08" height="1.08" fill="#c5c5c5"/><rect x="10" width="1.08" height="1.08" fill="#dadada"/><rect x="11" width="1.08" height="1.08" fill="#ededed"/><rect x="12" width="1.08" height="1.08" fill="#fdfdfd"/><rect x="13" width="1.08" height="1.08" fill="#ffffff"/><rect x="14" width="1.08" height="1.08" fill="#ffffff"/><rect x="15" width="1.08" height="1.08" fill="#ffffff"/><rect x="16" width="1.08" height="1.08" fill="#ffffff"/><rect x="17" width="1.08" height="1.08" fill="#f2f2f2"/><rect x="18" width="1.08" height="1.08" fill="#dfdfdf"/><rect x="19" width="1.08" height="1.08" fill="#cdcdcd"/><rect x="20" width="1.08" height="1.08" fill="#b8b8b8"/><rect x="21" width="1.08" height="1.08" fill="#a2a2a2"/><rect x="22" width="1.08" height="1.08" fill="#8a8a8a"/><rect x="23" width="1.08" height="1.08" fill="#6d6d6d"/><rect x="24" width="1.08" height="1.08" fill="#4d4d4d"/><rect x="25" width="1.08" height="1.08" fill="#343434"/><rect x="26" width="1.08" height="1.08" fill="#303030"/><rect x="27" width="1.08" height="1.08" fill="#373737"/><rect x="28" width="1.08" height="1.08" fill="#414141"/><rect x="29" width="1.08" height="1.08" fill="#4b4b4b"/><rect x="30" width="1.08" height="1.08" fill="#4f4f4f"/><rect x="31" width="1.08" height="1.08" fill="#515151"/></g>
<g transform="translate(0 19)"><rect x="-2" width="1.08" height="1.08" fill="#484848"/><rect x="-1" width="1.08" height="1.08" fill="#3e3e3e"/><rect x="0" width="1.08" height="1.08" fill="#353535"/><rect x="1" width="1.08" height="1.08" fill="#292929"/><rect x="2" width="1.08" height="1.08" fill="#181818"/><rect x="3" width="1.08" height="1.08" fill="#0f0f0f"/><rect x="4" width="1.08" height="1.08" fill="#2c2c2c"/><rect x="5" width="1.08" height="1.08" fill="#545454"/><rect x="6" width="1.08" height="1.08" fill="#797979"/><rect x="7" width="1.08" height="1.08" fill="#959595"/><rect x="8" width="1.08" height="1.08" fill="#aeaeae"/><rect x="9" width="1.08" height="1.08" fill="#c5c5c5"/><rect x="10" width="1.08" height="1.08" fill="#dadada"/><rect x="11" width="1.08" height="1.08" fill="#ececec"/><rect x="12" width="1.08" height="1.08" fill="#fbfbfb"/><rect x="13" width="1.08" height="1.08" fill="#ffffff"/><rect x="14" width="1.08" height="1.08" fill="#ffffff"/><rect x="15" width="1.08" height="1.08" fill="#ffffff"/><rect x="16" width="1.08" height="1.08" fill="#fcfcfc"/><rect x="17" width="1.08" height="1.08" fill="#ededed"/><rect x="18" width="1.08" height="1.08" fill="#dcdcdc"/><rect x="19" width="1.08" height="1.08" fill="#cacaca"/><rect x="20" width="1.08" height="1.08" fill="#b6b6b6"/><rect x="21" width="1.08" height="1.08" fill="#a1a1a1"/><rect x="22" width="1.08" height="1.08" fill="#898989"/><rect x="23" width="1.08" height="1.08" fill="#6d6d6d"/><rect x="24" width="1.08" height="1.08" fill="#4d4d4d"/><rect x="25" width="1.08" height="1.08" fill="#353535"/><rect x="26" width="1.08" height="1.08" fill="#313131"/><rect x="27" width="1.08" height="1.08" fill="#383838"/><rect x="28" width="1.08" height="1.08" fill="#434343"/><rect x="29" width="1.08" height="1.08" fill="#4c4c4c"/><rect x="30" width="1.08" height="1.08" fill="#505050"/><rect x="31" width="1.08" height="1.08" fill="#525252"/></g>
<g transform="translate(0 20)"><rect x="-2" width="1.08" height="1.08" fill="#4a4a4a"/><rect x="-1" width="1.08" height="1.08" fill="#414141"/><rect x="0" width="1.08" height="1.08" fill="#383838"/><rect x="1" width="1.08" height="1.08" fill="#2d2d2d"/><rect x="2" width="1.08" height="1.08" fill="#1f1f1f"/><rect x="3" width="1.08" height="1.08" fill="#181818"/><rect x="4" width="1.08" height="1.08" fill="#303030"/><rect x="5" width="1.08" height="1.08" fill="#565656"/><rect x="6" width="1.08" height="1.08" fill="#7b7b7b"/><rect x="7" width="1.08" height="1.08" fill="#969696"/><rect x="8" width="1.08" height="1.08" fill="#afafaf"/><rect x="9" width="1.08" height="1.08" fill="#c6c6c6"/><rect x="10" width="1.08" height="1.08" fill="#d9d9d9"/><rect x="11" width="1.08" height="1.08" fill="#ebebeb"/><rect x="12" width="1.08" height="1.08" fill="#f8f8f8"/><rect x="13" width="1.08" height="1.08" fill="#ffffff"/><rect x="14" width="1.08" height="1.08" fill="#ffffff"/><rect x="15" width="1.08" height="1.08" fill="#ffffff"/><rect x="16" width="1.08" height="1.08" fill="#f7f7f7"/><rect x="17" width="1.08" height="1.08" fill="#e9e9e9"/><rect x="18" width="1.08" height="1.08" fill="#d8d8d8"/><rect x="19" width="1.08" height="1.08" fill="#c7c7c7"/><rect x="20" width="1.08" height="1.08" fill="#b4b4b4"/><rect x="21" width="1.08" height="1.08" fill="#9f9f9f"/><rect x="22" width="1.08" height="1.08" fill="#888888"/><rect x="23" width="1.08" height="1.08" fill="#6c6c6c"/><rect x="24" width="1.08" height="1.08" fill="#4d4d4d"/><rect x="25" width="1.08" height="1.08" fill="#363636"/><rect x="26" width="1.08" height="1.08" fill="#323232"/><rect x="27" width="1.08" height="1.08" fill="#3a3a3a"/><rect x="28" width="1.08" height="1.08" fill="#444444"/><rect x="29" width="1.08" height="1.08" fill="#4e4e4e"/><rect x="30" width="1.08" height="1.08" fill="#525252"/><rect x="31" width="1.08" height="1.08" fill="#545454"/></g>
<g transform="translate(0 21)"><rect x="-2" width="1.08" height="1.08" fill="#4d4d4d"/><rect x="-1" width="1.08" height="1.08" fill="#454545"/><rect x="0" width="1.08" height="1.08" fill="#3c3c3c"/><rect x="1" width="1.08" height="1.08" fill="#323232"/><rect x="2" width="1.08" height="1.08" fill="#262626"/><rect x="3" width="1.08" height="1.08" fill="#212121"/><rect x="4" width="1.08" height="1.08" fill="#343434"/><rect x="5" width="1.08" height="1.08" fill="#595959"/><rect x="6" width="1.08" height="1.08" fill="#7c7c7c"/><rect x="7" width="1.08" height="1.08" fill="#979797"/><rect x="8" width="1.08" height="1.08" fill="#afafaf"/><rect x="9" width="1.08" height="1.08" fill="#c5c5c5"/><rect x="10" width="1.08" height="1.08" fill="#d7d7d7"/><rect x="11" width="1.08" height="1.08" fill="#e7e7e7"/><rect x="12" width="1.08" height="1.08" fill="#f3f3f3"/><rect x="13" width="1.08" height="1.08" fill="#fafafa"/><rect x="14" width="1.08" height="1.08" fill="#fdfdfd"/><rect x="15" width="1.08" height="1.08" fill="#f8f8f8"/><rect x="16" width="1.08" height="1.08" fill="#f0f0f0"/><rect x="17" width="1.08" height="1.08" fill="#e3e3e3"/><rect x="18" width="1.08" height="1.08" fill="#d4d4d4"/><rect x="19" width="1.08" height="1.08" fill="#c4c4c4"/><rect x="20" width="1.08" height="1.08" fill="#b1b1b1"/><rect x="21" width="1.08" height="1.08" fill="#9d9d9d"/><rect x="22" width="1.08" height="1.08" fill="#868686"/><rect x="23" width="1.08" height="1.08" fill="#6b6b6b"/><rect x="24" width="1.08" height="1.08" fill="#4d4d4d"/><rect x="25" width="1.08" height="1.08" fill="#373737"/><rect x="26" width="1.08" height="1.08" fill="#333333"/><rect x="27" width="1.08" height="1.08" fill="#3b3b3b"/><rect x="28" width="1.08" height="1.08" fill="#454545"/><rect x="29" width="1.08" height="1.08" fill="#4f4f4f"/><rect x="30" width="1.08" height="1.08" fill="#535353"/><rect x="31" width="1.08" height="1.08" fill="#565656"/></g>
<g transform="translate(0 22)"><rect x="-2" width="1.08" height="1.08" fill="#515151"/><rect x="-1" width="1.08" height="1.08" fill="#4a4a4a"/><rect x="0" width="1.08" height="1.08" fill="#414141"/><rect x="1" width="1.08" height="1.08" fill="#383838"/><rect x="2" width="1.08" height="1.08" fill="#2d2d2d"/><rect x="3" width="1.08" height="1.08" fill="#292929"/><rect x="4" width="1.08" height="1.08" fill="#393939"/><rect x="5" width="1.08" height="1.08" fill="#5a5a5a"/><rect x="6" width="1.08" height="1.08" fill="#7b7b7b"/><rect x="7" width="1.08" height="1.08" fill="#949494"/><rect x="8" width="1.08" height="1.08" fill="#ababab"/><rect x="9" width="1.08" height="1.08" fill="#bfbfbf"/><rect x="10" width="1.08" height="1.08" fill="#d1d1d1"/><rect x="11" width="1.08" height="1.08" fill="#dfdfdf"/><rect x="12" width="1.08" height="1.08" fill="#eaeaea"/><rect x="13" width="1.08" height="1.08" fill="#f0f0f0"/><rect x="14" width="1.08" height="1.08" fill="#f2f2f2"/><rect x="15" width="1.08" height="1.08" fill="#ededed"/><rect x="16" width="1.08" height="1.08" fill="#e5e5e5"/><rect x="17" width="1.08" height="1.08" fill="#d9d9d9"/><rect x="18" width="1.08" height="1.08" fill="#cbcbcb"/><rect x="19" width="1.08" height="1.08" fill="#bcbcbc"/><rect x="20" width="1.08" height="1.08" fill="#aaaaaa"/><rect x="21" width="1.08" height="1.08" fill="#979797"/><rect x="22" width="1.08" height="1.08" fill="#818181"/><rect x="23" width="1.08" height="1.08" fill="#676767"/><rect x="24" width="1.08" height="1.08" fill="#4c4c4c"/><rect x="25" width="1.08" height="1.08" fill="#383838"/><rect x="26" width="1.08" height="1.08" fill="#353535"/><rect x="27" width="1.08" height="1.08" fill="#3d3d3d"/><rect x="28" width="1.08" height="1.08" fill="#474747"/><rect x="29" width="1.08" height="1.08" fill="#515151"/><rect x="30" width="1.08" height="1.08" fill="#555555"/><rect x="31" width="1.08" height="1.08" fill="#575757"/></g>
<g transform="translate(0 23)"><rect x="-2" width="1.08" height="1.08" fill="#565656"/><rect x="-1" width="1.08" height="1.08" fill="#4f4f4f"/><rect x="0" width="1.08" height="1.08" fill="#474747"/><rect x="1" width="1.08" height="1.08" fill="#3f3f3f"/><rect x="2" width="1.08" height="1.08" fill="#353535"/><rect x="3" width="1.08" height="1.08" fill="#323232"/><rect x="4" width="1.08" height="1.08" fill="#3e3e3e"/><rect x="5" width="1.08" height="1.08" fill="#5a5a5a"/><rect x="6" width="1.08" height="1.08" fill="#787878"/><rect x="7" width="1.08" height="1.08" fill="#8f8f8f"/><rect x="8" width="1.08" height="1.08" fill="#a4a4a4"/><rect x="9" width="1.08" height="1.08" fill="#b8b8b8"/><rect x="10" width="1.08" height="1.08" fill="#c8c8c8"/><rect x="11" width="1.08" height="1.08" fill="#d5d5d5"/><rect x="12" width="1.08" height="1.08" fill="#dedede"/><rect x="13" width="1.08" height="1.08" fill="#e4e4e4"/><rect x="14" width="1.08" height="1.08" fill="#e5e5e5"/><rect x="15" width="1.08" height="1.08" fill="#e0e0e0"/><rect x="16" width="1.08" height="1.08" fill="#d8d8d8"/><rect x="17" width="1.08" height="1.08" fill="#cdcdcd"/><rect x="18" width="1.08" height="1.08" fill="#c0c0c0"/><rect x="19" width="1.08" height="1.08" fill="#b1b1b1"/><rect x="20" width="1.08" height="1.08" fill="#a1a1a1"/><rect x="21" width="1.08" height="1.08" fill="#8f8f8f"/><rect x="22" width="1.08" height="1.08" fill="#7b7b7b"/><rect x="23" width="1.08" height="1.08" fill="#636363"/><rect x="24" width="1.08" height="1.08" fill="#4a4a4a"/><rect x="25" width="1.08" height="1.08" fill="#3a3a3a"/><rect x="26" width="1.08" height="1.08" fill="#373737"/><rect x="27" width="1.08" height="1.08" fill="#3f3f3f"/><rect x="28" width="1.08" height="1.08" fill="#494949"/><rect x="29" width="1.08" height="1.08" fill="#535353"/><rect x="30" width="1.08" height="1.08" fill="#575757"/><rect x="31" width="1.08" height="1.08" fill="#5a5a5a"/></g>
<g transform="translate(0 24)"><rect x="-2" width="1.08" height="1.08" fill="#5a5a5a"/><rect x="-1" width="1.08" height="1.08" fill="#535353"/><rect x="0" width="1.08" height="1.08" fill="#4c4c4c"/><rect x="1" width="1.08" height="1.08" fill="#444444"/><rect x="2" width="1.08" height="1.08" fill="#3c3c3c"/><rect x="3" width="1.08" height="1.08" fill="#393939"/><rect x="4" width="1.08" height="1.08" fill="#424242"/><rect x="5" width="1.08" height="1.08" fill="#5b5b5b"/><rect x="6" width="1.08" height="1.08" fill="#757575"/><rect x="7" width="1.08" height="1.08" fill="#8b8b8b"/><rect x="8" width="1.08" height="1.08" fill="#9f9f9f"/><rect x="9" width="1.08" height="1.08" fill="#b1b1b1"/><rect x="10" width="1.08" height="1.08" fill="#c0c0c0"/><rect x="11" width="1.08" height="1.08" fill="#cccccc"/><rect x="12" width="1.08" height="1.08" fill="#d5d5d5"/><rect x="13" width="1.08" height="1.08" fill="#dadada"/><rect x="14" width="1.08" height="1.08" fill="#dbdbdb"/><rect x="15" width="1.08" height="1.08" fill="#d5d5d5"/><rect x="16" width="1.08" height="1.08" fill="#cecece"/><rect x="17" width="1.08" height="1.08" fill="#c2c2c2"/><rect x="18" width="1.08" height="1.08" fill="#b6b6b6"/><rect x="19" width="1.08" height="1.08" fill="#a8a8a8"/><rect x="20" width="1.08" height="1.08" fill="#999999"/><rect x="21" width="1.08" height="1.08" fill="#888888"/><rect x="22" width="1.08" height="1.08" fill="#757575"/><rect x="23" width="1.08" height="1.08" fill="#5f5f5f"/><rect x="24" width="1.08" height="1.08" fill="#4a4a4a"/><rect x="25" width="1.08" height="1.08" fill="#3d3d3d"/><rect x="26" width="1.08" height="1.08" fill="#3b3b3b"/><rect x="27" width="1.08" height="1.08" fill="#424242"/><rect x="28" width="1.08" height="1.08" fill="#4d4d4d"/><rect x="29" width="1.08" height="1.08" fill="#575757"/><rect x="30" width="1.08" height="1.08" fill="#5b5b5b"/><rect x="31" width="1.08" height="1.08" fill="#5d5d5d"/></g>
<g transform="translate(0 25)"><rect x="-2" width="1.08" height="1.08" fill="#5d5d5d"/><rect x="-1" width="1.08" height="1.08" fill="#575757"/><rect x="0" width="1.08" height="1.08" fill="#505050"/><rect x="1" width="1.08" height="1.08" fill="#484848"/><rect x="2" width="1.08" height="1.08" fill="#404040"/><rect x="3" width="1.08" height="1.08" fill="#3e3e3e"/><rect x="4" width="1.08" height="1.08" fill="#454545"/><rect x="5" width="1.08" height="1.08" fill="#5b5b5b"/><rect x="6" width="1.08" height="1.08" fill="#727272"/><rect x="7" width="1.08" height="1.08" fill="#858585"/><rect x="8" width="1.08" height="1.08" fill="#989898"/><rect x="9" width="1.08" height="1.08" fill="#a9a9a9"/><rect x="10" width="1.08" height="1.08" fill="#b8b8b8"/><rect x="11" width="1.08" height="1.08" fill="#c4c4c4"/><rect x="12" width="1.08" height="1.08" fill="#cccccc"/><rect x="13" width="1.08" height="1.08" fill="#d1d1d1"/><rect x="14" width="1.08" height="1.08" fill="#d1d1d1"/><rect x="15" width="1.08" height="1.08" fill="#cbcbcb"/><rect x="16" width="1.08" height="1.08" fill="#c3c3c3"/><rect x="17" width="1.08" height="1.08" fill="#b8b8b8"/><rect x="18" width="1.08" height="1.08" fill="#acacac"/><rect x="19" width="1.08" height="1.08" fill="#9f9f9f"/><rect x="20" width="1.08" height="1.08" fill="#909090"/><rect x="21" width="1.08" height="1.08" fill="#808080"/><rect x="22" width="1.08" height="1.08" fill="#707070"/><rect x="23" width="1.08" height="1.08" fill="#5d5d5d"/><rect x="24" width="1.08" height="1.08" fill="#4e4e4e"/><rect x="25" width="1.08" height="1.08" fill="#454545"/><rect x="26" width="1.08" height="1.08" fill="#444444"/><rect x="27" width="1.08" height="1.08" fill="#4b4b4b"/><rect x="28" width="1.08" height="1.08" fill="#545454"/><rect x="29" width="1.08" height="1.08" fill="#5e5e5e"/><rect x="30" width="1.08" height="1.08" fill="#616161"/><rect x="31" width="1.08" height="1.08" fill="#636363"/></g>
<g transform="translate(0 26)"><rect x="-2" width="1.08" height="1.08" fill="#606060"/><rect x="-1" width="1.08" height="1.08" fill="#5a5a5a"/><rect x="0" width="1.08" height="1.08" fill="#535353"/><rect x="1" width="1.08" height="1.08" fill="#4c4c4c"/><rect x="2" width="1.08" height="1.08" fill="#444444"/><rect x="3" width="1.08" height="1.08" fill="#424242"/><rect x="4" width="1.08" height="1.08" fill="#484848"/><rect x="5" width="1.08" height="1.08" fill="#5a5a5a"/><rect x="6" width="1.08" height="1.08" fill="#6e6e6e"/><rect x="7" width="1.08" height="1.08" fill="#808080"/><rect x="8" width="1.08" height="1.08" fill="#919191"/><rect x="9" width="1.08" height="1.08" fill="#a1a1a1"/><rect x="10" width="1.08" height="1.08" fill="#b0b0b0"/><rect x="11" width="1.08" height="1.08" fill="#bcbcbc"/><rect x="12" width="1.08" height="1.08" fill="#c4c4c4"/><rect x="13" width="1.08" height="1.08" fill="#c8c8c8"/><rect x="14" width="1.08" height="1.08" fill="#c8c8c8"/><rect x="15" width="1.08" height="1.08" fill="#c2c2c2"/><rect x="16" width="1.08" height="1.08" fill="#b9b9b9"/><rect x="17" width="1.08" height="1.08" fill="#adadad"/><rect x="18" width="1.08" height="1.08" fill="#a2a2a2"/><rect x="19" width="1.08" height="1.08" fill="#959595"/><rect x="20" width="1.08" height="1.08" fill="#878787"/><rect x="21" width="1.08" height="1.08" fill="#797979"/><rect x="22" width="1.08" height="1.08" fill="#6c6c6c"/><rect x="23" width="1.08" height="1.08" fill="#5e5e5e"/><rect x="24" width="1.08" height="1.08" fill="#545454"/><rect x="25" width="1.08" height="1.08" fill="#505050"/><rect x="26" width="1.08" height="1.08" fill="#505050"/><rect x="27" width="1.08" height="1.08" fill="#565656"/><rect x="28" width="1.08" height="1.08" fill="#5e5e5e"/><rect x="29" width="1.08" height="1.08" fill="#676767"/><rect x="30" width="1.08" height="1.08" fill="#6b6b6b"/><rect x="31" width="1.08" height="1.08" fill="#6d6d6d"/></g>
<g transform="translate(0 27)"><rect x="-2" width="1.08" height="1.08" fill="#636363"/><rect x="-1" width="1.08" height="1.08" fill="#5c5c5c"/><rect x="0" width="1.08" height="1.08" fill="#565656"/><rect x="1" width="1.08" height="1.08" fill="#4f4f4f"/><rect x="2" width="1.08" height="1.08" fill="#484848"/><rect x="3" width="1.08" height="1.08" fill="#454545"/><rect x="4" width="1.08" height="1.08" fill="#4a4a4a"/><rect x="5" width="1.08" height="1.08" fill="#595959"/><rect x="6" width="1.08" height="1.08" fill="#6b6b6b"/><rect x="7" width="1.08" height="1.08" fill="#7a7a7a"/><rect x="8" width="1.08" height="1.08" fill="#8a8a8a"/><rect x="9" width="1.08" height="1.08" fill="#9a9a9a"/><rect x="10" width="1.08" height="1.08" fill="#a8a8a8"/><rect x="11" width="1.08" height="1.08" fill="#b4b4b4"/><rect x="12" width="1.08" height="1.08" fill="#bcbcbc"/><rect x="13" width="1.08" height="1.08" fill="#c0c0c0"/><rect x="14" width="1.08" height="1.08" fill="#bfbfbf"/><rect x="15" width="1.08" height="1.08" fill="#b8b8b8"/><rect x="16" width="1.08" height="1.08" fill="#afafaf"/><rect x="17" width="1.08" height="1.08" fill="#a3a3a3"/><rect x="18" width="1.08" height="1.08" fill="#989898"/><rect x="19" width="1.08" height="1.08" fill="#8c8c8c"/><rect x="20" width="1.08" height="1.08" fill="#7f7f7f"/><rect x="21" width="1.08" height="1.08" fill="#737373"/><rect x="22" width="1.08" height="1.08" fill="#686868"/><rect x="23" width="1.08" height="1.08" fill="#5f5f5f"/><rect x="24" width="1.08" height="1.08" fill="#5b5b5b"/><rect x="25" width="1.08" height="1.08" fill="#5a5a5a"/><rect x="26" width="1.08" height="1.08" fill="#5b5b5b"/><rect x="27" width="1.08" height="1.08" fill="#616161"/><rect x="28" width="1.08" height="1.08" fill="#686868"/><rect x="29" width="1.08" height="1.08" fill="#717171"/><rect x="30" width="1.08" height="1.08" fill="#747474"/><rect x="31" width="1.08" height="1.08" fill="#767676"/></g>
<g transform="translate(0 28)"><rect x="-2" width="1.08" height="1.08" fill="#656565"/><rect x="-1" width="1.08" height="1.08" fill="#5f5f5f"/><rect x="0" width="1.08" height="1.08" fill="#585858"/><rect x="1" width="1.08" height="1.08" fill="#525252"/><rect x="2" width="1.08" height="1.08" fill="#4b4b4b"/><rect x="3" width="1.08" height="1.08" fill="#484848"/><rect x="4" width="1.08" height="1.08" fill="#4c4c4c"/><rect x="5" width="1.08" height="1.08" fill="#585858"/><rect x="6" width="1.08" height="1.08" fill="#676767"/><rect x="7" width="1.08" height="1.08" fill="#747474"/><rect x="8" width="1.08" height="1.08" fill="#838383"/><rect x="9" width="1.08" height="1.08" fill="#919191"/><rect x="10" width="1.08" height="1.08" fill="#9f9f9f"/><rect x="11" width="1.08" height="1.08" fill="#ababab"/><rect x="12" width="1.08" height="1.08" fill="#b4b4b4"/><rect x="13" width="1.08" height="1.08" fill="#b8b8b8"/><rect x="14" width="1.08" height="1.08" fill="#b6b6b6"/><rect x="15" width="1.08" height="1.08" fill="#afafaf"/><rect x="16" width="1.08" height="1.08" fill="#a4a4a4"/><rect x="17" width="1.08" height="1.08" fill="#989898"/><rect x="18" width="1.08" height="1.08" fill="#8d8d8d"/><rect x="19" width="1.08" height="1.08" fill="#828282"/><rect x="20" width="1.08" height="1.08" fill="#767676"/><rect x="21" width="1.08" height="1.08" fill="#6c6c6c"/><rect x="22" width="1.08" height="1.08" fill="#656565"/><rect x="23" width="1.08" height="1.08" fill="#616161"/><rect x="24" width="1.08" height="1.08" fill="#626262"/><rect x="25" width="1.08" height="1.08" fill="#656565"/><rect x="26" width="1.08" height="1.08" fill="#666666"/><rect x="27" width="1.08" height="1.08" fill="#6b6b6b"/><rect x="28" width="1.08" height="1.08" fill="#727272"/><rect x="29" width="1.08" height="1.08" fill="#7a7a7a"/><rect x="30" width="1.08" height="1.08" fill="#7d7d7d"/><rect x="31" width="1.08" height="1.08" fill="#7f7f7f"/></g>
<g transform="translate(0 29)"><rect x="-2" width="1.08" height="1.08" fill="#676767"/><rect x="-1" width="1.08" height="1.08" fill="#616161"/><rect x="0" width="1.08" height="1.08" fill="#5b5b5b"/><rect x="1" width="1.08" height="1.08" fill="#545454"/><rect x="2" width="1.08" height="1.08" fill="#4e4e4e"/><rect x="3" width="1.08" height="1.08" fill="#4b4b4b"/><rect x="4" width="1.08" height="1.08" fill="#4e4e4e"/><rect x="5" width="1.08" height="1.08" fill="#575757"/><rect x="6" width="1.08" height="1.08" fill="#636363"/><rect x="7" width="1.08" height="1.08" fill="#6f6f6f"/><rect x="8" width="1.08" height="1.08" fill="#7c7c7c"/><rect x="9" width="1.08" height="1.08" fill="#8a8a8a"/><rect x="10" width="1.08" height="1.08" fill="#989898"/><rect x="11" width="1.08" height="1.08" fill="#a4a4a4"/><rect x="12" width="1.08" height="1.08" fill="#acacac"/><rect x="13" width="1.08" height="1.08" fill="#b0b0b0"/><rect x="14" width="1.08" height="1.08" fill="#adadad"/><rect x="15" width="1.08" height="1.08" fill="#a5a5a5"/><rect x="16" width="1.08" height="1.08" fill="#9a9a9a"/><rect x="17" width="1.08" height="1.08" fill="#8e8e8e"/><rect x="18" width="1.08" height="1.08" fill="#848484"/><rect x="19" width="1.08" height="1.08" fill="#797979"/><rect x="20" width="1.08" height="1.08" fill="#6e6e6e"/><rect x="21" width="1.08" height="1.08" fill="#666666"/><rect x="22" width="1.08" height="1.08" fill="#626262"/><rect x="23" width="1.08" height="1.08" fill="#636363"/><rect x="24" width="1.08" height="1.08" fill="#696969"/><rect x="25" width="1.08" height="1.08" fill="#6e6e6e"/><rect x="26" width="1.08" height="1.08" fill="#707070"/><rect x="27" width="1.08" height="1.08" fill="#757575"/><rect x="28" width="1.08" height="1.08" fill="#7c7c7c"/><rect x="29" width="1.08" height="1.08" fill="#838383"/><rect x="30" width="1.08" height="1.08" fill="#868686"/><rect x="31" width="1.08" height="1.08" fill="#888888"/></g>
<g transform="translate(0 30)"><rect x="-2" width="1.08" height="1.08" fill="#696969"/><rect x="-1" width="1.08" height="1.08" fill="#636363"/><rect x="0" width="1.08" height="1.08" fill="#5d5d5d"/><rect x="1" width="1.08" height="1.08" fill="#575757"/><rect x="2" width="1.08" height="1.08" fill="#505050"/><rect x="3" width="1.08" height="1.08" fill="#4e4e4e"/><rect x="4" width="1.08" height="1.08" fill="#4f4f4f"/><rect x="5" width="1.08" height="1.08" fill="#575757"/><rect x="6" width="1.08" height="1.08" fill="#616161"/><rect x="7" width="1.08" height="1.08" fill="#6b6b6b"/><rect x="8" width="1.08" height="1.08" fill="#777777"/><rect x="9" width="1.08" height="1.08" fill="#848484"/><rect x="10" width="1.08" height="1.08" fill="#929292"/><rect x="11" width="1.08" height="1.08" fill="#9e9e9e"/><rect x="12" width="1.08" height="1.08" fill="#a6a6a6"/><rect x="13" width="1.08" height="1.08" fill="#aaaaaa"/><rect x="14" width="1.08" height="1.08" fill="#a6a6a6"/><rect x="15" width="1.08" height="1.08" fill="#9e9e9e"/><rect x="16" width="1.08" height="1.08" fill="#939393"/><rect x="17" width="1.08" height="1.08" fill="#878787"/><rect x="18" width="1.08" height="1.08" fill="#7d7d7d"/><rect x="19" width="1.08" height="1.08" fill="#737373"/><rect x="20" width="1.08" height="1.08" fill="#696969"/><rect x="21" width="1.08" height="1.08" fill="#626262"/><rect x="22" width="1.08" height="1.08" fill="#616161"/><rect x="23" width="1.08" height="1.08" fill="#646464"/><rect x="24" width="1.08" height="1.08" fill="#6c6c6c"/><rect x="25" width="1.08" height="1.08" fill="#737373"/><rect x="26" width="1.08" height="1.08" fill="#757575"/><rect x="27" width="1.08" height="1.08" fill="#7a7a7a"/><rect x="28" width="1.08" height="1.08" fill="#808080"/><rect x="29" width="1.08" height="1.08" fill="#888888"/><rect x="30" width="1.08" height="1.08" fill="#8b8b8b"/><rect x="31" width="1.08" height="1.08" fill="#8c8c8c"/></g>
<g transform="translate(0 31)"><rect x="-2" width="1.08" height="1.08" fill="#6b6b6b"/><rect x="-1" width="1.08" height="1.08" fill="#656565"/><rect x="0" width="1.08" height="1.08" fill="#5f5f5f"/><rect x="1" width="1.08" height="1.08" fill="#595959"/><rect x="2" width="1.08" height="1.08" fill="#535353"/><rect x="3" width="1.08" height="1.08" fill="#505050"/><rect x="4" width="1.08" height="1.08" fill="#515151"/><rect x="5" width="1.08" height="1.08" fill="#575757"/><rect x="6" width="1.08" height="1.08" fill="#5f5f5f"/><rect x="7" width="1.08" height="1.08" fill="#686868"/><rect x="8" width="1.08" height="1.08" fill="#737373"/><rect x="9" width="1.08" height="1.08" fill="#7f7f7f"/><rect x="10" width="1.08" height="1.08" fill="#8c8c8c"/><rect x="11" width="1.08" height="1.08" fill="#989898"/><rect x="12" width="1.08" height="1.08" fill="#a0a0a0"/><rect x="13" width="1.08" height="1.08" fill="#a4a4a4"/><rect x="14" width="1.08" height="1.08" fill="#a0a0a0"/><rect x="15" width="1.08" height="1.08" fill="#989898"/><rect x="16" width="1.08" height="1.08" fill="#8d8d8d"/><rect x="17" width="1.08" height="1.08" fill="#828282"/><rect x="18" width="1.08" height="1.08" fill="#787878"/><rect x="19" width="1.08" height="1.08" fill="#6e6e6e"/><rect x="20" width="1.08" height="1.08" fill="#656565"/><rect x="21" width="1.08" height="1.08" fill="#5f5f5f"/><rect x="22" width="1.08" height="1.08" fill="#5f5f5f"/><rect x="23" width="1.08" height="1.08" fill="#656565"/><rect x="24" width="1.08" height="1.08" fill="#6e6e6e"/><rect x="25" width="1.08" height="1.08" fill="#767676"/><rect x="26" width="1.08" height="1.08" fill="#787878"/><rect x="27" width="1.08" height="1.08" fill="#7d7d7d"/><rect x="28" width="1.08" height="1.08" fill="#838383"/><rect x="29" width="1.08" height="1.08" fill="#8a8a8a"/><rect x="30" width="1.08" height="1.08" fill="#8d8d8d"/><rect x="31" width="1.08" height="1.08" fill="#8f8f8f"/></g>
</g></g></g>
<clipPath id="cp3"><rect x="72.3" y="343.3" width="145.70" height="146.20"/></clipPath>
<g clip-path="url(#cp3)"><g filter="url(#cm)"><g class="hm" transform="translate(72.3 343.3) scale(4.8567 4.8733)">
<g transform="translate(0 -2)"><rect x="-2" width="1.08" height="1.08" fill="#727272"/><rect x="-1" width="1.08" height="1.08" fill="#747474"/><rect x="0" width="1.08" height="1.08" fill="#767676"/><rect x="1" width="1.08" height="1.08" fill="#797979"/><rect x="2" width="1.08" height="1.08" fill="#7c7c7c"/><rect x="3" width="1.08" height="1.08" fill="#808080"/><rect x="4" width="1.08" height="1.08" fill="#838383"/><rect x="5" width="1.08" height="1.08" fill="#878787"/><rect x="6" width="1.08" height="1.08" fill="#8a8a8a"/><rect x="7" width="1.08" height="1.08" fill="#8d8d8d"/><rect x="8" width="1.08" height="1.08" fill="#8f8f8f"/><rect x="9" width="1.08" height="1.08" fill="#909090"/><rect x="10" width="1.08" height="1.08" fill="#909090"/><rect x="11" width="1.08" height="1.08" fill="#8f8f8f"/><rect x="12" width="1.08" height="1.08" fill="#8d8d8d"/><rect x="13" width="1.08" height="1.08" fill="#8b8b8b"/><rect x="14" width="1.08" height="1.08" fill="#878787"/><rect x="15" width="1.08" height="1.08" fill="#838383"/><rect x="16" width="1.08" height="1.08" fill="#7f7f7f"/><rect x="17" width="1.08" height="1.08" fill="#7b7b7b"/><rect x="18" width="1.08" height="1.08" fill="#777777"/><rect x="19" width="1.08" height="1.08" fill="#747474"/><rect x="20" width="1.08" height="1.08" fill="#717171"/><rect x="21" width="1.08" height="1.08" fill="#6f6f6f"/><rect x="22" width="1.08" height="1.08" fill="#6d6d6d"/><rect x="23" width="1.08" height="1.08" fill="#6c6c6c"/><rect x="24" width="1.08" height="1.08" fill="#6c6c6c"/><rect x="25" width="1.08" height="1.08" fill="#6b6b6b"/><rect x="26" width="1.08" height="1.08" fill="#6c6c6c"/><rect x="27" width="1.08" height="1.08" fill="#6c6c6c"/><rect x="28" width="1.08" height="1.08" fill="#6c6c6c"/><rect x="29" width="1.08" height="1.08" fill="#6d6d6d"/><rect x="30" width="1.08" height="1.08" fill="#6d6d6d"/><rect x="31" width="1.08" height="1.08" fill="#6d6d6d"/></g>
<g transform="translate(0 -1)"><rect x="-2" width="1.08" height="1.08" fill="#747474"/><rect x="-1" width="1.08" height="1.08" fill="#767676"/><rect x="0" width="1.08" height="1.08" fill="#797979"/><rect x="1" width="1.08" height="1.08" fill="#7d7d7d"/><rect x="2" width="1.08" height="1.08" fill="#818181"/><rect x="3" width="1.08" height="1.08" fill="#868686"/><rect x="4" width="1.08" height="1.08" fill="#8b8b8b"/><rect x="5" width="1.08" height="1.08" fill="#909090"/><rect x="6" width="1.08" height="1.08" fill="#949494"/><rect x="7" width="1.08" height="1.08" fill="#989898"/><rect x="8" width="1.08" height="1.08" fill="#9b9b9b"/><rect x="9" width="1.08" height="1.08" fill="#9c9c9c"/><rect x="10" width="1.08" height="1.08" fill="#9c9c9c"/><rect x="11" width="1.08" height="1.08" fill="#9a9a9a"/><rect x="12" width="1.08" height="1.08" fill="#979797"/><rect x="13" width="1.08" height="1.08" fill="#939393"/><rect x="14" width="1.08" height="1.08" fill="#8f8f8f"/><rect x="15" width="1.08" height="1.08" fill="#898989"/><rect x="16" width="1.08" height="1.08" fill="#848484"/><rect x="17" width="1.08" height="1.08" fill="#7e7e7e"/><rect x="18" width="1.08" height="1.08" fill="#797979"/><rect x="19" width="1.08" height="1.08" fill="#747474"/><rect x="20" width="1.08" height="1.08" fill="#707070"/><rect x="21" width="1.08" height="1.08" fill="#6d6d6d"/><rect x="22" width="1.08" height="1.08" fill="#6b6b6b"/><rect x="23" width="1.08" height="1.08" fill="#6a6a6a"/><rect x="24" width="1.08" height="1.08" fill="#696969"/><rect x="25" width="1.08" height="1.08" fill="#696969"/><rect x="26" width="1.08" height="1.08" fill="#6a6a6a"/><rect x="27" width="1.08" height="1.08" fill="#6b6b6b"/><rect x="28" width="1.08" height="1.08" fill="#6c6c6c"/><rect x="29" width="1.08" height="1.08" fill="#6c6c6c"/><rect x="30" width="1.08" height="1.08" fill="#6d6d6d"/><rect x="31" width="1.08" height="1.08" fill="#6d6d6d"/></g>
<g transform="translate(0 0)"><rect x="-2" width="1.08" height="1.08" fill="#767676"/><rect x="-1" width="1.08" height="1.08" fill="#797979"/><rect x="0" width="1.08" height="1.08" fill="#7d7d7d"/><rect x="1" width="1.08" height="1.08" fill="#828282"/><rect x="2" width="1.08" height="1.08" fill="#888888"/><rect x="3" width="1.08" height="1.08" fill="#8e8e8e"/><rect x="4" width="1.08" height="1.08" fill="#949494"/><rect x="5" width="1.08" height="1.08" fill="#9b9b9b"/><rect x="6" width="1.08" height="1.08" fill="#a0a0a0"/><rect x="7" width="1.08" height="1.08" fill="#a5a5a5"/><rect x="8" width="1.08" height="1.08" fill="#a8a8a8"/><rect x="9" width="1.08" height="1.08" fill="#a9a9a9"/><rect x="10" width="1.08" height="1.08" fill="#a9a9a9"/><rect x="11" width="1.08" height="1.08" fill="#a7a7a7"/><rect x="12" width="1.08" height="1.08" fill="#a3a3a3"/><rect x="13" width="1.08" height="1.08" fill="#9d9d9d"/><rect x="14" width="1.08" height="1.08" fill="#979797"/><rect x="15" width="1.08" height="1.08" fill="#909090"/><rect x="16" width="1.08" height="1.08" fill="#898989"/><rect x="17" width="1.08" height="1.08" fill="#818181"/><rect x="18" width="1.08" height="1.08" fill="#7a7a7a"/><rect x="19" width="1.08" height="1.08" fill="#747474"/><rect x="20" width="1.08" height="1.08" fill="#6e6e6e"/><rect x="21" width="1.08" height="1.08" fill="#6a6a6a"/><rect x="22" width="1.08" height="1.08" fill="#676767"/><rect x="23" width="1.08" height="1.08" fill="#656565"/><rect x="24" width="1.08" height="1.08" fill="#656565"/><rect x="25" width="1.08" height="1.08" fill="#666666"/><rect x="26" width="1.08" height="1.08" fill="#676767"/><rect x="27" width="1.08" height="1.08" fill="#696969"/><rect x="28" width="1.08" height="1.08" fill="#6a6a6a"/><rect x="29" width="1.08" height="1.08" fill="#6b6b6b"/><rect x="30" width="1.08" height="1.08" fill="#6c6c6c"/><rect x="31" width="1.08" height="1.08" fill="#6d6d6d"/></g>
<g transform="translate(0 1)"><rect x="-2" width="1.08" height="1.08" fill="#797979"/><rect x="-1" width="1.08" height="1.08" fill="#7d7d7d"/><rect x="0" width="1.08" height="1.08" fill="#828282"/><rect x="1" width="1.08" height="1.08" fill="#888888"/><rect x="2" width="1.08" height="1.08" fill="#909090"/><rect x="3" width="1.08" height="1.08" fill="#979797"/><rect x="4" width="1.08" height="1.08" fill="#9f9f9f"/><rect x="5" width="1.08" height="1.08" fill="#a7a7a7"/><rect x="6" width="1.08" height="1.08" fill="#aeaeae"/><rect x="7" width="1.08" height="1.08" fill="#b3b3b3"/><rect x="8" width="1.08" height="1.08" fill="#b7b7b7"/><rect x="9" width="1.08" height="1.08" fill="#b8b8b8"/><rect x="10" width="1.08" height="1.08" fill="#b7b7b7"/><rect x="11" width="1.08" height="1.08" fill="#b4b4b4"/><rect x="12" width="1.08" height="1.08" fill="#afafaf"/><rect x="13" width="1.08" height="1.08" fill="#a8a8a8"/><rect x="14" width="1.08" height="1.08" fill="#a0a0a0"/><rect x="15" width="1.08" height="1.08" fill="#979797"/><rect x="16" width="1.08" height="1.08" fill="#8e8e8e"/><rect x="17" width="1.08" height="1.08" fill="#848484"/><rect x="18" width="1.08" height="1.08" fill="#7b7b7b"/><rect x="19" width="1.08" height="1.08" fill="#727272"/><rect x="20" width="1.08" height="1.08" fill="#6a6a6a"/><rect x="21" width="1.08" height="1.08" fill="#646464"/><rect x="22" width="1.08" height="1.08" fill="#606060"/><rect x="23" width="1.08" height="1.08" fill="#5e5e5e"/><rect x="24" width="1.08" height="1.08" fill="#5e5e5e"/><rect x="25" width="1.08" height="1.08" fill="#606060"/><rect x="26" width="1.08" height="1.08" fill="#636363"/><rect x="27" width="1.08" height="1.08" fill="#666666"/><rect x="28" width="1.08" height="1.08" fill="#686868"/><rect x="29" width="1.08" height="1.08" fill="#6a6a6a"/><rect x="30" width="1.08" height="1.08" fill="#6c6c6c"/><rect x="31" width="1.08" height="1.08" fill="#6c6c6c"/></g>
<g transform="translate(0 2)"><rect x="-2" width="1.08" height="1.08" fill="#7c7c7c"/><rect x="-1" width="1.08" height="1.08" fill="#818181"/><rect x="0" width="1.08" height="1.08" fill="#888888"/><rect x="1" width="1.08" height="1.08" fill="#8f8f8f"/><rect x="2" width="1.08" height="1.08" fill="#989898"/><rect x="3" width="1.08" height="1.08" fill="#a1a1a1"/><rect x="4" width="1.08" height="1.08" fill="#ababab"/><rect x="5" width="1.08" height="1.08" fill="#b4b4b4"/><rect x="6" width="1.08" height="1.08" fill="#bcbcbc"/><rect x="7" width="1.08" height="1.08" fill="#c3c3c3"/><rect x="8" width="1.08" height="1.08" fill="#c7c7c7"/><rect x="9" width="1.08" height="1.08" fill="#c8c8c8"/><rect x="10" width="1.08" height="1.08" fill="#c7c7c7"/><rect x="11" width="1.08" height="1.08" fill="#c3c3c3"/><rect x="12" width="1.08" height="1.08" fill="#bcbcbc"/><rect x="13" width="1.08" height="1.08" fill="#b3b3b3"/><rect x="14" width="1.08" height="1.08" fill="#a9a9a9"/><rect x="15" width="1.08" height="1.08" fill="#9e9e9e"/><rect x="16" width="1.08" height="1.08" fill="#929292"/><rect x="17" width="1.08" height="1.08" fill="#868686"/><rect x="18" width="1.08" height="1.08" fill="#797979"/><rect x="19" width="1.08" height="1.08" fill="#6e6e6e"/><rect x="20" width="1.08" height="1.08" fill="#636363"/><rect x="21" width="1.08" height="1.08" fill="#5b5b5b"/><rect x="22" width="1.08" height="1.08" fill="#555555"/><rect x="23" width="1.08" height="1.08" fill="#535353"/><rect x="24" width="1.08" height="1.08" fill="#545454"/><rect x="25" width="1.08" height="1.08" fill="#585858"/><rect x="26" width="1.08" height="1.08" fill="#5d5d5d"/><rect x="27" width="1.08" height="1.08" fill="#626262"/><rect x="28" width="1.08" height="1.08" fill="#666666"/><rect x="29" width="1.08" height="1.08" fill="#696969"/><rect x="30" width="1.08" height="1.08" fill="#6b6b6b"/><rect x="31" width="1.08" height="1.08" fill="#6c6c6c"/></g>
<g transform="translate(0 3)"><rect x="-2" width="1.08" height="1.08" fill="#7f7f7f"/><rect x="-1" width="1.08" height="1.08" fill="#858585"/><rect x="0" width="1.08" height="1.08" fill="#8d8d8d"/><rect x="1" width="1.08" height="1.08" fill="#979797"/><rect x="2" width="1.08" height="1.08" fill="#a1a1a1"/><rect x="3" width="1.08" height="1.08" fill="#acacac"/><rect x="4" width="1.08" height="1.08" fill="#b7b7b7"/><rect x="5" width="1.08" height="1.08" fill="#c2c2c2"/><rect x="6" width="1.08" height="1.08" fill="#cbcbcb"/><rect x="7" width="1.08" height="1.08" fill="#d3d3d3"/><rect x="8" width="1.08" height="1.08" fill="#d7d7d7"/><rect x="9" width="1.08" height="1.08" fill="#d8d8d8"/><rect x="10" width="1.08" height="1.08" fill="#d6d6d6"/><rect x="11" width="1.08" height="1.08" fill="#d1d1d1"/><rect x="12" width="1.08" height="1.08" fill="#c8c8c8"/><rect x="13" width="1.08" height="1.08" fill="#bebebe"/><rect x="14" width="1.08" height="1.08" fill="#b2b2b2"/><rect x="15" width="1.08" height="1.08" fill="#a4a4a4"/><rect x="16" width="1.08" height="1.08" fill="#959595"/><rect x="17" width="1.08" height="1.08" fill="#868686"/><rect x="18" width="1.08" height="1.08" fill="#777777"/><rect x="19" width="1.08" height="1.08" fill="#686868"/><rect x="20" width="1.08" height="1.08" fill="#595959"/><rect x="21" width="1.08" height="1.08" fill="#4d4d4d"/><rect x="22" width="1.08" height="1.08" fill="#464646"/><rect x="23" width="1.08" height="1.08" fill="#434343"/><rect x="24" width="1.08" height="1.08" fill="#474747"/><rect x="25" width="1.08" height="1.08" fill="#4e4e4e"/><rect x="26" width="1.08" height="1.08" fill="#565656"/><rect x="27" width="1.08" height="1.08" fill="#5d5d5d"/><rect x="28" width="1.08" height="1.08" fill="#636363"/><rect x="29" width="1.08" height="1.08" fill="#676767"/><rect x="30" width="1.08" height="1.08" fill="#6a6a6a"/><rect x="31" width="1.08" height="1.08" fill="#6c6c6c"/></g>
<g transform="translate(0 4)"><rect x="-2" width="1.08" height="1.08" fill="#828282"/><rect x="-1" width="1.08" height="1.08" fill="#8a8a8a"/><rect x="0" width="1.08" height="1.08" fill="#939393"/><rect x="1" width="1.08" height="1.08" fill="#9e9e9e"/><rect x="2" width="1.08" height="1.08" fill="#aaaaaa"/><rect x="3" width="1.08" height="1.08" fill="#b7b7b7"/><rect x="4" width="1.08" height="1.08" fill="#c4c4c4"/><rect x="5" width="1.08" height="1.08" fill="#d0d0d0"/><rect x="6" width="1.08" height="1.08" fill="#dadada"/><rect x="7" width="1.08" height="1.08" fill="#e2e2e2"/><rect x="8" width="1.08" height="1.08" fill="#e6e6e6"/><rect x="9" width="1.08" height="1.08" fill="#e7e7e7"/><rect x="10" width="1.08" height="1.08" fill="#e4e4e4"/><rect x="11" width="1.08" height="1.08" fill="#dedede"/><rect x="12" width="1.08" height="1.08" fill="#d4d4d4"/><rect x="13" width="1.08" height="1.08" fill="#c8c8c8"/><rect x="14" width="1.08" height="1.08" fill="#b9b9b9"/><rect x="15" width="1.08" height="1.08" fill="#a9a9a9"/><rect x="16" width="1.08" height="1.08" fill="#989898"/><rect x="17" width="1.08" height="1.08" fill="#868686"/><rect x="18" width="1.08" height="1.08" fill="#747474"/><rect x="19" width="1.08" height="1.08" fill="#606060"/><rect x="20" width="1.08" height="1.08" fill="#4d4d4d"/><rect x="21" width="1.08" height="1.08" fill="#3d3d3d"/><rect x="22" width="1.08" height="1.08" fill="#323232"/><rect x="23" width="1.08" height="1.08" fill="#303030"/><rect x="24" width="1.08" height="1.08" fill="#363636"/><rect x="25" width="1.08" height="1.08" fill="#424242"/><rect x="26" width="1.08" height="1.08" fill="#4e4e4e"/><rect x="27" width="1.08" height="1.08" fill="#585858"/><rect x="28" width="1.08" height="1.08" fill="#606060"/><rect x="29" width="1.08" height="1.08" fill="#666666"/><rect x="30" width="1.08" height="1.08" fill="#696969"/><rect x="31" width="1.08" height="1.08" fill="#6b6b6b"/></g>
<g transform="translate(0 5)"><rect x="-2" width="1.08" height="1.08" fill="#868686"/><rect x="-1" width="1.08" height="1.08" fill="#8e8e8e"/><rect x="0" width="1.08" height="1.08" fill="#999999"/><rect x="1" width="1.08" height="1.08" fill="#a5a5a5"/><rect x="2" width="1.08" height="1.08" fill="#b3b3b3"/><rect x="3" width="1.08" height="1.08" fill="#c1c1c1"/><rect x="4" width="1.08" height="1.08" fill="#cfcfcf"/><rect x="5" width="1.08" height="1.08" fill="#dcdcdc"/><rect x="6" width="1.08" height="1.08" fill="#e7e7e7"/><rect x="7" width="1.08" height="1.08" fill="#efefef"/><rect x="8" width="1.08" height="1.08" fill="#f4f4f4"/><rect x="9" width="1.08" height="1.08" fill="#f4f4f4"/><rect x="10" width="1.08" height="1.08" fill="#f0f0f0"/><rect x="11" width="1.08" height="1.08" fill="#e9e9e9"/><rect x="12" width="1.08" height="1.08" fill="#dedede"/><rect x="13" width="1.08" height="1.08" fill="#d0d0d0"/><rect x="14" width="1.08" height="1.08" fill="#c0c0c0"/><rect x="15" width="1.08" height="1.08" fill="#aeaeae"/><rect x="16" width="1.08" height="1.08" fill="#9b9b9b"/><rect x="17" width="1.08" height="1.08" fill="#868686"/><rect x="18" width="1.08" height="1.08" fill="#717171"/><rect x="19" width="1.08" height="1.08" fill="#5a5a5a"/><rect x="20" width="1.08" height="1.08" fill="#424242"/><rect x="21" width="1.08" height="1.08" fill="#2c2c2c"/><rect x="22" width="1.08" height="1.08" fill="#1c1c1c"/><rect x="23" width="1.08" height="1.08" fill="#1a1a1a"/><rect x="24" width="1.08" height="1.08" fill="#252525"/><rect x="25" width="1.08" height="1.08" fill="#363636"/><rect x="26" width="1.08" height="1.08" fill="#474747"/><rect x="27" width="1.08" height="1.08" fill="#545454"/><rect x="28" width="1.08" height="1.08" fill="#5e5e5e"/><rect x="29" width="1.08" height="1.08" fill="#656565"/><rect x="30" width="1.08" height="1.08" fill="#696969"/><rect x="31" width="1.08" height="1.08" fill="#6b6b6b"/></g>
<g transform="translate(0 6)"><rect x="-2" width="1.08" height="1.08" fill="#898989"/><rect x="-1" width="1.08" height="1.08" fill="#929292"/><rect x="0" width="1.08" height="1.08" fill="#9e9e9e"/><rect x="1" width="1.08" height="1.08" fill="#ababab"/><rect x="2" width="1.08" height="1.08" fill="#bababa"/><rect x="3" width="1.08" height="1.08" fill="#c9c9c9"/><rect x="4" width="1.08" height="1.08" fill="#d8d8d8"/><rect x="5" width="1.08" height="1.08" fill="#e6e6e6"/><rect x="6" width="1.08" height="1.08" fill="#f2f2f2"/><rect x="7" width="1.08" height="1.08" fill="#fafafa"/><rect x="8" width="1.08" height="1.08" fill="#fefefe"/><rect x="9" width="1.08" height="1.08" fill="#fefefe"/><rect x="10" width="1.08" height="1.08" fill="#fafafa"/><rect x="11" width="1.08" height="1.08" fill="#f1f1f1"/><rect x="12" width="1.08" height="1.08" fill="#e5e5e5"/><rect x="13" width="1.08" height="1.08" fill="#d6d6d6"/><rect x="14" width="1.08" height="1.08" fill="#c5c5c5"/><rect x="15" width="1.08" height="1.08" fill="#b2b2b2"/><rect x="16" width="1.08" height="1.08" fill="#9d9d9d"/><rect x="17" width="1.08" height="1.08" fill="#878787"/><rect x="18" width="1.08" height="1.08" fill="#707070"/><rect x="19" width="1.08" height="1.08" fill="#565656"/><rect x="20" width="1.08" height="1.08" fill="#3b3b3b"/><rect x="21" width="1.08" height="1.08" fill="#202020"/><rect x="22" width="1.08" height="1.08" fill="#0a0a0a"/><rect x="23" width="1.08" height="1.08" fill="#070707"/><rect x="24" width="1.08" height="1.08" fill="#191919"/><rect x="25" width="1.08" height="1.08" fill="#303030"/><rect x="26" width="1.08" height="1.08" fill="#434343"/><rect x="27" width="1.08" height="1.08" fill="#535353"/><rect x="28" width="1.08" height="1.08" fill="#5d5d5d"/><rect x="29" width="1.08" height="1.08" fill="#656565"/><rect x="30" width="1.08" height="1.08" fill="#696969"/><rect x="31" width="1.08" height="1.08" fill="#6c6c6c"/></g>
<g transform="translate(0 7)"><rect x="-2" width="1.08" height="1.08" fill="#8b8b8b"/><rect x="-1" width="1.08" height="1.08" fill="#959595"/><rect x="0" width="1.08" height="1.08" fill="#a2a2a2"/><rect x="1" width="1.08" height="1.08" fill="#b0b0b0"/><rect x="2" width="1.08" height="1.08" fill="#bfbfbf"/><rect x="3" width="1.08" height="1.08" fill="#cfcfcf"/><rect x="4" width="1.08" height="1.08" fill="#dfdfdf"/><rect x="5" width="1.08" height="1.08" fill="#ededed"/><rect x="6" width="1.08" height="1.08" fill="#f9f9f9"/><rect x="7" width="1.08" height="1.08" fill="#ffffff"/><rect x="8" width="1.08" height="1.08" fill="#ffffff"/><rect x="9" width="1.08" height="1.08" fill="#ffffff"/><rect x="10" width="1.08" height="1.08" fill="#ffffff"/><rect x="11" width="1.08" height="1.08" fill="#f6f6f6"/><rect x="12" width="1.08" height="1.08" fill="#e9e9e9"/><rect x="13" width="1.08" height="1.08" fill="#dadada"/><rect x="14" width="1.08" height="1.08" fill="#c8c8c8"/><rect x="15" width="1.08" height="1.08" fill="#b5b5b5"/><rect x="16" width="1.08" height="1.08" fill="#a0a0a0"/><rect x="17" width="1.08" height="1.08" fill="#8a8a8a"/><rect x="18" width="1.08" height="1.08" fill="#727272"/><rect x="19" width="1.08" height="1.08" fill="#595959"/><rect x="20" width="1.08" height="1.08" fill="#3e3e3e"/><rect x="21" width="1.08" height="1.08" fill="#232323"/><rect x="22" width="1.08" height="1.08" fill="#0d0d0d"/><rect x="23" width="1.08" height="1.08" fill="#0a0a0a"/><rect x="24" width="1.08" height="1.08" fill="#1c1c1c"/><rect x="25" width="1.08" height="1.08" fill="#323232"/><rect x="26" width="1.08" height="1.08" fill="#454545"/><rect x="27" width="1.08" height="1.08" fill="#545454"/><rect x="28" width="1.08" height="1.08" fill="#5f5f5f"/><rect x="29" width="1.08" height="1.08" fill="#666666"/><rect x="30" width="1.08" height="1.08" fill="#6a6a6a"/><rect x="31" width="1.08" height="1.08" fill="#6c6c6c"/></g>
<g transform="translate(0 8)"><rect x="-2" width="1.08" height="1.08" fill="#8d8d8d"/><rect x="-1" width="1.08" height="1.08" fill="#979797"/><rect x="0" width="1.08" height="1.08" fill="#a4a4a4"/><rect x="1" width="1.08" height="1.08" fill="#b3b3b3"/><rect x="2" width="1.08" height="1.08" fill="#c3c3c3"/><rect x="3" width="1.08" height="1.08" fill="#d3d3d3"/><rect x="4" width="1.08" height="1.08" fill="#e3e3e3"/><rect x="5" width="1.08" height="1.08" fill="#f1f1f1"/><rect x="6" width="1.08" height="1.08" fill="#fcfcfc"/><rect x="7" width="1.08" height="1.08" fill="#ffffff"/><rect x="8" width="1.08" height="1.08" fill="#ffffff"/><rect x="9" width="1.08" height="1.08" fill="#ffffff"/><rect x="10" width="1.08" height="1.08" fill="#ffffff"/><rect x="11" width="1.08" height="1.08" fill="#f8f8f8"/><rect x="12" width="1.08" height="1.08" fill="#ebebeb"/><rect x="13" width="1.08" height="1.08" fill="#dcdcdc"/><rect x="14" width="1.08" height="1.08" fill="#cacaca"/><rect x="15" width="1.08" height="1.08" fill="#b8b8b8"/><rect x="16" width="1.08" height="1.08" fill="#a4a4a4"/><rect x="17" width="1.08" height="1.08" fill="#8f8f8f"/><rect x="18" width="1.08" height="1.08" fill="#787878"/><rect x="19" width="1.08" height="1.08" fill="#616161"/><rect x="20" width="1.08" height="1.08" fill="#494949"/><rect x="21" width="1.08" height="1.08" fill="#333333"/><rect x="22" width="1.08" height="1.08" fill="#232323"/><rect x="23" width="1.08" height="1.08" fill="#202020"/><rect x="24" width="1.08" height="1.08" fill="#2b2b2b"/><rect x="25" width="1.08" height="1.08" fill="#3c3c3c"/><rect x="26" width="1.08" height="1.08" fill="#4d4d4d"/><rect x="27" width="1.08" height="1.08" fill="#5a5a5a"/><rect x="28" width="1.08" height="1.08" fill="#636363"/><rect x="29" width="1.08" height="1.08" fill="#696969"/><rect x="30" width="1.08" height="1.08" fill="#6c6c6c"/><rect x="31" width="1.08" height="1.08" fill="#6e6e6e"/></g>
<g transform="translate(0 9)"><rect x="-2" width="1.08" height="1.08" fill="#8d8d8d"/><rect x="-1" width="1.08" height="1.08" fill="#989898"/><rect x="0" width="1.08" height="1.08" fill="#a5a5a5"/><rect x="1" width="1.08" height="1.08" fill="#b4b4b4"/><rect x="2" width="1.08" height="1.08" fill="#c3c3c3"/><rect x="3" width="1.08" height="1.08" fill="#d3d3d3"/><rect x="4" width="1.08" height="1.08" fill="#e2e2e2"/><rect x="5" width="1.08" height="1.08" fill="#f0f0f0"/><rect x="6" width="1.08" height="1.08" fill="#fbfbfb"/><rect x="7" width="1.08" height="1.08" fill="#ffffff"/><rect x="8" width="1.08" height="1.08" fill="#ffffff"/><rect x="9" width="1.08" height="1.08" fill="#ffffff"/><rect x="10" width="1.08" height="1.08" fill="#ffffff"/><rect x="11" width="1.08" height="1.08" fill="#f6f6f6"/><rect x="12" width="1.08" height="1.08" fill="#eaeaea"/><rect x="13" width="1.08" height="1.08" fill="#dcdcdc"/><rect x="14" width="1.08" height="1.08" fill="#cccccc"/><rect x="15" width="1.08" height="1.08" fill="#bababa"/><rect x="16" width="1.08" height="1.08" fill="#a8a8a8"/><rect x="17" width="1.08" height="1.08" fill="#959595"/><rect x="18" width="1.08" height="1.08" fill="#828282"/><rect x="19" width="1.08" height="1.08" fill="#6e6e6e"/><rect x="20" width="1.08" height="1.08" fill="#5a5a5a"/><rect x="21" width="1.08" height="1.08" fill="#494949"/><rect x="22" width="1.08" height="1.08" fill="#3d3d3d"/><rect x="23" width="1.08" height="1.08" fill="#3b3b3b"/><rect x="24" width="1.08" height="1.08" fill="#414141"/><rect x="25" width="1.08" height="1.08" fill="#4d4d4d"/><rect x="26" width="1.08" height="1.08" fill="#585858"/><rect x="27" width="1.08" height="1.08" fill="#626262"/><rect x="28" width="1.08" height="1.08" fill="#696969"/><rect x="29" width="1.08" height="1.08" fill="#6d6d6d"/><rect x="30" width="1.08" height="1.08" fill="#6f6f6f"/><rect x="31" width="1.08" height="1.08" fill="#707070"/></g>
<g transform="translate(0 10)"><rect x="-2" width="1.08" height="1.08" fill="#8d8d8d"/><rect x="-1" width="1.08" height="1.08" fill="#989898"/><rect x="0" width="1.08" height="1.08" fill="#a4a4a4"/><rect x="1" width="1.08" height="1.08" fill="#b2b2b2"/><rect x="2" width="1.08" height="1.08" fill="#c1c1c1"/><rect x="3" width="1.08" height="1.08" fill="#d0d0d0"/><rect x="4" width="1.08" height="1.08" fill="#dfdfdf"/><rect x="5" width="1.08" height="1.08" fill="#ebebeb"/><rect x="6" width="1.08" height="1.08" fill="#f5f5f5"/><rect x="7" width="1.08" height="1.08" fill="#fcfcfc"/><rect x="8" width="1.08" height="1.08" fill="#ffffff"/><rect x="9" width="1.08" height="1.08" fill="#fefefe"/><rect x="10" width="1.08" height="1.08" fill="#f9f9f9"/><rect x="11" width="1.08" height="1.08" fill="#f1f1f1"/><rect x="12" width="1.08" height="1.08" fill="#e7e7e7"/><rect x="13" width="1.08" height="1.08" fill="#dadada"/><rect x="14" width="1.08" height="1.08" fill="#cccccc"/><rect x="15" width="1.08" height="1.08" fill="#bdbdbd"/><rect x="16" width="1.08" height="1.08" fill="#aeaeae"/><rect x="17" width="1.08" height="1.08" fill="#9d9d9d"/><rect x="18" width="1.08" height="1.08" fill="#8d8d8d"/><rect x="19" width="1.08" height="1.08" fill="#7d7d7d"/><rect x="20" width="1.08" height="1.08" fill="#6e6e6e"/><rect x="21" width="1.08" height="1.08" fill="#616161"/><rect x="22" width="1.08" height="1.08" fill="#585858"/><rect x="23" width="1.08" height="1.08" fill="#565656"/><rect x="24" width="1.08" height="1.08" fill="#595959"/><rect x="25" width="1.08" height="1.08" fill="#5f5f5f"/><rect x="26" width="1.08" height="1.08" fill="#666666"/><rect x="27" width="1.08" height="1.08" fill="#6c6c6c"/><rect x="28" width="1.08" height="1.08" fill="#707070"/><rect x="29" width="1.08" height="1.08" fill="#727272"/><rect x="30" width="1.08" height="1.08" fill="#727272"/><rect x="31" width="1.08" height="1.08" fill="#727272"/></g>
<g transform="translate(0 11)"><rect x="-2" width="1.08" height="1.08" fill="#8c8c8c"/><rect x="-1" width="1.08" height="1.08" fill="#969696"/><rect x="0" width="1.08" height="1.08" fill="#a2a2a2"/><rect x="1" width="1.08" height="1.08" fill="#afafaf"/><rect x="2" width="1.08" height="1.08" fill="#bdbdbd"/><rect x="3" width="1.08" height="1.08" fill="#cbcbcb"/><rect x="4" width="1.08" height="1.08" fill="#d8d8d8"/><rect x="5" width="1.08" height="1.08" fill="#e3e3e3"/><rect x="6" width="1.08" height="1.08" fill="#ececec"/><rect x="7" width="1.08" height="1.08" fill="#f2f2f2"/><rect x="8" width="1.08" height="1.08" fill="#f5f5f5"/><rect x="9" width="1.08" height="1.08" fill="#f4f4f4"/><rect x="10" width="1.08" height="1.08" fill="#f1f1f1"/><rect x="11" width="1.08" height="1.08" fill="#eaeaea"/><rect x="12" width="1.08" height="1.08" fill="#e2e2e2"/><rect x="13" width="1.08" height="1.08" fill="#d8d8d8"/><rect x="14" width="1.08" height="1.08" fill="#cdcdcd"/><rect x="15" width="1.08" height="1.08" fill="#c0c0c0"/><rect x="16" width="1.08" height="1.08" fill="#b4b4b4"/><rect x="17" width="1.08" height="1.08" fill="#a7a7a7"/><rect x="18" width="1.08" height="1.08" fill="#9a9a9a"/><rect x="19" width="1.08" height="1.08" fill="#8d8d8d"/><rect x="20" width="1.08" height="1.08" fill="#828282"/><rect x="21" width="1.08" height="1.08" fill="#787878"/><rect x="22" width="1.08" height="1.08" fill="#727272"/><rect x="23" width="1.08" height="1.08" fill="#6f6f6f"/><rect x="24" width="1.08" height="1.08" fill="#6f6f6f"/><rect x="25" width="1.08" height="1.08" fill="#717171"/><rect x="26" width="1.08" height="1.08" fill="#747474"/><rect x="27" width="1.08" height="1.08" fill="#767676"/><rect x="28" width="1.08" height="1.08" fill="#777777"/><rect x="29" width="1.08" height="1.08" fill="#777777"/><rect x="30" width="1.08" height="1.08" fill="#767676"/><rect x="31" width="1.08" height="1.08" fill="#757575"/></g>
<g transform="translate(0 12)"><rect x="-2" width="1.08" height="1.08" fill="#8a8a8a"/><rect x="-1" width="1.08" height="1.08" fill="#939393"/><rect x="0" width="1.08" height="1.08" fill="#9e9e9e"/><rect x="1" width="1.08" height="1.08" fill="#aaaaaa"/><rect x="2" width="1.08" height="1.08" fill="#b6b6b6"/><rect x="3" width="1.08" height="1.08" fill="#c2c2c2"/><rect x="4" width="1.08" height="1.08" fill="#cecece"/><rect x="5" width="1.08" height="1.08" fill="#d8d8d8"/><rect x="6" width="1.08" height="1.08" fill="#e0e0e0"/><rect x="7" width="1.08" height="1.08" fill="#e5e5e5"/><rect x="8" width="1.08" height="1.08" fill="#e8e8e8"/><rect x="9" width="1.08" height="1.08" fill="#e8e8e8"/><rect x="10" width="1.08" height="1.08" fill="#e6e6e6"/><rect x="11" width="1.08" height="1.08" fill="#e2e2e2"/><rect x="12" width="1.08" height="1.08" fill="#dcdcdc"/><rect x="13" width="1.08" height="1.08" fill="#d5d5d5"/><rect x="14" width="1.08" height="1.08" fill="#cdcdcd"/><rect x="15" width="1.08" height="1.08" fill="#c4c4c4"/><rect x="16" width="1.08" height="1.08" fill="#bababa"/><rect x="17" width="1.08" height="1.08" fill="#b1b1b1"/><rect x="18" width="1.08" height="1.08" fill="#a7a7a7"/><rect x="19" width="1.08" height="1.08" fill="#9e9e9e"/><rect x="20" width="1.08" height="1.08" fill="#959595"/><rect x="21" width="1.08" height="1.08" fill="#8e8e8e"/><rect x="22" width="1.08" height="1.08" fill="#898989"/><rect x="23" width="1.08" height="1.08" fill="#868686"/><rect x="24" width="1.08" height="1.08" fill="#848484"/><rect x="25" width="1.08" height="1.08" fill="#838383"/><rect x="26" width="1.08" height="1.08" fill="#828282"/><rect x="27" width="1.08" height="1.08" fill="#818181"/><rect x="28" width="1.08" height="1.08" fill="#808080"/><rect x="29" width="1.08" height="1.08" fill="#7d7d7d"/><rect x="30" width="1.08" height="1.08" fill="#7b7b7b"/><rect x="31" width="1.08" height="1.08" fill="#787878"/></g>
<g transform="translate(0 13)"><rect x="-2" width="1.08" height="1.08" fill="#878787"/><rect x="-1" width="1.08" height="1.08" fill="#8f8f8f"/><rect x="0" width="1.08" height="1.08" fill="#999999"/><rect x="1" width="1.08" height="1.08" fill="#a3a3a3"/><rect x="2" width="1.08" height="1.08" fill="#adadad"/><rect x="3" width="1.08" height="1.08" fill="#b8b8b8"/><rect x="4" width="1.08" height="1.08" fill="#c1c1c1"/><rect x="5" width="1.08" height="1.08" fill="#cacaca"/><rect x="6" width="1.08" height="1.08" fill="#d0d0d0"/><rect x="7" width="1.08" height="1.08" fill="#d5d5d5"/><rect x="8" width="1.08" height="1.08" fill="#d8d8d8"/><rect x="9" width="1.08" height="1.08" fill="#d9d9d9"/><rect x="10" width="1.08" height="1.08" fill="#d9d9d9"/><rect x="11" width="1.08" height="1.08" fill="#d7d7d7"/><rect x="12" width="1.08" height="1.08" fill="#d5d5d5"/><rect x="13" width="1.08" height="1.08" fill="#d1d1d1"/><rect x="14" width="1.08" height="1.08" fill="#cdcdcd"/><rect x="15" width="1.08" height="1.08" fill="#c7c7c7"/><rect x="16" width="1.08" height="1.08" fill="#c1c1c1"/><rect x="17" width="1.08" height="1.08" fill="#bbbbbb"/><rect x="18" width="1.08" height="1.08" fill="#b5b5b5"/><rect x="19" width="1.08" height="1.08" fill="#aeaeae"/><rect x="20" width="1.08" height="1.08" fill="#a9a9a9"/><rect x="21" width="1.08" height="1.08" fill="#a3a3a3"/><rect x="22" width="1.08" height="1.08" fill="#9f9f9f"/><rect x="23" width="1.08" height="1.08" fill="#9b9b9b"/><rect x="24" width="1.08" height="1.08" fill="#979797"/><rect x="25" width="1.08" height="1.08" fill="#949494"/><rect x="26" width="1.08" height="1.08" fill="#909090"/><rect x="27" width="1.08" height="1.08" fill="#8c8c8c"/><rect x="28" width="1.08" height="1.08" fill="#888888"/><rect x="29" width="1.08" height="1.08" fill="#838383"/><rect x="30" width="1.08" height="1.08" fill="#7f7f7f"/><rect x="31" width="1.08" height="1.08" fill="#7b7b7b"/></g>
<g transform="translate(0 14)"><rect x="-2" width="1.08" height="1.08" fill="#848484"/><rect x="-1" width="1.08" height="1.08" fill="#8b8b8b"/><rect x="0" width="1.08" height="1.08" fill="#939393"/><rect x="1" width="1.08" height="1.08" fill="#9b9b9b"/><rect x="2" width="1.08" height="1.08" fill="#a3a3a3"/><rect x="3" width="1.08" height="1.08" fill="#acacac"/><rect x="4" width="1.08" height="1.08" fill="#b3b3b3"/><rect x="5" width="1.08" height="1.08" fill="#bababa"/><rect x="6" width="1.08" height="1.08" fill="#bfbfbf"/><rect x="7" width="1.08" height="1.08" fill="#c4c4c4"/><rect x="8" width="1.08" height="1.08" fill="#c7c7c7"/><rect x="9" width="1.08" height="1.08" fill="#c9c9c9"/><rect x="10" width="1.08" height="1.08" fill="#cbcbcb"/><rect x="11" width="1.08" height="1.08" fill="#cccccc"/><rect x="12" width="1.08" height="1.08" fill="#cdcdcd"/><rect x="13" width="1.08" height="1.08" fill="#cdcdcd"/><rect x="14" width="1.08" height="1.08" fill="#cccccc"/><rect x="15" width="1.08" height="1.08" fill="#cbcbcb"/><rect x="16" width="1.08" height="1.08" fill="#c8c8c8"/><rect x="17" width="1.08" height="1.08" fill="#c5c5c5"/><rect x="18" width="1.08" height="1.08" fill="#c2c2c2"/><rect x="19" width="1.08" height="1.08" fill="#bfbfbf"/><rect x="20" width="1.08" height="1.08" fill="#bbbbbb"/><rect x="21" width="1.08" height="1.08" fill="#b7b7b7"/><rect x="22" width="1.08" height="1.08" fill="#b3b3b3"/><rect x="23" width="1.08" height="1.08" fill="#aeaeae"/><rect x="24" width="1.08" height="1.08" fill="#a9a9a9"/><rect x="25" width="1.08" height="1.08" fill="#a3a3a3"/><rect x="26" width="1.08" height="1.08" fill="#9d9d9d"/><rect x="27" width="1.08" height="1.08" fill="#979797"/><rect x="28" width="1.08" height="1.08" fill="#909090"/><rect x="29" width="1.08" height="1.08" fill="#898989"/><rect x="30" width="1.08" height="1.08" fill="#838383"/><rect x="31" width="1.08" height="1.08" fill="#7e7e7e"/></g>
<g transform="translate(0 15)"><rect x="-2" width="1.08" height="1.08" fill="#808080"/><rect x="-1" width="1.08" height="1.08" fill="#868686"/><rect x="0" width="1.08" height="1.08" fill="#8c8c8c"/><rect x="1" width="1.08" height="1.08" fill="#929292"/><rect x="2" width="1.08" height="1.08" fill="#999999"/><rect x="3" width="1.08" height="1.08" fill="#9f9f9f"/><rect x="4" width="1.08" height="1.08" fill="#a4a4a4"/><rect x="5" width="1.08" height="1.08" fill="#a9a9a9"/><rect x="6" width="1.08" height="1.08" fill="#adadad"/><rect x="7" width="1.08" height="1.08" fill="#b1b1b1"/><rect x="8" width="1.08" height="1.08" fill="#b5b5b5"/><rect x="9" width="1.08" height="1.08" fill="#b9b9b9"/><rect x="10" width="1.08" height="1.08" fill="#bdbdbd"/><rect x="11" width="1.08" height="1.08" fill="#c1c1c1"/><rect x="12" width="1.08" height="1.08" fill="#c5c5c5"/><rect x="13" width="1.08" height="1.08" fill="#c8c8c8"/><rect x="14" width="1.08" height="1.08" fill="#cbcbcb"/><rect x="15" width="1.08" height="1.08" fill="#cecece"/><rect x="16" width="1.08" height="1.08" fill="#cfcfcf"/><rect x="17" width="1.08" height="1.08" fill="#d0d0d0"/><rect x="18" width="1.08" height="1.08" fill="#cfcfcf"/><rect x="19" width="1.08" height="1.08" fill="#cecece"/><rect x="20" width="1.08" height="1.08" fill="#cdcdcd"/><rect x="21" width="1.08" height="1.08" fill="#cacaca"/><rect x="22" width="1.08" height="1.08" fill="#c6c6c6"/><rect x="23" width="1.08" height="1.08" fill="#c0c0c0"/><rect x="24" width="1.08" height="1.08" fill="#bababa"/><rect x="25" width="1.08" height="1.08" fill="#b2b2b2"/><rect x="26" width="1.08" height="1.08" fill="#a9a9a9"/><rect x="27" width="1.08" height="1.08" fill="#a0a0a0"/><rect x="28" width="1.08" height="1.08" fill="#979797"/><rect x="29" width="1.08" height="1.08" fill="#8f8f8f"/><rect x="30" width="1.08" height="1.08" fill="#888888"/><rect x="31" width="1.08" height="1.08" fill="#818181"/></g>
<g transform="translate(0 16)"><rect x="-2" width="1.08" height="1.08" fill="#7d7d7d"/><rect x="-1" width="1.08" height="1.08" fill="#818181"/><rect x="0" width="1.08" height="1.08" fill="#858585"/><rect x="1" width="1.08" height="1.08" fill="#898989"/><rect x="2" width="1.08" height="1.08" fill="#8d8d8d"/><rect x="3" width="1.08" height="1.08" fill="#919191"/><rect x="4" width="1.08" height="1.08" fill="#949494"/><rect x="5" width="1.08" height="1.08" fill="#969696"/><rect x="6" width="1.08" height="1.08" fill="#999999"/><rect x="7" width="1.08" height="1.08" fill="#9d9d9d"/><rect x="8" width="1.08" height="1.08" fill="#a2a2a2"/><rect x="9" width="1.08" height="1.08" fill="#a7a7a7"/><rect x="10" width="1.08" height="1.08" fill="#aeaeae"/><rect x="11" width="1.08" height="1.08" fill="#b5b5b5"/><rect x="12" width="1.08" height="1.08" fill="#bcbcbc"/><rect x="13" width="1.08" height="1.08" fill="#c3c3c3"/><rect x="14" width="1.08" height="1.08" fill="#cacaca"/><rect x="15" width="1.08" height="1.08" fill="#d0d0d0"/><rect x="16" width="1.08" height="1.08" fill="#d5d5d5"/><rect x="17" width="1.08" height="1.08" fill="#d9d9d9"/><rect x="18" width="1.08" height="1.08" fill="#dcdcdc"/><rect x="19" width="1.08" height="1.08" fill="#dddddd"/><rect x="20" width="1.08" height="1.08" fill="#dddddd"/><rect x="21" width="1.08" height="1.08" fill="#dbdbdb"/><rect x="22" width="1.08" height="1.08" fill="#d7d7d7"/><rect x="23" width="1.08" height="1.08" fill="#d1d1d1"/><rect x="24" width="1.08" height="1.08" fill="#c8c8c8"/><rect x="25" width="1.08" height="1.08" fill="#bfbfbf"/><rect x="26" width="1.08" height="1.08" fill="#b4b4b4"/><rect x="27" width="1.08" height="1.08" fill="#a9a9a9"/><rect x="28" width="1.08" height="1.08" fill="#9e9e9e"/><rect x="29" width="1.08" height="1.08" fill="#949494"/><rect x="30" width="1.08" height="1.08" fill="#8b8b8b"/><rect x="31" width="1.08" height="1.08" fill="#848484"/></g>
<g transform="translate(0 17)"><rect x="-2" width="1.08" height="1.08" fill="#797979"/><rect x="-1" width="1.08" height="1.08" fill="#7c7c7c"/><rect x="0" width="1.08" height="1.08" fill="#7e7e7e"/><rect x="1" width="1.08" height="1.08" fill="#808080"/><rect x="2" width="1.08" height="1.08" fill="#828282"/><rect x="3" width="1.08" height="1.08" fill="#828282"/><rect x="4" width="1.08" height="1.08" fill="#828282"/><rect x="5" width="1.08" height="1.08" fill="#838383"/><rect x="6" width="1.08" height="1.08" fill="#858585"/><rect x="7" width="1.08" height="1.08" fill="#888888"/><rect x="8" width="1.08" height="1.08" fill="#8e8e8e"/><rect x="9" width="1.08" height="1.08" fill="#959595"/><rect x="10" width="1.08" height="1.08" fill="#9f9f9f"/><rect x="11" width="1.08" height="1.08" fill="#a9a9a9"/><rect x="12" width="1.08" height="1.08" fill="#b3b3b3"/><rect x="13" width="1.08" height="1.08" fill="#bebebe"/><rect x="14" width="1.08" height="1.08" fill="#c9c9c9"/><rect x="15" width="1.08" height="1.08" fill="#d2d2d2"/><rect x="16" width="1.08" height="1.08" fill="#dbdbdb"/><rect x="17" width="1.08" height="1.08" fill="#e2e2e2"/><rect x="18" width="1.08" height="1.08" fill="#e7e7e7"/><rect x="19" width="1.08" height="1.08" fill="#ebebeb"/><rect x="20" width="1.08" height="1.08" fill="#ececec"/><rect x="21" width="1.08" height="1.08" fill="#eaeaea"/><rect x="22" width="1.08" height="1.08" fill="#e6e6e6"/><rect x="23" width="1.08" height="1.08" fill="#dfdfdf"/><rect x="24" width="1.08" height="1.08" fill="#d5d5d5"/><rect x="25" width="1.08" height="1.08" fill="#cacaca"/><rect x="26" width="1.08" height="1.08" fill="#bdbdbd"/><rect x="27" width="1.08" height="1.08" fill="#b0b0b0"/><rect x="28" width="1.08" height="1.08" fill="#a4a4a4"/><rect x="29" width="1.08" height="1.08" fill="#989898"/><rect x="30" width="1.08" height="1.08" fill="#8e8e8e"/><rect x="31" width="1.08" height="1.08" fill="#868686"/></g>
<g transform="translate(0 18)"><rect x="-2" width="1.08" height="1.08" fill="#767676"/><rect x="-1" width="1.08" height="1.08" fill="#777777"/><rect x="0" width="1.08" height="1.08" fill="#787878"/><rect x="1" width="1.08" height="1.08" fill="#777777"/><rect x="2" width="1.08" height="1.08" fill="#767676"/><rect x="3" width="1.08" height="1.08" fill="#737373"/><rect x="4" width="1.08" height="1.08" fill="#707070"/><rect x="5" width="1.08" height="1.08" fill="#6e6e6e"/><rect x="6" width="1.08" height="1.08" fill="#6e6e6e"/><rect x="7" width="1.08" height="1.08" fill="#717171"/><rect x="8" width="1.08" height="1.08" fill="#797979"/><rect x="9" width="1.08" height="1.08" fill="#838383"/><rect x="10" width="1.08" height="1.08" fill="#909090"/><rect x="11" width="1.08" height="1.08" fill="#9d9d9d"/><rect x="12" width="1.08" height="1.08" fill="#ababab"/><rect x="13" width="1.08" height="1.08" fill="#b9b9b9"/><rect x="14" width="1.08" height="1.08" fill="#c7c7c7"/><rect x="15" width="1.08" height="1.08" fill="#d4d4d4"/><rect x="16" width="1.08" height="1.08" fill="#dfdfdf"/><rect x="17" width="1.08" height="1.08" fill="#e9e9e9"/><rect x="18" width="1.08" height="1.08" fill="#f1f1f1"/><rect x="19" width="1.08" height="1.08" fill="#f6f6f6"/><rect x="20" width="1.08" height="1.08" fill="#f8f8f8"/><rect x="21" width="1.08" height="1.08" fill="#f7f7f7"/><rect x="22" width="1.08" height="1.08" fill="#f2f2f2"/><rect x="23" width="1.08" height="1.08" fill="#eaeaea"/><rect x="24" width="1.08" height="1.08" fill="#dfdfdf"/><rect x="25" width="1.08" height="1.08" fill="#d2d2d2"/><rect x="26" width="1.08" height="1.08" fill="#c4c4c4"/><rect x="27" width="1.08" height="1.08" fill="#b6b6b6"/><rect x="28" width="1.08" height="1.08" fill="#a8a8a8"/><rect x="29" width="1.08" height="1.08" fill="#9b9b9b"/><rect x="30" width="1.08" height="1.08" fill="#909090"/><rect x="31" width="1.08" height="1.08" fill="#878787"/></g>
<g transform="translate(0 19)"><rect x="-2" width="1.08" height="1.08" fill="#727272"/><rect x="-1" width="1.08" height="1.08" fill="#727272"/><rect x="0" width="1.08" height="1.08" fill="#727272"/><rect x="1" width="1.08" height="1.08" fill="#6f6f6f"/><rect x="2" width="1.08" height="1.08" fill="#6b6b6b"/><rect x="3" width="1.08" height="1.08" fill="#656565"/><rect x="4" width="1.08" height="1.08" fill="#5d5d5d"/><rect x="5" width="1.08" height="1.08" fill="#575757"/><rect x="6" width="1.08" height="1.08" fill="#555555"/><rect x="7" width="1.08" height="1.08" fill="#595959"/><rect x="8" width="1.08" height="1.08" fill="#626262"/><rect x="9" width="1.08" height="1.08" fill="#707070"/><rect x="10" width="1.08" height="1.08" fill="#818181"/><rect x="11" width="1.08" height="1.08" fill="#929292"/><rect x="12" width="1.08" height="1.08" fill="#a3a3a3"/><rect x="13" width="1.08" height="1.08" fill="#b4b4b4"/><rect x="14" width="1.08" height="1.08" fill="#c5c5c5"/><rect x="15" width="1.08" height="1.08" fill="#d4d4d4"/><rect x="16" width="1.08" height="1.08" fill="#e3e3e3"/><rect x="17" width="1.08" height="1.08" fill="#efefef"/><rect x="18" width="1.08" height="1.08" fill="#f8f8f8"/><rect x="19" width="1.08" height="1.08" fill="#ffffff"/><rect x="20" width="1.08" height="1.08" fill="#ffffff"/><rect x="21" width="1.08" height="1.08" fill="#ffffff"/><rect x="22" width="1.08" height="1.08" fill="#fbfbfb"/><rect x="23" width="1.08" height="1.08" fill="#f2f2f2"/><rect x="24" width="1.08" height="1.08" fill="#e6e6e6"/><rect x="25" width="1.08" height="1.08" fill="#d7d7d7"/><rect x="26" width="1.08" height="1.08" fill="#c8c8c8"/><rect x="27" width="1.08" height="1.08" fill="#b9b9b9"/><rect x="28" width="1.08" height="1.08" fill="#aaaaaa"/><rect x="29" width="1.08" height="1.08" fill="#9d9d9d"/><rect x="30" width="1.08" height="1.08" fill="#919191"/><rect x="31" width="1.08" height="1.08" fill="#888888"/></g>
<g transform="translate(0 20)"><rect x="-2" width="1.08" height="1.08" fill="#707070"/><rect x="-1" width="1.08" height="1.08" fill="#6f6f6f"/><rect x="0" width="1.08" height="1.08" fill="#6c6c6c"/><rect x="1" width="1.08" height="1.08" fill="#686868"/><rect x="2" width="1.08" height="1.08" fill="#606060"/><rect x="3" width="1.08" height="1.08" fill="#565656"/><rect x="4" width="1.08" height="1.08" fill="#4b4b4b"/><rect x="5" width="1.08" height="1.08" fill="#404040"/><rect x="6" width="1.08" height="1.08" fill="#3b3b3b"/><rect x="7" width="1.08" height="1.08" fill="#3f3f3f"/><rect x="8" width="1.08" height="1.08" fill="#4c4c4c"/><rect x="9" width="1.08" height="1.08" fill="#5e5e5e"/><rect x="10" width="1.08" height="1.08" fill="#727272"/><rect x="11" width="1.08" height="1.08" fill="#878787"/><rect x="12" width="1.08" height="1.08" fill="#9c9c9c"/><rect x="13" width="1.08" height="1.08" fill="#b0b0b0"/><rect x="14" width="1.08" height="1.08" fill="#c3c3c3"/><rect x="15" width="1.08" height="1.08" fill="#d4d4d4"/><rect x="16" width="1.08" height="1.08" fill="#e4e4e4"/><rect x="17" width="1.08" height="1.08" fill="#f2f2f2"/><rect x="18" width="1.08" height="1.08" fill="#fdfdfd"/><rect x="19" width="1.08" height="1.08" fill="#ffffff"/><rect x="20" width="1.08" height="1.08" fill="#ffffff"/><rect x="21" width="1.08" height="1.08" fill="#ffffff"/><rect x="22" width="1.08" height="1.08" fill="#ffffff"/><rect x="23" width="1.08" height="1.08" fill="#f5f5f5"/><rect x="24" width="1.08" height="1.08" fill="#e9e9e9"/><rect x="25" width="1.08" height="1.08" fill="#dadada"/><rect x="26" width="1.08" height="1.08" fill="#cacaca"/><rect x="27" width="1.08" height="1.08" fill="#bababa"/><rect x="28" width="1.08" height="1.08" fill="#ababab"/><rect x="29" width="1.08" height="1.08" fill="#9d9d9d"/><rect x="30" width="1.08" height="1.08" fill="#919191"/><rect x="31" width="1.08" height="1.08" fill="#888888"/></g>
<g transform="translate(0 21)"><rect x="-2" width="1.08" height="1.08" fill="#6e6e6e"/><rect x="-1" width="1.08" height="1.08" fill="#6c6c6c"/><rect x="0" width="1.08" height="1.08" fill="#686868"/><rect x="1" width="1.08" height="1.08" fill="#626262"/><rect x="2" width="1.08" height="1.08" fill="#585858"/><rect x="3" width="1.08" height="1.08" fill="#4a4a4a"/><rect x="4" width="1.08" height="1.08" fill="#3a3a3a"/><rect x="5" width="1.08" height="1.08" fill="#292929"/><rect x="6" width="1.08" height="1.08" fill="#202020"/><rect x="7" width="1.08" height="1.08" fill="#242424"/><rect x="8" width="1.08" height="1.08" fill="#363636"/><rect x="9" width="1.08" height="1.08" fill="#4e4e4e"/><rect x="10" width="1.08" height="1.08" fill="#676767"/><rect x="11" width="1.08" height="1.08" fill="#7f7f7f"/><rect x="12" width="1.08" height="1.08" fill="#969696"/><rect x="13" width="1.08" height="1.08" fill="#acacac"/><rect x="14" width="1.08" height="1.08" fill="#c0c0c0"/><rect x="15" width="1.08" height="1.08" fill="#d3d3d3"/><rect x="16" width="1.08" height="1.08" fill="#e4e4e4"/><rect x="17" width="1.08" height="1.08" fill="#f2f2f2"/><rect x="18" width="1.08" height="1.08" fill="#fefefe"/><rect x="19" width="1.08" height="1.08" fill="#ffffff"/><rect x="20" width="1.08" height="1.08" fill="#ffffff"/><rect x="21" width="1.08" height="1.08" fill="#ffffff"/><rect x="22" width="1.08" height="1.08" fill="#ffffff"/><rect x="23" width="1.08" height="1.08" fill="#f5f5f5"/><rect x="24" width="1.08" height="1.08" fill="#e8e8e8"/><rect x="25" width="1.08" height="1.08" fill="#d8d8d8"/><rect x="26" width="1.08" height="1.08" fill="#c8c8c8"/><rect x="27" width="1.08" height="1.08" fill="#b8b8b8"/><rect x="28" width="1.08" height="1.08" fill="#a9a9a9"/><rect x="29" width="1.08" height="1.08" fill="#9c9c9c"/><rect x="30" width="1.08" height="1.08" fill="#909090"/><rect x="31" width="1.08" height="1.08" fill="#878787"/></g>
<g transform="translate(0 22)"><rect x="-2" width="1.08" height="1.08" fill="#6c6c6c"/><rect x="-1" width="1.08" height="1.08" fill="#6a6a6a"/><rect x="0" width="1.08" height="1.08" fill="#656565"/><rect x="1" width="1.08" height="1.08" fill="#5e5e5e"/><rect x="2" width="1.08" height="1.08" fill="#525252"/><rect x="3" width="1.08" height="1.08" fill="#424242"/><rect x="4" width="1.08" height="1.08" fill="#2e2e2e"/><rect x="5" width="1.08" height="1.08" fill="#191919"/><rect x="6" width="1.08" height="1.08" fill="#090909"/><rect x="7" width="1.08" height="1.08" fill="#101010"/><rect x="8" width="1.08" height="1.08" fill="#272727"/><rect x="9" width="1.08" height="1.08" fill="#434343"/><rect x="10" width="1.08" height="1.08" fill="#5f5f5f"/><rect x="11" width="1.08" height="1.08" fill="#797979"/><rect x="12" width="1.08" height="1.08" fill="#929292"/><rect x="13" width="1.08" height="1.08" fill="#a8a8a8"/><rect x="14" width="1.08" height="1.08" fill="#bdbdbd"/><rect x="15" width="1.08" height="1.08" fill="#d1d1d1"/><rect x="16" width="1.08" height="1.08" fill="#e2e2e2"/><rect x="17" width="1.08" height="1.08" fill="#f0f0f0"/><rect x="18" width="1.08" height="1.08" fill="#fbfbfb"/><rect x="19" width="1.08" height="1.08" fill="#ffffff"/><rect x="20" width="1.08" height="1.08" fill="#ffffff"/><rect x="21" width="1.08" height="1.08" fill="#ffffff"/><rect x="22" width="1.08" height="1.08" fill="#fbfbfb"/><rect x="23" width="1.08" height="1.08" fill="#f0f0f0"/><rect x="24" width="1.08" height="1.08" fill="#e3e3e3"/><rect x="25" width="1.08" height="1.08" fill="#d4d4d4"/><rect x="26" width="1.08" height="1.08" fill="#c4c4c4"/><rect x="27" width="1.08" height="1.08" fill="#b5b5b5"/><rect x="28" width="1.08" height="1.08" fill="#a6a6a6"/><rect x="29" width="1.08" height="1.08" fill="#999999"/><rect x="30" width="1.08" height="1.08" fill="#8e8e8e"/><rect x="31" width="1.08" height="1.08" fill="#858585"/></g>
<g transform="translate(0 23)"><rect x="-2" width="1.08" height="1.08" fill="#6b6b6b"/><rect x="-1" width="1.08" height="1.08" fill="#696969"/><rect x="0" width="1.08" height="1.08" fill="#646464"/><rect x="1" width="1.08" height="1.08" fill="#5c5c5c"/><rect x="2" width="1.08" height="1.08" fill="#515151"/><rect x="3" width="1.08" height="1.08" fill="#414141"/><rect x="4" width="1.08" height="1.08" fill="#2c2c2c"/><rect x="5" width="1.08" height="1.08" fill="#161616"/><rect x="6" width="1.08" height="1.08" fill="#050505"/><rect x="7" width="1.08" height="1.08" fill="#0d0d0d"/><rect x="8" width="1.08" height="1.08" fill="#252525"/><rect x="9" width="1.08" height="1.08" fill="#414141"/><rect x="10" width="1.08" height="1.08" fill="#5c5c5c"/><rect x="11" width="1.08" height="1.08" fill="#767676"/><rect x="12" width="1.08" height="1.08" fill="#8f8f8f"/><rect x="13" width="1.08" height="1.08" fill="#a5a5a5"/><rect x="14" width="1.08" height="1.08" fill="#bababa"/><rect x="15" width="1.08" height="1.08" fill="#cccccc"/><rect x="16" width="1.08" height="1.08" fill="#dddddd"/><rect x="17" width="1.08" height="1.08" fill="#eaeaea"/><rect x="18" width="1.08" height="1.08" fill="#f4f4f4"/><rect x="19" width="1.08" height="1.08" fill="#fafafa"/><rect x="20" width="1.08" height="1.08" fill="#fcfcfc"/><rect x="21" width="1.08" height="1.08" fill="#f9f9f9"/><rect x="22" width="1.08" height="1.08" fill="#f3f3f3"/><rect x="23" width="1.08" height="1.08" fill="#e8e8e8"/><rect x="24" width="1.08" height="1.08" fill="#dbdbdb"/><rect x="25" width="1.08" height="1.08" fill="#cdcdcd"/><rect x="26" width="1.08" height="1.08" fill="#bebebe"/><rect x="27" width="1.08" height="1.08" fill="#afafaf"/><rect x="28" width="1.08" height="1.08" fill="#a1a1a1"/><rect x="29" width="1.08" height="1.08" fill="#959595"/><rect x="30" width="1.08" height="1.08" fill="#8b8b8b"/><rect x="31" width="1.08" height="1.08" fill="#838383"/></g>
<g transform="translate(0 24)"><rect x="-2" width="1.08" height="1.08" fill="#6b6b6b"/><rect x="-1" width="1.08" height="1.08" fill="#686868"/><rect x="0" width="1.08" height="1.08" fill="#646464"/><rect x="1" width="1.08" height="1.08" fill="#5d5d5d"/><rect x="2" width="1.08" height="1.08" fill="#525252"/><rect x="3" width="1.08" height="1.08" fill="#444444"/><rect x="4" width="1.08" height="1.08" fill="#343434"/><rect x="5" width="1.08" height="1.08" fill="#232323"/><rect x="6" width="1.08" height="1.08" fill="#191919"/><rect x="7" width="1.08" height="1.08" fill="#1e1e1e"/><rect x="8" width="1.08" height="1.08" fill="#2f2f2f"/><rect x="9" width="1.08" height="1.08" fill="#474747"/><rect x="10" width="1.08" height="1.08" fill="#5f5f5f"/><rect x="11" width="1.08" height="1.08" fill="#777777"/><rect x="12" width="1.08" height="1.08" fill="#8d8d8d"/><rect x="13" width="1.08" height="1.08" fill="#a2a2a2"/><rect x="14" width="1.08" height="1.08" fill="#b5b5b5"/><rect x="15" width="1.08" height="1.08" fill="#c6c6c6"/><rect x="16" width="1.08" height="1.08" fill="#d5d5d5"/><rect x="17" width="1.08" height="1.08" fill="#e1e1e1"/><rect x="18" width="1.08" height="1.08" fill="#eaeaea"/><rect x="19" width="1.08" height="1.08" fill="#f0f0f0"/><rect x="20" width="1.08" height="1.08" fill="#f1f1f1"/><rect x="21" width="1.08" height="1.08" fill="#eeeeee"/><rect x="22" width="1.08" height="1.08" fill="#e7e7e7"/><rect x="23" width="1.08" height="1.08" fill="#dddddd"/><rect x="24" width="1.08" height="1.08" fill="#d1d1d1"/><rect x="25" width="1.08" height="1.08" fill="#c3c3c3"/><rect x="26" width="1.08" height="1.08" fill="#b6b6b6"/><rect x="27" width="1.08" height="1.08" fill="#a8a8a8"/><rect x="28" width="1.08" height="1.08" fill="#9c9c9c"/><rect x="29" width="1.08" height="1.08" fill="#919191"/><rect x="30" width="1.08" height="1.08" fill="#888888"/><rect x="31" width="1.08" height="1.08" fill="#808080"/></g>
<g transform="translate(0 25)"><rect x="-2" width="1.08" height="1.08" fill="#6b6b6b"/><rect x="-1" width="1.08" height="1.08" fill="#696969"/><rect x="0" width="1.08" height="1.08" fill="#656565"/><rect x="1" width="1.08" height="1.08" fill="#5f5f5f"/><rect x="2" width="1.08" height="1.08" fill="#575757"/><rect x="3" width="1.08" height="1.08" fill="#4c4c4c"/><rect x="4" width="1.08" height="1.08" fill="#404040"/><rect x="5" width="1.08" height="1.08" fill="#353535"/><rect x="6" width="1.08" height="1.08" fill="#303030"/><rect x="7" width="1.08" height="1.08" fill="#333333"/><rect x="8" width="1.08" height="1.08" fill="#404040"/><rect x="9" width="1.08" height="1.08" fill="#515151"/><rect x="10" width="1.08" height="1.08" fill="#656565"/><rect x="11" width="1.08" height="1.08" fill="#797979"/><rect x="12" width="1.08" height="1.08" fill="#8c8c8c"/><rect x="13" width="1.08" height="1.08" fill="#9e9e9e"/><rect x="14" width="1.08" height="1.08" fill="#afafaf"/><rect x="15" width="1.08" height="1.08" fill="#bebebe"/><rect x="16" width="1.08" height="1.08" fill="#cccccc"/><rect x="17" width="1.08" height="1.08" fill="#d6d6d6"/><rect x="18" width="1.08" height="1.08" fill="#dedede"/><rect x="19" width="1.08" height="1.08" fill="#e2e2e2"/><rect x="20" width="1.08" height="1.08" fill="#e3e3e3"/><rect x="21" width="1.08" height="1.08" fill="#dfdfdf"/><rect x="22" width="1.08" height="1.08" fill="#d9d9d9"/><rect x="23" width="1.08" height="1.08" fill="#d0d0d0"/><rect x="24" width="1.08" height="1.08" fill="#c5c5c5"/><rect x="25" width="1.08" height="1.08" fill="#b9b9b9"/><rect x="26" width="1.08" height="1.08" fill="#acacac"/><rect x="27" width="1.08" height="1.08" fill="#a0a0a0"/><rect x="28" width="1.08" height="1.08" fill="#959595"/><rect x="29" width="1.08" height="1.08" fill="#8c8c8c"/><rect x="30" width="1.08" height="1.08" fill="#848484"/><rect x="31" width="1.08" height="1.08" fill="#7e7e7e"/></g>
<g transform="translate(0 26)"><rect x="-2" width="1.08" height="1.08" fill="#6b6b6b"/><rect x="-1" width="1.08" height="1.08" fill="#696969"/><rect x="0" width="1.08" height="1.08" fill="#676767"/><rect x="1" width="1.08" height="1.08" fill="#626262"/><rect x="2" width="1.08" height="1.08" fill="#5c5c5c"/><rect x="3" width="1.08" height="1.08" fill="#555555"/><rect x="4" width="1.08" height="1.08" fill="#4d4d4d"/><rect x="5" width="1.08" height="1.08" fill="#464646"/><rect x="6" width="1.08" height="1.08" fill="#444444"/><rect x="7" width="1.08" height="1.08" fill="#474747"/><rect x="8" width="1.08" height="1.08" fill="#505050"/><rect x="9" width="1.08" height="1.08" fill="#5d5d5d"/><rect x="10" width="1.08" height="1.08" fill="#6c6c6c"/><rect x="11" width="1.08" height="1.08" fill="#7c7c7c"/><rect x="12" width="1.08" height="1.08" fill="#8b8b8b"/><rect x="13" width="1.08" height="1.08" fill="#9a9a9a"/><rect x="14" width="1.08" height="1.08" fill="#a8a8a8"/><rect x="15" width="1.08" height="1.08" fill="#b5b5b5"/><rect x="16" width="1.08" height="1.08" fill="#c0c0c0"/><rect x="17" width="1.08" height="1.08" fill="#c9c9c9"/><rect x="18" width="1.08" height="1.08" fill="#d0d0d0"/><rect x="19" width="1.08" height="1.08" fill="#d3d3d3"/><rect x="20" width="1.08" height="1.08" fill="#d3d3d3"/><rect x="21" width="1.08" height="1.08" fill="#d0d0d0"/><rect x="22" width="1.08" height="1.08" fill="#cacaca"/><rect x="23" width="1.08" height="1.08" fill="#c2c2c2"/><rect x="24" width="1.08" height="1.08" fill="#b8b8b8"/><rect x="25" width="1.08" height="1.08" fill="#adadad"/><rect x="26" width="1.08" height="1.08" fill="#a2a2a2"/><rect x="27" width="1.08" height="1.08" fill="#989898"/><rect x="28" width="1.08" height="1.08" fill="#8f8f8f"/><rect x="29" width="1.08" height="1.08" fill="#878787"/><rect x="30" width="1.08" height="1.08" fill="#808080"/><rect x="31" width="1.08" height="1.08" fill="#7b7b7b"/></g>
<g transform="translate(0 27)"><rect x="-2" width="1.08" height="1.08" fill="#6c6c6c"/><rect x="-1" width="1.08" height="1.08" fill="#6a6a6a"/><rect x="0" width="1.08" height="1.08" fill="#686868"/><rect x="1" width="1.08" height="1.08" fill="#656565"/><rect x="2" width="1.08" height="1.08" fill="#616161"/><rect x="3" width="1.08" height="1.08" fill="#5c5c5c"/><rect x="4" width="1.08" height="1.08" fill="#585858"/><rect x="5" width="1.08" height="1.08" fill="#545454"/><rect x="6" width="1.08" height="1.08" fill="#535353"/><rect x="7" width="1.08" height="1.08" fill="#565656"/><rect x="8" width="1.08" height="1.08" fill="#5d5d5d"/><rect x="9" width="1.08" height="1.08" fill="#666666"/><rect x="10" width="1.08" height="1.08" fill="#717171"/><rect x="11" width="1.08" height="1.08" fill="#7d7d7d"/><rect x="12" width="1.08" height="1.08" fill="#898989"/><rect x="13" width="1.08" height="1.08" fill="#969696"/><rect x="14" width="1.08" height="1.08" fill="#a1a1a1"/><rect x="15" width="1.08" height="1.08" fill="#acacac"/><rect x="16" width="1.08" height="1.08" fill="#b5b5b5"/><rect x="17" width="1.08" height="1.08" fill="#bcbcbc"/><rect x="18" width="1.08" height="1.08" fill="#c1c1c1"/><rect x="19" width="1.08" height="1.08" fill="#c3c3c3"/><rect x="20" width="1.08" height="1.08" fill="#c3c3c3"/><rect x="21" width="1.08" height="1.08" fill="#c0c0c0"/><rect x="22" width="1.08" height="1.08" fill="#bababa"/><rect x="23" width="1.08" height="1.08" fill="#b3b3b3"/><rect x="24" width="1.08" height="1.08" fill="#ababab"/><rect x="25" width="1.08" height="1.08" fill="#a2a2a2"/><rect x="26" width="1.08" height="1.08" fill="#999999"/><rect x="27" width="1.08" height="1.08" fill="#909090"/><rect x="28" width="1.08" height="1.08" fill="#898989"/><rect x="29" width="1.08" height="1.08" fill="#828282"/><rect x="30" width="1.08" height="1.08" fill="#7d7d7d"/><rect x="31" width="1.08" height="1.08" fill="#787878"/></g>
<g transform="translate(0 28)"><rect x="-2" width="1.08" height="1.08" fill="#6c6c6c"/><rect x="-1" width="1.08" height="1.08" fill="#6b6b6b"/><rect x="0" width="1.08" height="1.08" fill="#6a6a6a"/><rect x="1" width="1.08" height="1.08" fill="#686868"/><rect x="2" width="1.08" height="1.08" fill="#656565"/><rect x="3" width="1.08" height="1.08" fill="#636363"/><rect x="4" width="1.08" height="1.08" fill="#606060"/><rect x="5" width="1.08" height="1.08" fill="#5e5e5e"/><rect x="6" width="1.08" height="1.08" fill="#5e5e5e"/><rect x="7" width="1.08" height="1.08" fill="#616161"/><rect x="8" width="1.08" height="1.08" fill="#666666"/><rect x="9" width="1.08" height="1.08" fill="#6c6c6c"/><rect x="10" width="1.08" height="1.08" fill="#747474"/><rect x="11" width="1.08" height="1.08" fill="#7d7d7d"/><rect x="12" width="1.08" height="1.08" fill="#878787"/><rect x="13" width="1.08" height="1.08" fill="#909090"/><rect x="14" width="1.08" height="1.08" fill="#999999"/><rect x="15" width="1.08" height="1.08" fill="#a1a1a1"/><rect x="16" width="1.08" height="1.08" fill="#a9a9a9"/><rect x="17" width="1.08" height="1.08" fill="#aeaeae"/><rect x="18" width="1.08" height="1.08" fill="#b2b2b2"/><rect x="19" width="1.08" height="1.08" fill="#b4b4b4"/><rect x="20" width="1.08" height="1.08" fill="#b3b3b3"/><rect x="21" width="1.08" height="1.08" fill="#b0b0b0"/><rect x="22" width="1.08" height="1.08" fill="#acacac"/><rect x="23" width="1.08" height="1.08" fill="#a6a6a6"/><rect x="24" width="1.08" height="1.08" fill="#9f9f9f"/><rect x="25" width="1.08" height="1.08" fill="#979797"/><rect x="26" width="1.08" height="1.08" fill="#909090"/><rect x="27" width="1.08" height="1.08" fill="#898989"/><rect x="28" width="1.08" height="1.08" fill="#838383"/><rect x="29" width="1.08" height="1.08" fill="#7e7e7e"/><rect x="30" width="1.08" height="1.08" fill="#797979"/><rect x="31" width="1.08" height="1.08" fill="#767676"/></g>
<g transform="translate(0 29)"><rect x="-2" width="1.08" height="1.08" fill="#6d6d6d"/><rect x="-1" width="1.08" height="1.08" fill="#6c6c6c"/><rect x="0" width="1.08" height="1.08" fill="#6b6b6b"/><rect x="1" width="1.08" height="1.08" fill="#6a6a6a"/><rect x="2" width="1.08" height="1.08" fill="#696969"/><rect x="3" width="1.08" height="1.08" fill="#676767"/><rect x="4" width="1.08" height="1.08" fill="#666666"/><rect x="5" width="1.08" height="1.08" fill="#656565"/><rect x="6" width="1.08" height="1.08" fill="#666666"/><rect x="7" width="1.08" height="1.08" fill="#686868"/><rect x="8" width="1.08" height="1.08" fill="#6b6b6b"/><rect x="9" width="1.08" height="1.08" fill="#707070"/><rect x="10" width="1.08" height="1.08" fill="#767676"/><rect x="11" width="1.08" height="1.08" fill="#7c7c7c"/><rect x="12" width="1.08" height="1.08" fill="#838383"/><rect x="13" width="1.08" height="1.08" fill="#8b8b8b"/><rect x="14" width="1.08" height="1.08" fill="#919191"/><rect x="15" width="1.08" height="1.08" fill="#989898"/><rect x="16" width="1.08" height="1.08" fill="#9d9d9d"/><rect x="17" width="1.08" height="1.08" fill="#a1a1a1"/><rect x="18" width="1.08" height="1.08" fill="#a4a4a4"/><rect x="19" width="1.08" height="1.08" fill="#a5a5a5"/><rect x="20" width="1.08" height="1.08" fill="#a4a4a4"/><rect x="21" width="1.08" height="1.08" fill="#a2a2a2"/><rect x="22" width="1.08" height="1.08" fill="#9e9e9e"/><rect x="23" width="1.08" height="1.08" fill="#999999"/><rect x="24" width="1.08" height="1.08" fill="#949494"/><rect x="25" width="1.08" height="1.08" fill="#8e8e8e"/><rect x="26" width="1.08" height="1.08" fill="#888888"/><rect x="27" width="1.08" height="1.08" fill="#838383"/><rect x="28" width="1.08" height="1.08" fill="#7e7e7e"/><rect x="29" width="1.08" height="1.08" fill="#7a7a7a"/><rect x="30" width="1.08" height="1.08" fill="#767676"/><rect x="31" width="1.08" height="1.08" fill="#747474"/></g>
<g transform="translate(0 30)"><rect x="-2" width="1.08" height="1.08" fill="#6d6d6d"/><rect x="-1" width="1.08" height="1.08" fill="#6d6d6d"/><rect x="0" width="1.08" height="1.08" fill="#6c6c6c"/><rect x="1" width="1.08" height="1.08" fill="#6b6b6b"/><rect x="2" width="1.08" height="1.08" fill="#6b6b6b"/><rect x="3" width="1.08" height="1.08" fill="#6a6a6a"/><rect x="4" width="1.08" height="1.08" fill="#696969"/><rect x="5" width="1.08" height="1.08" fill="#696969"/><rect x="6" width="1.08" height="1.08" fill="#6a6a6a"/><rect x="7" width="1.08" height="1.08" fill="#6c6c6c"/><rect x="8" width="1.08" height="1.08" fill="#6e6e6e"/><rect x="9" width="1.08" height="1.08" fill="#727272"/><rect x="10" width="1.08" height="1.08" fill="#767676"/><rect x="11" width="1.08" height="1.08" fill="#7b7b7b"/><rect x="12" width="1.08" height="1.08" fill="#808080"/><rect x="13" width="1.08" height="1.08" fill="#858585"/><rect x="14" width="1.08" height="1.08" fill="#8a8a8a"/><rect x="15" width="1.08" height="1.08" fill="#8f8f8f"/><rect x="16" width="1.08" height="1.08" fill="#939393"/><rect x="17" width="1.08" height="1.08" fill="#969696"/><rect x="18" width="1.08" height="1.08" fill="#989898"/><rect x="19" width="1.08" height="1.08" fill="#989898"/><rect x="20" width="1.08" height="1.08" fill="#989898"/><rect x="21" width="1.08" height="1.08" fill="#969696"/><rect x="22" width="1.08" height="1.08" fill="#939393"/><rect x="23" width="1.08" height="1.08" fill="#8f8f8f"/><rect x="24" width="1.08" height="1.08" fill="#8a8a8a"/><rect x="25" width="1.08" height="1.08" fill="#868686"/><rect x="26" width="1.08" height="1.08" fill="#818181"/><rect x="27" width="1.08" height="1.08" fill="#7d7d7d"/><rect x="28" width="1.08" height="1.08" fill="#7a7a7a"/><rect x="29" width="1.08" height="1.08" fill="#777777"/><rect x="30" width="1.08" height="1.08" fill="#747474"/><rect x="31" width="1.08" height="1.08" fill="#727272"/></g>
<g transform="translate(0 31)"><rect x="-2" width="1.08" height="1.08" fill="#6d6d6d"/><rect x="-1" width="1.08" height="1.08" fill="#6d6d6d"/><rect x="0" width="1.08" height="1.08" fill="#6d6d6d"/><rect x="1" width="1.08" height="1.08" fill="#6c6c6c"/><rect x="2" width="1.08" height="1.08" fill="#6c6c6c"/><rect x="3" width="1.08" height="1.08" fill="#6c6c6c"/><rect x="4" width="1.08" height="1.08" fill="#6c6c6c"/><rect x="5" width="1.08" height="1.08" fill="#6c6c6c"/><rect x="6" width="1.08" height="1.08" fill="#6c6c6c"/><rect x="7" width="1.08" height="1.08" fill="#6e6e6e"/><rect x="8" width="1.08" height="1.08" fill="#6f6f6f"/><rect x="9" width="1.08" height="1.08" fill="#727272"/><rect x="10" width="1.08" height="1.08" fill="#757575"/><rect x="11" width="1.08" height="1.08" fill="#787878"/><rect x="12" width="1.08" height="1.08" fill="#7c7c7c"/><rect x="13" width="1.08" height="1.08" fill="#808080"/><rect x="14" width="1.08" height="1.08" fill="#838383"/><rect x="15" width="1.08" height="1.08" fill="#878787"/><rect x="16" width="1.08" height="1.08" fill="#8a8a8a"/><rect x="17" width="1.08" height="1.08" fill="#8c8c8c"/><rect x="18" width="1.08" height="1.08" fill="#8d8d8d"/><rect x="19" width="1.08" height="1.08" fill="#8d8d8d"/><rect x="20" width="1.08" height="1.08" fill="#8d8d8d"/><rect x="21" width="1.08" height="1.08" fill="#8b8b8b"/><rect x="22" width="1.08" height="1.08" fill="#898989"/><rect x="23" width="1.08" height="1.08" fill="#868686"/><rect x="24" width="1.08" height="1.08" fill="#838383"/><rect x="25" width="1.08" height="1.08" fill="#7f7f7f"/><rect x="26" width="1.08" height="1.08" fill="#7c7c7c"/><rect x="27" width="1.08" height="1.08" fill="#797979"/><rect x="28" width="1.08" height="1.08" fill="#767676"/><rect x="29" width="1.08" height="1.08" fill="#747474"/><rect x="30" width="1.08" height="1.08" fill="#727272"/><rect x="31" width="1.08" height="1.08" fill="#717171"/></g>
</g></g></g>
<clipPath id="cp4"><rect x="352.7" y="345.3" width="146.30" height="145.50"/></clipPath>
<g clip-path="url(#cp4)"><g filter="url(#cm)"><g class="hm" transform="translate(352.7 345.3) scale(4.8767 4.8500)">
<g transform="translate(0 -2)"><rect x="-2" width="1.08" height="1.08" fill="#767676"/><rect x="-1" width="1.08" height="1.08" fill="#797979"/><rect x="0" width="1.08" height="1.08" fill="#7d7d7d"/><rect x="1" width="1.08" height="1.08" fill="#818181"/><rect x="2" width="1.08" height="1.08" fill="#868686"/><rect x="3" width="1.08" height="1.08" fill="#8a8a8a"/><rect x="4" width="1.08" height="1.08" fill="#8f8f8f"/><rect x="5" width="1.08" height="1.08" fill="#949494"/><rect x="6" width="1.08" height="1.08" fill="#989898"/><rect x="7" width="1.08" height="1.08" fill="#9b9b9b"/><rect x="8" width="1.08" height="1.08" fill="#9d9d9d"/><rect x="9" width="1.08" height="1.08" fill="#9e9e9e"/><rect x="10" width="1.08" height="1.08" fill="#9d9d9d"/><rect x="11" width="1.08" height="1.08" fill="#9b9b9b"/><rect x="12" width="1.08" height="1.08" fill="#989898"/><rect x="13" width="1.08" height="1.08" fill="#949494"/><rect x="14" width="1.08" height="1.08" fill="#8f8f8f"/><rect x="15" width="1.08" height="1.08" fill="#898989"/><rect x="16" width="1.08" height="1.08" fill="#838383"/><rect x="17" width="1.08" height="1.08" fill="#7d7d7d"/><rect x="18" width="1.08" height="1.08" fill="#777777"/><rect x="19" width="1.08" height="1.08" fill="#717171"/><rect x="20" width="1.08" height="1.08" fill="#6c6c6c"/><rect x="21" width="1.08" height="1.08" fill="#676767"/><rect x="22" width="1.08" height="1.08" fill="#636363"/><rect x="23" width="1.08" height="1.08" fill="#616161"/><rect x="24" width="1.08" height="1.08" fill="#5f5f5f"/><rect x="25" width="1.08" height="1.08" fill="#5f5f5f"/><rect x="26" width="1.08" height="1.08" fill="#606060"/><rect x="27" width="1.08" height="1.08" fill="#626262"/><rect x="28" width="1.08" height="1.08" fill="#646464"/><rect x="29" width="1.08" height="1.08" fill="#666666"/><rect x="30" width="1.08" height="1.08" fill="#686868"/><rect x="31" width="1.08" height="1.08" fill="#6a6a6a"/></g>
<g transform="translate(0 -1)"><rect x="-2" width="1.08" height="1.08" fill="#797979"/><rect x="-1" width="1.08" height="1.08" fill="#7d7d7d"/><rect x="0" width="1.08" height="1.08" fill="#828282"/><rect x="1" width="1.08" height="1.08" fill="#878787"/><rect x="2" width="1.08" height="1.08" fill="#8d8d8d"/><rect x="3" width="1.08" height="1.08" fill="#939393"/><rect x="4" width="1.08" height="1.08" fill="#999999"/><rect x="5" width="1.08" height="1.08" fill="#9e9e9e"/><rect x="6" width="1.08" height="1.08" fill="#a3a3a3"/><rect x="7" width="1.08" height="1.08" fill="#a7a7a7"/><rect x="8" width="1.08" height="1.08" fill="#a9a9a9"/><rect x="9" width="1.08" height="1.08" fill="#aaaaaa"/><rect x="10" width="1.08" height="1.08" fill="#a9a9a9"/><rect x="11" width="1.08" height="1.08" fill="#a6a6a6"/><rect x="12" width="1.08" height="1.08" fill="#a2a2a2"/><rect x="13" width="1.08" height="1.08" fill="#9d9d9d"/><rect x="14" width="1.08" height="1.08" fill="#969696"/><rect x="15" width="1.08" height="1.08" fill="#8f8f8f"/><rect x="16" width="1.08" height="1.08" fill="#878787"/><rect x="17" width="1.08" height="1.08" fill="#7f7f7f"/><rect x="18" width="1.08" height="1.08" fill="#777777"/><rect x="19" width="1.08" height="1.08" fill="#707070"/><rect x="20" width="1.08" height="1.08" fill="#686868"/><rect x="21" width="1.08" height="1.08" fill="#626262"/><rect x="22" width="1.08" height="1.08" fill="#5d5d5d"/><rect x="23" width="1.08" height="1.08" fill="#595959"/><rect x="24" width="1.08" height="1.08" fill="#585858"/><rect x="25" width="1.08" height="1.08" fill="#585858"/><rect x="26" width="1.08" height="1.08" fill="#5a5a5a"/><rect x="27" width="1.08" height="1.08" fill="#5d5d5d"/><rect x="28" width="1.08" height="1.08" fill="#606060"/><rect x="29" width="1.08" height="1.08" fill="#636363"/><rect x="30" width="1.08" height="1.08" fill="#666666"/><rect x="31" width="1.08" height="1.08" fill="#686868"/></g>
<g transform="translate(0 0)"><rect x="-2" width="1.08" height="1.08" fill="#7d7d7d"/><rect x="-1" width="1.08" height="1.08" fill="#828282"/><rect x="0" width="1.08" height="1.08" fill="#878787"/><rect x="1" width="1.08" height="1.08" fill="#8e8e8e"/><rect x="2" width="1.08" height="1.08" fill="#959595"/><rect x="3" width="1.08" height="1.08" fill="#9d9d9d"/><rect x="4" width="1.08" height="1.08" fill="#a4a4a4"/><rect x="5" width="1.08" height="1.08" fill="#ababab"/><rect x="6" width="1.08" height="1.08" fill="#b0b0b0"/><rect x="7" width="1.08" height="1.08" fill="#b5b5b5"/><rect x="8" width="1.08" height="1.08" fill="#b7b7b7"/><rect x="9" width="1.08" height="1.08" fill="#b8b8b8"/><rect x="10" width="1.08" height="1.08" fill="#b6b6b6"/><rect x="11" width="1.08" height="1.08" fill="#b3b3b3"/><rect x="12" width="1.08" height="1.08" fill="#adadad"/><rect x="13" width="1.08" height="1.08" fill="#a6a6a6"/><rect x="14" width="1.08" height="1.08" fill="#9e9e9e"/><rect x="15" width="1.08" height="1.08" fill="#959595"/><rect x="16" width="1.08" height="1.08" fill="#8b8b8b"/><rect x="17" width="1.08" height="1.08" fill="#818181"/><rect x="18" width="1.08" height="1.08" fill="#777777"/><rect x="19" width="1.08" height="1.08" fill="#6d6d6d"/><rect x="20" width="1.08" height="1.08" fill="#636363"/><rect x="21" width="1.08" height="1.08" fill="#5b5b5b"/><rect x="22" width="1.08" height="1.08" fill="#545454"/><rect x="23" width="1.08" height="1.08" fill="#4f4f4f"/><rect x="24" width="1.08" height="1.08" fill="#4d4d4d"/><rect x="25" width="1.08" height="1.08" fill="#4e4e4e"/><rect x="26" width="1.08" height="1.08" fill="#515151"/><rect x="27" width="1.08" height="1.08" fill="#565656"/><rect x="28" width="1.08" height="1.08" fill="#5b5b5b"/><rect x="29" width="1.08" height="1.08" fill="#5f5f5f"/><rect x="30" width="1.08" height="1.08" fill="#636363"/><rect x="31" width="1.08" height="1.08" fill="#676767"/></g>
<g transform="translate(0 1)"><rect x="-2" width="1.08" height="1.08" fill="#818181"/><rect x="-1" width="1.08" height="1.08" fill="#878787"/><rect x="0" width="1.08" height="1.08" fill="#8e8e8e"/><rect x="1" width="1.08" height="1.08" fill="#969696"/><rect x="2" width="1.08" height="1.08" fill="#9e9e9e"/><rect x="3" width="1.08" height="1.08" fill="#a7a7a7"/><rect x="4" width="1.08" height="1.08" fill="#b0b0b0"/><rect x="5" width="1.08" height="1.08" fill="#b8b8b8"/><rect x="6" width="1.08" height="1.08" fill="#bfbfbf"/><rect x="7" width="1.08" height="1.08" fill="#c3c3c3"/><rect x="8" width="1.08" height="1.08" fill="#c6c6c6"/><rect x="9" width="1.08" height="1.08" fill="#c6c6c6"/><rect x="10" width="1.08" height="1.08" fill="#c4c4c4"/><rect x="11" width="1.08" height="1.08" fill="#bfbfbf"/><rect x="12" width="1.08" height="1.08" fill="#b9b9b9"/><rect x="13" width="1.08" height="1.08" fill="#b0b0b0"/><rect x="14" width="1.08" height="1.08" fill="#a6a6a6"/><rect x="15" width="1.08" height="1.08" fill="#9b9b9b"/><rect x="16" width="1.08" height="1.08" fill="#8f8f8f"/><rect x="17" width="1.08" height="1.08" fill="#828282"/><rect x="18" width="1.08" height="1.08" fill="#767676"/><rect x="19" width="1.08" height="1.08" fill="#696969"/><rect x="20" width="1.08" height="1.08" fill="#5d5d5d"/><rect x="21" width="1.08" height="1.08" fill="#515151"/><rect x="22" width="1.08" height="1.08" fill="#484848"/><rect x="23" width="1.08" height="1.08" fill="#424242"/><rect x="24" width="1.08" height="1.08" fill="#3f3f3f"/><rect x="25" width="1.08" height="1.08" fill="#414141"/><rect x="26" width="1.08" height="1.08" fill="#464646"/><rect x="27" width="1.08" height="1.08" fill="#4d4d4d"/><rect x="28" width="1.08" height="1.08" fill="#555555"/><rect x="29" width="1.08" height="1.08" fill="#5b5b5b"/><rect x="30" width="1.08" height="1.08" fill="#616161"/><rect x="31" width="1.08" height="1.08" fill="#656565"/></g>
<g transform="translate(0 2)"><rect x="-2" width="1.08" height="1.08" fill="#858585"/><rect x="-1" width="1.08" height="1.08" fill="#8c8c8c"/><rect x="0" width="1.08" height="1.08" fill="#959595"/><rect x="1" width="1.08" height="1.08" fill="#9e9e9e"/><rect x="2" width="1.08" height="1.08" fill="#a8a8a8"/><rect x="3" width="1.08" height="1.08" fill="#b3b3b3"/><rect x="4" width="1.08" height="1.08" fill="#bdbdbd"/><rect x="5" width="1.08" height="1.08" fill="#c6c6c6"/><rect x="6" width="1.08" height="1.08" fill="#cdcdcd"/><rect x="7" width="1.08" height="1.08" fill="#d2d2d2"/><rect x="8" width="1.08" height="1.08" fill="#d5d5d5"/><rect x="9" width="1.08" height="1.08" fill="#d5d5d5"/><rect x="10" width="1.08" height="1.08" fill="#d2d2d2"/><rect x="11" width="1.08" height="1.08" fill="#cccccc"/><rect x="12" width="1.08" height="1.08" fill="#c4c4c4"/><rect x="13" width="1.08" height="1.08" fill="#b9b9b9"/><rect x="14" width="1.08" height="1.08" fill="#adadad"/><rect x="15" width="1.08" height="1.08" fill="#a0a0a0"/><rect x="16" width="1.08" height="1.08" fill="#929292"/><rect x="17" width="1.08" height="1.08" fill="#838383"/><rect x="18" width="1.08" height="1.08" fill="#747474"/><rect x="19" width="1.08" height="1.08" fill="#656565"/><rect x="20" width="1.08" height="1.08" fill="#555555"/><rect x="21" width="1.08" height="1.08" fill="#474747"/><rect x="22" width="1.08" height="1.08" fill="#3a3a3a"/><rect x="23" width="1.08" height="1.08" fill="#313131"/><rect x="24" width="1.08" height="1.08" fill="#2f2f2f"/><rect x="25" width="1.08" height="1.08" fill="#323232"/><rect x="26" width="1.08" height="1.08" fill="#3a3a3a"/><rect x="27" width="1.08" height="1.08" fill="#444444"/><rect x="28" width="1.08" height="1.08" fill="#4e4e4e"/><rect x="29" width="1.08" height="1.08" fill="#575757"/><rect x="30" width="1.08" height="1.08" fill="#5e5e5e"/><rect x="31" width="1.08" height="1.08" fill="#636363"/></g>
<g transform="translate(0 3)"><rect x="-2" width="1.08" height="1.08" fill="#898989"/><rect x="-1" width="1.08" height="1.08" fill="#929292"/><rect x="0" width="1.08" height="1.08" fill="#9c9c9c"/><rect x="1" width="1.08" height="1.08" fill="#a6a6a6"/><rect x="2" width="1.08" height="1.08" fill="#b2b2b2"/><rect x="3" width="1.08" height="1.08" fill="#bebebe"/><rect x="4" width="1.08" height="1.08" fill="#c9c9c9"/><rect x="5" width="1.08" height="1.08" fill="#d3d3d3"/><rect x="6" width="1.08" height="1.08" fill="#dbdbdb"/><rect x="7" width="1.08" height="1.08" fill="#e1e1e1"/><rect x="8" width="1.08" height="1.08" fill="#e3e3e3"/><rect x="9" width="1.08" height="1.08" fill="#e2e2e2"/><rect x="10" width="1.08" height="1.08" fill="#dedede"/><rect x="11" width="1.08" height="1.08" fill="#d7d7d7"/><rect x="12" width="1.08" height="1.08" fill="#cecece"/><rect x="13" width="1.08" height="1.08" fill="#c2c2c2"/><rect x="14" width="1.08" height="1.08" fill="#b4b4b4"/><rect x="15" width="1.08" height="1.08" fill="#a5a5a5"/><rect x="16" width="1.08" height="1.08" fill="#959595"/><rect x="17" width="1.08" height="1.08" fill="#848484"/><rect x="18" width="1.08" height="1.08" fill="#737373"/><rect x="19" width="1.08" height="1.08" fill="#616161"/><rect x="20" width="1.08" height="1.08" fill="#4e4e4e"/><rect x="21" width="1.08" height="1.08" fill="#3c3c3c"/><rect x="22" width="1.08" height="1.08" fill="#2b2b2b"/><rect x="23" width="1.08" height="1.08" fill="#202020"/><rect x="24" width="1.08" height="1.08" fill="#1c1c1c"/><rect x="25" width="1.08" height="1.08" fill="#222222"/><rect x="26" width="1.08" height="1.08" fill="#2e2e2e"/><rect x="27" width="1.08" height="1.08" fill="#3c3c3c"/><rect x="28" width="1.08" height="1.08" fill="#484848"/><rect x="29" width="1.08" height="1.08" fill="#535353"/><rect x="30" width="1.08" height="1.08" fill="#5b5b5b"/><rect x="31" width="1.08" height="1.08" fill="#626262"/></g>
<g transform="translate(0 4)"><rect x="-2" width="1.08" height="1.08" fill="#8e8e8e"/><rect x="-1" width="1.08" height="1.08" fill="#979797"/><rect x="0" width="1.08" height="1.08" fill="#a2a2a2"/><rect x="1" width="1.08" height="1.08" fill="#afafaf"/><rect x="2" width="1.08" height="1.08" fill="#bbbbbb"/><rect x="3" width="1.08" height="1.08" fill="#c8c8c8"/><rect x="4" width="1.08" height="1.08" fill="#d5d5d5"/><rect x="5" width="1.08" height="1.08" fill="#dfdfdf"/><rect x="6" width="1.08" height="1.08" fill="#e8e8e8"/><rect x="7" width="1.08" height="1.08" fill="#eeeeee"/><rect x="8" width="1.08" height="1.08" fill="#f0f0f0"/><rect x="9" width="1.08" height="1.08" fill="#eeeeee"/><rect x="10" width="1.08" height="1.08" fill="#eaeaea"/><rect x="11" width="1.08" height="1.08" fill="#e1e1e1"/><rect x="12" width="1.08" height="1.08" fill="#d6d6d6"/><rect x="13" width="1.08" height="1.08" fill="#c9c9c9"/><rect x="14" width="1.08" height="1.08" fill="#bababa"/><rect x="15" width="1.08" height="1.08" fill="#a9a9a9"/><rect x="16" width="1.08" height="1.08" fill="#989898"/><rect x="17" width="1.08" height="1.08" fill="#858585"/><rect x="18" width="1.08" height="1.08" fill="#727272"/><rect x="19" width="1.08" height="1.08" fill="#5e5e5e"/><rect x="20" width="1.08" height="1.08" fill="#494949"/><rect x="21" width="1.08" height="1.08" fill="#343434"/><rect x="22" width="1.08" height="1.08" fill="#202020"/><rect x="23" width="1.08" height="1.08" fill="#0f0f0f"/><rect x="24" width="1.08" height="1.08" fill="#0a0a0a"/><rect x="25" width="1.08" height="1.08" fill="#141414"/><rect x="26" width="1.08" height="1.08" fill="#252525"/><rect x="27" width="1.08" height="1.08" fill="#353535"/><rect x="28" width="1.08" height="1.08" fill="#454545"/><rect x="29" width="1.08" height="1.08" fill="#515151"/><rect x="30" width="1.08" height="1.08" fill="#5a5a5a"/><rect x="31" width="1.08" height="1.08" fill="#616161"/></g>
<g transform="translate(0 5)"><rect x="-2" width="1.08" height="1.08" fill="#929292"/><rect x="-1" width="1.08" height="1.08" fill="#9c9c9c"/><rect x="0" width="1.08" height="1.08" fill="#a9a9a9"/><rect x="1" width="1.08" height="1.08" fill="#b6b6b6"/><rect x="2" width="1.08" height="1.08" fill="#c4c4c4"/><rect x="3" width="1.08" height="1.08" fill="#d2d2d2"/><rect x="4" width="1.08" height="1.08" fill="#dfdfdf"/><rect x="5" width="1.08" height="1.08" fill="#eaeaea"/><rect x="6" width="1.08" height="1.08" fill="#f3f3f3"/><rect x="7" width="1.08" height="1.08" fill="#f8f8f8"/><rect x="8" width="1.08" height="1.08" fill="#fafafa"/><rect x="9" width="1.08" height="1.08" fill="#f8f8f8"/><rect x="10" width="1.08" height="1.08" fill="#f2f2f2"/><rect x="11" width="1.08" height="1.08" fill="#e9e9e9"/><rect x="12" width="1.08" height="1.08" fill="#dddddd"/><rect x="13" width="1.08" height="1.08" fill="#cfcfcf"/><rect x="14" width="1.08" height="1.08" fill="#bebebe"/><rect x="15" width="1.08" height="1.08" fill="#adadad"/><rect x="16" width="1.08" height="1.08" fill="#9a9a9a"/><rect x="17" width="1.08" height="1.08" fill="#878787"/><rect x="18" width="1.08" height="1.08" fill="#737373"/><rect x="19" width="1.08" height="1.08" fill="#5f5f5f"/><rect x="20" width="1.08" height="1.08" fill="#494949"/><rect x="21" width="1.08" height="1.08" fill="#323232"/><rect x="22" width="1.08" height="1.08" fill="#1c1c1c"/><rect x="23" width="1.08" height="1.08" fill="#090909"/><rect x="24" width="1.08" height="1.08" fill="#010101"/><rect x="25" width="1.08" height="1.08" fill="#0f0f0f"/><rect x="26" width="1.08" height="1.08" fill="#222222"/><rect x="27" width="1.08" height="1.08" fill="#343434"/><rect x="28" width="1.08" height="1.08" fill="#444444"/><rect x="29" width="1.08" height="1.08" fill="#515151"/><rect x="30" width="1.08" height="1.08" fill="#5a5a5a"/><rect x="31" width="1.08" height="1.08" fill="#616161"/></g>
<g transform="translate(0 6)"><rect x="-2" width="1.08" height="1.08" fill="#959595"/><rect x="-1" width="1.08" height="1.08" fill="#a1a1a1"/><rect x="0" width="1.08" height="1.08" fill="#aeaeae"/><rect x="1" width="1.08" height="1.08" fill="#bcbcbc"/><rect x="2" width="1.08" height="1.08" fill="#cacaca"/><rect x="3" width="1.08" height="1.08" fill="#d9d9d9"/><rect x="4" width="1.08" height="1.08" fill="#e6e6e6"/><rect x="5" width="1.08" height="1.08" fill="#f2f2f2"/><rect x="6" width="1.08" height="1.08" fill="#fafafa"/><rect x="7" width="1.08" height="1.08" fill="#ffffff"/><rect x="8" width="1.08" height="1.08" fill="#ffffff"/><rect x="9" width="1.08" height="1.08" fill="#ffffff"/><rect x="10" width="1.08" height="1.08" fill="#f8f8f8"/><rect x="11" width="1.08" height="1.08" fill="#eeeeee"/><rect x="12" width="1.08" height="1.08" fill="#e2e2e2"/><rect x="13" width="1.08" height="1.08" fill="#d3d3d3"/><rect x="14" width="1.08" height="1.08" fill="#c2c2c2"/><rect x="15" width="1.08" height="1.08" fill="#b0b0b0"/><rect x="16" width="1.08" height="1.08" fill="#9e9e9e"/><rect x="17" width="1.08" height="1.08" fill="#8b8b8b"/><rect x="18" width="1.08" height="1.08" fill="#777777"/><rect x="19" width="1.08" height="1.08" fill="#626262"/><rect x="20" width="1.08" height="1.08" fill="#4d4d4d"/><rect x="21" width="1.08" height="1.08" fill="#383838"/><rect x="22" width="1.08" height="1.08" fill="#232323"/><rect x="23" width="1.08" height="1.08" fill="#131313"/><rect x="24" width="1.08" height="1.08" fill="#0e0e0e"/><rect x="25" width="1.08" height="1.08" fill="#181818"/><rect x="26" width="1.08" height="1.08" fill="#272727"/><rect x="27" width="1.08" height="1.08" fill="#383838"/><rect x="28" width="1.08" height="1.08" fill="#474747"/><rect x="29" width="1.08" height="1.08" fill="#535353"/><rect x="30" width="1.08" height="1.08" fill="#5c5c5c"/><rect x="31" width="1.08" height="1.08" fill="#636363"/></g>
<g transform="translate(0 7)"><rect x="-2" width="1.08" height="1.08" fill="#989898"/><rect x="-1" width="1.08" height="1.08" fill="#a4a4a4"/><rect x="0" width="1.08" height="1.08" fill="#b1b1b1"/><rect x="1" width="1.08" height="1.08" fill="#c0c0c0"/><rect x="2" width="1.08" height="1.08" fill="#cfcfcf"/><rect x="3" width="1.08" height="1.08" fill="#dedede"/><rect x="4" width="1.08" height="1.08" fill="#ebebeb"/><rect x="5" width="1.08" height="1.08" fill="#f6f6f6"/><rect x="6" width="1.08" height="1.08" fill="#ffffff"/><rect x="7" width="1.08" height="1.08" fill="#ffffff"/><rect x="8" width="1.08" height="1.08" fill="#ffffff"/><rect x="9" width="1.08" height="1.08" fill="#ffffff"/><rect x="10" width="1.08" height="1.08" fill="#fbfbfb"/><rect x="11" width="1.08" height="1.08" fill="#f1f1f1"/><rect x="12" width="1.08" height="1.08" fill="#e4e4e4"/><rect x="13" width="1.08" height="1.08" fill="#d5d5d5"/><rect x="14" width="1.08" height="1.08" fill="#c5c5c5"/><rect x="15" width="1.08" height="1.08" fill="#b3b3b3"/><rect x="16" width="1.08" height="1.08" fill="#a1a1a1"/><rect x="17" width="1.08" height="1.08" fill="#8f8f8f"/><rect x="18" width="1.08" height="1.08" fill="#7c7c7c"/><rect x="19" width="1.08" height="1.08" fill="#696969"/><rect x="20" width="1.08" height="1.08" fill="#565656"/><rect x="21" width="1.08" height="1.08" fill="#434343"/><rect x="22" width="1.08" height="1.08" fill="#323232"/><rect x="23" width="1.08" height="1.08" fill="#262626"/><rect x="24" width="1.08" height="1.08" fill="#232323"/><rect x="25" width="1.08" height="1.08" fill="#282828"/><rect x="26" width="1.08" height="1.08" fill="#343434"/><rect x="27" width="1.08" height="1.08" fill="#414141"/><rect x="28" width="1.08" height="1.08" fill="#4e4e4e"/><rect x="29" width="1.08" height="1.08" fill="#585858"/><rect x="30" width="1.08" height="1.08" fill="#606060"/><rect x="31" width="1.08" height="1.08" fill="#656565"/></g>
<g transform="translate(0 8)"><rect x="-2" width="1.08" height="1.08" fill="#9a9a9a"/><rect x="-1" width="1.08" height="1.08" fill="#a6a6a6"/><rect x="0" width="1.08" height="1.08" fill="#b3b3b3"/><rect x="1" width="1.08" height="1.08" fill="#c2c2c2"/><rect x="2" width="1.08" height="1.08" fill="#d1d1d1"/><rect x="3" width="1.08" height="1.08" fill="#dfdfdf"/><rect x="4" width="1.08" height="1.08" fill="#ececec"/><rect x="5" width="1.08" height="1.08" fill="#f7f7f7"/><rect x="6" width="1.08" height="1.08" fill="#ffffff"/><rect x="7" width="1.08" height="1.08" fill="#ffffff"/><rect x="8" width="1.08" height="1.08" fill="#ffffff"/><rect x="9" width="1.08" height="1.08" fill="#ffffff"/><rect x="10" width="1.08" height="1.08" fill="#fafafa"/><rect x="11" width="1.08" height="1.08" fill="#f1f1f1"/><rect x="12" width="1.08" height="1.08" fill="#e5e5e5"/><rect x="13" width="1.08" height="1.08" fill="#d6d6d6"/><rect x="14" width="1.08" height="1.08" fill="#c7c7c7"/><rect x="15" width="1.08" height="1.08" fill="#b7b7b7"/><rect x="16" width="1.08" height="1.08" fill="#a6a6a6"/><rect x="17" width="1.08" height="1.08" fill="#959595"/><rect x="18" width="1.08" height="1.08" fill="#848484"/><rect x="19" width="1.08" height="1.08" fill="#737373"/><rect x="20" width="1.08" height="1.08" fill="#626262"/><rect x="21" width="1.08" height="1.08" fill="#535353"/><rect x="22" width="1.08" height="1.08" fill="#454545"/><rect x="23" width="1.08" height="1.08" fill="#3c3c3c"/><rect x="24" width="1.08" height="1.08" fill="#393939"/><rect x="25" width="1.08" height="1.08" fill="#3c3c3c"/><rect x="26" width="1.08" height="1.08" fill="#444444"/><rect x="27" width="1.08" height="1.08" fill="#4e4e4e"/><rect x="28" width="1.08" height="1.08" fill="#575757"/><rect x="29" width="1.08" height="1.08" fill="#5f5f5f"/><rect x="30" width="1.08" height="1.08" fill="#656565"/><rect x="31" width="1.08" height="1.08" fill="#696969"/></g>
<g transform="translate(0 9)"><rect x="-2" width="1.08" height="1.08" fill="#9a9a9a"/><rect x="-1" width="1.08" height="1.08" fill="#a6a6a6"/><rect x="0" width="1.08" height="1.08" fill="#b3b3b3"/><rect x="1" width="1.08" height="1.08" fill="#c2c2c2"/><rect x="2" width="1.08" height="1.08" fill="#d0d0d0"/><rect x="3" width="1.08" height="1.08" fill="#dedede"/><rect x="4" width="1.08" height="1.08" fill="#eaeaea"/><rect x="5" width="1.08" height="1.08" fill="#f4f4f4"/><rect x="6" width="1.08" height="1.08" fill="#fcfcfc"/><rect x="7" width="1.08" height="1.08" fill="#ffffff"/><rect x="8" width="1.08" height="1.08" fill="#ffffff"/><rect x="9" width="1.08" height="1.08" fill="#fdfdfd"/><rect x="10" width="1.08" height="1.08" fill="#f7f7f7"/><rect x="11" width="1.08" height="1.08" fill="#eeeeee"/><rect x="12" width="1.08" height="1.08" fill="#e3e3e3"/><rect x="13" width="1.08" height="1.08" fill="#d7d7d7"/><rect x="14" width="1.08" height="1.08" fill="#c9c9c9"/><rect x="15" width="1.08" height="1.08" fill="#bababa"/><rect x="16" width="1.08" height="1.08" fill="#ababab"/><rect x="17" width="1.08" height="1.08" fill="#9c9c9c"/><rect x="18" width="1.08" height="1.08" fill="#8d8d8d"/><rect x="19" width="1.08" height="1.08" fill="#7f7f7f"/><rect x="20" width="1.08" height="1.08" fill="#717171"/><rect x="21" width="1.08" height="1.08" fill="#646464"/><rect x="22" width="1.08" height="1.08" fill="#595959"/><rect x="23" width="1.08" height="1.08" fill="#525252"/><rect x="24" width="1.08" height="1.08" fill="#4f4f4f"/><rect x="25" width="1.08" height="1.08" fill="#515151"/><rect x="26" width="1.08" height="1.08" fill="#555555"/><rect x="27" width="1.08" height="1.08" fill="#5c5c5c"/><rect x="28" width="1.08" height="1.08" fill="#626262"/><rect x="29" width="1.08" height="1.08" fill="#676767"/><rect x="30" width="1.08" height="1.08" fill="#6a6a6a"/><rect x="31" width="1.08" height="1.08" fill="#6d6d6d"/></g>
<g transform="translate(0 10)"><rect x="-2" width="1.08" height="1.08" fill="#999999"/><rect x="-1" width="1.08" height="1.08" fill="#a5a5a5"/><rect x="0" width="1.08" height="1.08" fill="#b2b2b2"/><rect x="1" width="1.08" height="1.08" fill="#bfbfbf"/><rect x="2" width="1.08" height="1.08" fill="#cccccc"/><rect x="3" width="1.08" height="1.08" fill="#d9d9d9"/><rect x="4" width="1.08" height="1.08" fill="#e4e4e4"/><rect x="5" width="1.08" height="1.08" fill="#eeeeee"/><rect x="6" width="1.08" height="1.08" fill="#f4f4f4"/><rect x="7" width="1.08" height="1.08" fill="#f8f8f8"/><rect x="8" width="1.08" height="1.08" fill="#f8f8f8"/><rect x="9" width="1.08" height="1.08" fill="#f6f6f6"/><rect x="10" width="1.08" height="1.08" fill="#f1f1f1"/><rect x="11" width="1.08" height="1.08" fill="#eaeaea"/><rect x="12" width="1.08" height="1.08" fill="#e1e1e1"/><rect x="13" width="1.08" height="1.08" fill="#d6d6d6"/><rect x="14" width="1.08" height="1.08" fill="#cbcbcb"/><rect x="15" width="1.08" height="1.08" fill="#bebebe"/><rect x="16" width="1.08" height="1.08" fill="#b1b1b1"/><rect x="17" width="1.08" height="1.08" fill="#a4a4a4"/><rect x="18" width="1.08" height="1.08" fill="#989898"/><rect x="19" width="1.08" height="1.08" fill="#8c8c8c"/><rect x="20" width="1.08" height="1.08" fill="#808080"/><rect x="21" width="1.08" height="1.08" fill="#767676"/><rect x="22" width="1.08" height="1.08" fill="#6e6e6e"/><rect x="23" width="1.08" height="1.08" fill="#686868"/><rect x="24" width="1.08" height="1.08" fill="#656565"/><rect x="25" width="1.08" height="1.08" fill="#656565"/><rect x="26" width="1.08" height="1.08" fill="#676767"/><rect x="27" width="1.08" height="1.08" fill="#6a6a6a"/><rect x="28" width="1.08" height="1.08" fill="#6d6d6d"/><rect x="29" width="1.08" height="1.08" fill="#6f6f6f"/><rect x="30" width="1.08" height="1.08" fill="#717171"/><rect x="31" width="1.08" height="1.08" fill="#727272"/></g>
<g transform="translate(0 11)"><rect x="-2" width="1.08" height="1.08" fill="#979797"/><rect x="-1" width="1.08" height="1.08" fill="#a2a2a2"/><rect x="0" width="1.08" height="1.08" fill="#aeaeae"/><rect x="1" width="1.08" height="1.08" fill="#bababa"/><rect x="2" width="1.08" height="1.08" fill="#c6c6c6"/><rect x="3" width="1.08" height="1.08" fill="#d2d2d2"/><rect x="4" width="1.08" height="1.08" fill="#dcdcdc"/><rect x="5" width="1.08" height="1.08" fill="#e4e4e4"/><rect x="6" width="1.08" height="1.08" fill="#eaeaea"/><rect x="7" width="1.08" height="1.08" fill="#ededed"/><rect x="8" width="1.08" height="1.08" fill="#eeeeee"/><rect x="9" width="1.08" height="1.08" fill="#ededed"/><rect x="10" width="1.08" height="1.08" fill="#e9e9e9"/><rect x="11" width="1.08" height="1.08" fill="#e4e4e4"/><rect x="12" width="1.08" height="1.08" fill="#dddddd"/><rect x="13" width="1.08" height="1.08" fill="#d5d5d5"/><rect x="14" width="1.08" height="1.08" fill="#cccccc"/><rect x="15" width="1.08" height="1.08" fill="#c3c3c3"/><rect x="16" width="1.08" height="1.08" fill="#b8b8b8"/><rect x="17" width="1.08" height="1.08" fill="#aeaeae"/><rect x="18" width="1.08" height="1.08" fill="#a3a3a3"/><rect x="19" width="1.08" height="1.08" fill="#9a9a9a"/><rect x="20" width="1.08" height="1.08" fill="#909090"/><rect x="21" width="1.08" height="1.08" fill="#888888"/><rect x="22" width="1.08" height="1.08" fill="#828282"/><rect x="23" width="1.08" height="1.08" fill="#7d7d7d"/><rect x="24" width="1.08" height="1.08" fill="#797979"/><rect x="25" width="1.08" height="1.08" fill="#787878"/><rect x="26" width="1.08" height="1.08" fill="#787878"/><rect x="27" width="1.08" height="1.08" fill="#787878"/><rect x="28" width="1.08" height="1.08" fill="#787878"/><rect x="29" width="1.08" height="1.08" fill="#787878"/><rect x="30" width="1.08" height="1.08" fill="#777777"/><rect x="31" width="1.08" height="1.08" fill="#767676"/></g>
<g transform="translate(0 12)"><rect x="-2" width="1.08" height="1.08" fill="#949494"/><rect x="-1" width="1.08" height="1.08" fill="#9e9e9e"/><rect x="0" width="1.08" height="1.08" fill="#a8a8a8"/><rect x="1" width="1.08" height="1.08" fill="#b3b3b3"/><rect x="2" width="1.08" height="1.08" fill="#bebebe"/><rect x="3" width="1.08" height="1.08" fill="#c8c8c8"/><rect x="4" width="1.08" height="1.08" fill="#d0d0d0"/><rect x="5" width="1.08" height="1.08" fill="#d7d7d7"/><rect x="6" width="1.08" height="1.08" fill="#dddddd"/><rect x="7" width="1.08" height="1.08" fill="#e0e0e0"/><rect x="8" width="1.08" height="1.08" fill="#e1e1e1"/><rect x="9" width="1.08" height="1.08" fill="#e1e1e1"/><rect x="10" width="1.08" height="1.08" fill="#dfdfdf"/><rect x="11" width="1.08" height="1.08" fill="#dddddd"/><rect x="12" width="1.08" height="1.08" fill="#d9d9d9"/><rect x="13" width="1.08" height="1.08" fill="#d4d4d4"/><rect x="14" width="1.08" height="1.08" fill="#cecece"/><rect x="15" width="1.08" height="1.08" fill="#c7c7c7"/><rect x="16" width="1.08" height="1.08" fill="#bfbfbf"/><rect x="17" width="1.08" height="1.08" fill="#b8b8b8"/><rect x="18" width="1.08" height="1.08" fill="#b0b0b0"/><rect x="19" width="1.08" height="1.08" fill="#a8a8a8"/><rect x="20" width="1.08" height="1.08" fill="#a1a1a1"/><rect x="21" width="1.08" height="1.08" fill="#9b9b9b"/><rect x="22" width="1.08" height="1.08" fill="#959595"/><rect x="23" width="1.08" height="1.08" fill="#919191"/><rect x="24" width="1.08" height="1.08" fill="#8d8d8d"/><rect x="25" width="1.08" height="1.08" fill="#8a8a8a"/><rect x="26" width="1.08" height="1.08" fill="#888888"/><rect x="27" width="1.08" height="1.08" fill="#858585"/><rect x="28" width="1.08" height="1.08" fill="#838383"/><rect x="29" width="1.08" height="1.08" fill="#818181"/><rect x="30" width="1.08" height="1.08" fill="#7e7e7e"/><rect x="31" width="1.08" height="1.08" fill="#7b7b7b"/></g>
<g transform="translate(0 13)"><rect x="-2" width="1.08" height="1.08" fill="#909090"/><rect x="-1" width="1.08" height="1.08" fill="#989898"/><rect x="0" width="1.08" height="1.08" fill="#a1a1a1"/><rect x="1" width="1.08" height="1.08" fill="#aaaaaa"/><rect x="2" width="1.08" height="1.08" fill="#b3b3b3"/><rect x="3" width="1.08" height="1.08" fill="#bbbbbb"/><rect x="4" width="1.08" height="1.08" fill="#c3c3c3"/><rect x="5" width="1.08" height="1.08" fill="#c9c9c9"/><rect x="6" width="1.08" height="1.08" fill="#cdcdcd"/><rect x="7" width="1.08" height="1.08" fill="#d1d1d1"/><rect x="8" width="1.08" height="1.08" fill="#d3d3d3"/><rect x="9" width="1.08" height="1.08" fill="#d4d4d4"/><rect x="10" width="1.08" height="1.08" fill="#d4d4d4"/><rect x="11" width="1.08" height="1.08" fill="#d4d4d4"/><rect x="12" width="1.08" height="1.08" fill="#d3d3d3"/><rect x="13" width="1.08" height="1.08" fill="#d2d2d2"/><rect x="14" width="1.08" height="1.08" fill="#cfcfcf"/><rect x="15" width="1.08" height="1.08" fill="#cbcbcb"/><rect x="16" width="1.08" height="1.08" fill="#c7c7c7"/><rect x="17" width="1.08" height="1.08" fill="#c2c2c2"/><rect x="18" width="1.08" height="1.08" fill="#bcbcbc"/><rect x="19" width="1.08" height="1.08" fill="#b7b7b7"/><rect x="20" width="1.08" height="1.08" fill="#b2b2b2"/><rect x="21" width="1.08" height="1.08" fill="#adadad"/><rect x="22" width="1.08" height="1.08" fill="#a8a8a8"/><rect x="23" width="1.08" height="1.08" fill="#a4a4a4"/><rect x="24" width="1.08" height="1.08" fill="#9f9f9f"/><rect x="25" width="1.08" height="1.08" fill="#9b9b9b"/><rect x="26" width="1.08" height="1.08" fill="#979797"/><rect x="27" width="1.08" height="1.08" fill="#929292"/><rect x="28" width="1.08" height="1.08" fill="#8e8e8e"/><rect x="29" width="1.08" height="1.08" fill="#898989"/><rect x="30" width="1.08" height="1.08" fill="#848484"/><rect x="31" width="1.08" height="1.08" fill="#808080"/></g>
<g transform="translate(0 14)"><rect x="-2" width="1.08" height="1.08" fill="#8b8b8b"/><rect x="-1" width="1.08" height="1.08" fill="#929292"/><rect x="0" width="1.08" height="1.08" fill="#999999"/><rect x="1" width="1.08" height="1.08" fill="#a0a0a0"/><rect x="2" width="1.08" height="1.08" fill="#a7a7a7"/><rect x="3" width="1.08" height="1.08" fill="#aeaeae"/><rect x="4" width="1.08" height="1.08" fill="#b4b4b4"/><rect x="5" width="1.08" height="1.08" fill="#b8b8b8"/><rect x="6" width="1.08" height="1.08" fill="#bcbcbc"/><rect x="7" width="1.08" height="1.08" fill="#c0c0c0"/><rect x="8" width="1.08" height="1.08" fill="#c3c3c3"/><rect x="9" width="1.08" height="1.08" fill="#c5c5c5"/><rect x="10" width="1.08" height="1.08" fill="#c8c8c8"/><rect x="11" width="1.08" height="1.08" fill="#cbcbcb"/><rect x="12" width="1.08" height="1.08" fill="#cdcdcd"/><rect x="13" width="1.08" height="1.08" fill="#cfcfcf"/><rect x="14" width="1.08" height="1.08" fill="#d0d0d0"/><rect x="15" width="1.08" height="1.08" fill="#cfcfcf"/><rect x="16" width="1.08" height="1.08" fill="#cecece"/><rect x="17" width="1.08" height="1.08" fill="#cccccc"/><rect x="18" width="1.08" height="1.08" fill="#c9c9c9"/><rect x="19" width="1.08" height="1.08" fill="#c6c6c6"/><rect x="20" width="1.08" height="1.08" fill="#c2c2c2"/><rect x="21" width="1.08" height="1.08" fill="#bfbfbf"/><rect x="22" width="1.08" height="1.08" fill="#bbbbbb"/><rect x="23" width="1.08" height="1.08" fill="#b6b6b6"/><rect x="24" width="1.08" height="1.08" fill="#b1b1b1"/><rect x="25" width="1.08" height="1.08" fill="#ababab"/><rect x="26" width="1.08" height="1.08" fill="#a5a5a5"/><rect x="27" width="1.08" height="1.08" fill="#9e9e9e"/><rect x="28" width="1.08" height="1.08" fill="#979797"/><rect x="29" width="1.08" height="1.08" fill="#919191"/><rect x="30" width="1.08" height="1.08" fill="#8a8a8a"/><rect x="31" width="1.08" height="1.08" fill="#858585"/></g>
<g transform="translate(0 15)"><rect x="-2" width="1.08" height="1.08" fill="#868686"/><rect x="-1" width="1.08" height="1.08" fill="#8b8b8b"/><rect x="0" width="1.08" height="1.08" fill="#909090"/><rect x="1" width="1.08" height="1.08" fill="#969696"/><rect x="2" width="1.08" height="1.08" fill="#9b9b9b"/><rect x="3" width="1.08" height="1.08" fill="#9f9f9f"/><rect x="4" width="1.08" height="1.08" fill="#a3a3a3"/><rect x="5" width="1.08" height="1.08" fill="#a7a7a7"/><rect x="6" width="1.08" height="1.08" fill="#aaaaaa"/><rect x="7" width="1.08" height="1.08" fill="#aeaeae"/><rect x="8" width="1.08" height="1.08" fill="#b2b2b2"/><rect x="9" width="1.08" height="1.08" fill="#b6b6b6"/><rect x="10" width="1.08" height="1.08" fill="#bbbbbb"/><rect x="11" width="1.08" height="1.08" fill="#c1c1c1"/><rect x="12" width="1.08" height="1.08" fill="#c6c6c6"/><rect x="13" width="1.08" height="1.08" fill="#cbcbcb"/><rect x="14" width="1.08" height="1.08" fill="#cfcfcf"/><rect x="15" width="1.08" height="1.08" fill="#d2d2d2"/><rect x="16" width="1.08" height="1.08" fill="#d4d4d4"/><rect x="17" width="1.08" height="1.08" fill="#d5d5d5"/><rect x="18" width="1.08" height="1.08" fill="#d5d5d5"/><rect x="19" width="1.08" height="1.08" fill="#d4d4d4"/><rect x="20" width="1.08" height="1.08" fill="#d2d2d2"/><rect x="21" width="1.08" height="1.08" fill="#d0d0d0"/><rect x="22" width="1.08" height="1.08" fill="#cccccc"/><rect x="23" width="1.08" height="1.08" fill="#c7c7c7"/><rect x="24" width="1.08" height="1.08" fill="#c1c1c1"/><rect x="25" width="1.08" height="1.08" fill="#bababa"/><rect x="26" width="1.08" height="1.08" fill="#b2b2b2"/><rect x="27" width="1.08" height="1.08" fill="#a9a9a9"/><rect x="28" width="1.08" height="1.08" fill="#a0a0a0"/><rect x="29" width="1.08" height="1.08" fill="#989898"/><rect x="30" width="1.08" height="1.08" fill="#909090"/><rect x="31" width="1.08" height="1.08" fill="#888888"/></g>
<g transform="translate(0 16)"><rect x="-2" width="1.08" height="1.08" fill="#808080"/><rect x="-1" width="1.08" height="1.08" fill="#848484"/><rect x="0" width="1.08" height="1.08" fill="#878787"/><rect x="1" width="1.08" height="1.08" fill="#8a8a8a"/><rect x="2" width="1.08" height="1.08" fill="#8d8d8d"/><rect x="3" width="1.08" height="1.08" fill="#8f8f8f"/><rect x="4" width="1.08" height="1.08" fill="#929292"/><rect x="5" width="1.08" height="1.08" fill="#949494"/><rect x="6" width="1.08" height="1.08" fill="#989898"/><rect x="7" width="1.08" height="1.08" fill="#9c9c9c"/><rect x="8" width="1.08" height="1.08" fill="#a1a1a1"/><rect x="9" width="1.08" height="1.08" fill="#a7a7a7"/><rect x="10" width="1.08" height="1.08" fill="#aeaeae"/><rect x="11" width="1.08" height="1.08" fill="#b6b6b6"/><rect x="12" width="1.08" height="1.08" fill="#bebebe"/><rect x="13" width="1.08" height="1.08" fill="#c6c6c6"/><rect x="14" width="1.08" height="1.08" fill="#cecece"/><rect x="15" width="1.08" height="1.08" fill="#d4d4d4"/><rect x="16" width="1.08" height="1.08" fill="#d9d9d9"/><rect x="17" width="1.08" height="1.08" fill="#dddddd"/><rect x="18" width="1.08" height="1.08" fill="#e0e0e0"/><rect x="19" width="1.08" height="1.08" fill="#e1e1e1"/><rect x="20" width="1.08" height="1.08" fill="#e1e1e1"/><rect x="21" width="1.08" height="1.08" fill="#dfdfdf"/><rect x="22" width="1.08" height="1.08" fill="#dcdcdc"/><rect x="23" width="1.08" height="1.08" fill="#d6d6d6"/><rect x="24" width="1.08" height="1.08" fill="#cfcfcf"/><rect x="25" width="1.08" height="1.08" fill="#c7c7c7"/><rect x="26" width="1.08" height="1.08" fill="#bdbdbd"/><rect x="27" width="1.08" height="1.08" fill="#b2b2b2"/><rect x="28" width="1.08" height="1.08" fill="#a8a8a8"/><rect x="29" width="1.08" height="1.08" fill="#9e9e9e"/><rect x="30" width="1.08" height="1.08" fill="#949494"/><rect x="31" width="1.08" height="1.08" fill="#8c8c8c"/></g>
<g transform="translate(0 17)"><rect x="-2" width="1.08" height="1.08" fill="#7b7b7b"/><rect x="-1" width="1.08" height="1.08" fill="#7c7c7c"/><rect x="0" width="1.08" height="1.08" fill="#7e7e7e"/><rect x="1" width="1.08" height="1.08" fill="#7f7f7f"/><rect x="2" width="1.08" height="1.08" fill="#7f7f7f"/><rect x="3" width="1.08" height="1.08" fill="#7f7f7f"/><rect x="4" width="1.08" height="1.08" fill="#808080"/><rect x="5" width="1.08" height="1.08" fill="#818181"/><rect x="6" width="1.08" height="1.08" fill="#848484"/><rect x="7" width="1.08" height="1.08" fill="#898989"/><rect x="8" width="1.08" height="1.08" fill="#909090"/><rect x="9" width="1.08" height="1.08" fill="#989898"/><rect x="10" width="1.08" height="1.08" fill="#a1a1a1"/><rect x="11" width="1.08" height="1.08" fill="#ababab"/><rect x="12" width="1.08" height="1.08" fill="#b6b6b6"/><rect x="13" width="1.08" height="1.08" fill="#c1c1c1"/><rect x="14" width="1.08" height="1.08" fill="#cccccc"/><rect x="15" width="1.08" height="1.08" fill="#d5d5d5"/><rect x="16" width="1.08" height="1.08" fill="#dddddd"/><rect x="17" width="1.08" height="1.08" fill="#e4e4e4"/><rect x="18" width="1.08" height="1.08" fill="#e9e9e9"/><rect x="19" width="1.08" height="1.08" fill="#ececec"/><rect x="20" width="1.08" height="1.08" fill="#eeeeee"/><rect x="21" width="1.08" height="1.08" fill="#ededed"/><rect x="22" width="1.08" height="1.08" fill="#e9e9e9"/><rect x="23" width="1.08" height="1.08" fill="#e3e3e3"/><rect x="24" width="1.08" height="1.08" fill="#dbdbdb"/><rect x="25" width="1.08" height="1.08" fill="#d1d1d1"/><rect x="26" width="1.08" height="1.08" fill="#c6c6c6"/><rect x="27" width="1.08" height="1.08" fill="#bababa"/><rect x="28" width="1.08" height="1.08" fill="#aeaeae"/><rect x="29" width="1.08" height="1.08" fill="#a2a2a2"/><rect x="30" width="1.08" height="1.08" fill="#989898"/><rect x="31" width="1.08" height="1.08" fill="#8e8e8e"/></g>
<g transform="translate(0 18)"><rect x="-2" width="1.08" height="1.08" fill="#757575"/><rect x="-1" width="1.08" height="1.08" fill="#757575"/><rect x="0" width="1.08" height="1.08" fill="#747474"/><rect x="1" width="1.08" height="1.08" fill="#737373"/><rect x="2" width="1.08" height="1.08" fill="#707070"/><rect x="3" width="1.08" height="1.08" fill="#6e6e6e"/><rect x="4" width="1.08" height="1.08" fill="#6d6d6d"/><rect x="5" width="1.08" height="1.08" fill="#6d6d6d"/><rect x="6" width="1.08" height="1.08" fill="#707070"/><rect x="7" width="1.08" height="1.08" fill="#767676"/><rect x="8" width="1.08" height="1.08" fill="#7e7e7e"/><rect x="9" width="1.08" height="1.08" fill="#888888"/><rect x="10" width="1.08" height="1.08" fill="#949494"/><rect x="11" width="1.08" height="1.08" fill="#a1a1a1"/><rect x="12" width="1.08" height="1.08" fill="#aeaeae"/><rect x="13" width="1.08" height="1.08" fill="#bcbcbc"/><rect x="14" width="1.08" height="1.08" fill="#c9c9c9"/><rect x="15" width="1.08" height="1.08" fill="#d5d5d5"/><rect x="16" width="1.08" height="1.08" fill="#e0e0e0"/><rect x="17" width="1.08" height="1.08" fill="#eaeaea"/><rect x="18" width="1.08" height="1.08" fill="#f1f1f1"/><rect x="19" width="1.08" height="1.08" fill="#f6f6f6"/><rect x="20" width="1.08" height="1.08" fill="#f8f8f8"/><rect x="21" width="1.08" height="1.08" fill="#f8f8f8"/><rect x="22" width="1.08" height="1.08" fill="#f4f4f4"/><rect x="23" width="1.08" height="1.08" fill="#eeeeee"/><rect x="24" width="1.08" height="1.08" fill="#e5e5e5"/><rect x="25" width="1.08" height="1.08" fill="#d9d9d9"/><rect x="26" width="1.08" height="1.08" fill="#cdcdcd"/><rect x="27" width="1.08" height="1.08" fill="#c0c0c0"/><rect x="28" width="1.08" height="1.08" fill="#b2b2b2"/><rect x="29" width="1.08" height="1.08" fill="#a6a6a6"/><rect x="30" width="1.08" height="1.08" fill="#9a9a9a"/><rect x="31" width="1.08" height="1.08" fill="#909090"/></g>
<g transform="translate(0 19)"><rect x="-2" width="1.08" height="1.08" fill="#707070"/><rect x="-1" width="1.08" height="1.08" fill="#6e6e6e"/><rect x="0" width="1.08" height="1.08" fill="#6b6b6b"/><rect x="1" width="1.08" height="1.08" fill="#676767"/><rect x="2" width="1.08" height="1.08" fill="#626262"/><rect x="3" width="1.08" height="1.08" fill="#5d5d5d"/><rect x="4" width="1.08" height="1.08" fill="#595959"/><rect x="5" width="1.08" height="1.08" fill="#585858"/><rect x="6" width="1.08" height="1.08" fill="#5b5b5b"/><rect x="7" width="1.08" height="1.08" fill="#626262"/><rect x="8" width="1.08" height="1.08" fill="#6d6d6d"/><rect x="9" width="1.08" height="1.08" fill="#797979"/><rect x="10" width="1.08" height="1.08" fill="#888888"/><rect x="11" width="1.08" height="1.08" fill="#979797"/><rect x="12" width="1.08" height="1.08" fill="#a7a7a7"/><rect x="13" width="1.08" height="1.08" fill="#b7b7b7"/><rect x="14" width="1.08" height="1.08" fill="#c6c6c6"/><rect x="15" width="1.08" height="1.08" fill="#d5d5d5"/><rect x="16" width="1.08" height="1.08" fill="#e2e2e2"/><rect x="17" width="1.08" height="1.08" fill="#eeeeee"/><rect x="18" width="1.08" height="1.08" fill="#f6f6f6"/><rect x="19" width="1.08" height="1.08" fill="#fdfdfd"/><rect x="20" width="1.08" height="1.08" fill="#ffffff"/><rect x="21" width="1.08" height="1.08" fill="#ffffff"/><rect x="22" width="1.08" height="1.08" fill="#fcfcfc"/><rect x="23" width="1.08" height="1.08" fill="#f5f5f5"/><rect x="24" width="1.08" height="1.08" fill="#ebebeb"/><rect x="25" width="1.08" height="1.08" fill="#dfdfdf"/><rect x="26" width="1.08" height="1.08" fill="#d1d1d1"/><rect x="27" width="1.08" height="1.08" fill="#c3c3c3"/><rect x="28" width="1.08" height="1.08" fill="#b5b5b5"/><rect x="29" width="1.08" height="1.08" fill="#a7a7a7"/><rect x="30" width="1.08" height="1.08" fill="#9b9b9b"/><rect x="31" width="1.08" height="1.08" fill="#919191"/></g>
<g transform="translate(0 20)"><rect x="-2" width="1.08" height="1.08" fill="#6b6b6b"/><rect x="-1" width="1.08" height="1.08" fill="#686868"/><rect x="0" width="1.08" height="1.08" fill="#636363"/><rect x="1" width="1.08" height="1.08" fill="#5c5c5c"/><rect x="2" width="1.08" height="1.08" fill="#535353"/><rect x="3" width="1.08" height="1.08" fill="#4b4b4b"/><rect x="4" width="1.08" height="1.08" fill="#454545"/><rect x="5" width="1.08" height="1.08" fill="#424242"/><rect x="6" width="1.08" height="1.08" fill="#454545"/><rect x="7" width="1.08" height="1.08" fill="#4e4e4e"/><rect x="8" width="1.08" height="1.08" fill="#5b5b5b"/><rect x="9" width="1.08" height="1.08" fill="#6b6b6b"/><rect x="10" width="1.08" height="1.08" fill="#7c7c7c"/><rect x="11" width="1.08" height="1.08" fill="#8e8e8e"/><rect x="12" width="1.08" height="1.08" fill="#a0a0a0"/><rect x="13" width="1.08" height="1.08" fill="#b2b2b2"/><rect x="14" width="1.08" height="1.08" fill="#c4c4c4"/><rect x="15" width="1.08" height="1.08" fill="#d4d4d4"/><rect x="16" width="1.08" height="1.08" fill="#e3e3e3"/><rect x="17" width="1.08" height="1.08" fill="#f0f0f0"/><rect x="18" width="1.08" height="1.08" fill="#fafafa"/><rect x="19" width="1.08" height="1.08" fill="#ffffff"/><rect x="20" width="1.08" height="1.08" fill="#ffffff"/><rect x="21" width="1.08" height="1.08" fill="#ffffff"/><rect x="22" width="1.08" height="1.08" fill="#ffffff"/><rect x="23" width="1.08" height="1.08" fill="#f8f8f8"/><rect x="24" width="1.08" height="1.08" fill="#ededed"/><rect x="25" width="1.08" height="1.08" fill="#e1e1e1"/><rect x="26" width="1.08" height="1.08" fill="#d2d2d2"/><rect x="27" width="1.08" height="1.08" fill="#c3c3c3"/><rect x="28" width="1.08" height="1.08" fill="#b5b5b5"/><rect x="29" width="1.08" height="1.08" fill="#a7a7a7"/><rect x="30" width="1.08" height="1.08" fill="#9b9b9b"/><rect x="31" width="1.08" height="1.08" fill="#909090"/></g>
<g transform="translate(0 21)"><rect x="-2" width="1.08" height="1.08" fill="#676767"/><rect x="-1" width="1.08" height="1.08" fill="#626262"/><rect x="0" width="1.08" height="1.08" fill="#5b5b5b"/><rect x="1" width="1.08" height="1.08" fill="#525252"/><rect x="2" width="1.08" height="1.08" fill="#464646"/><rect x="3" width="1.08" height="1.08" fill="#3a3a3a"/><rect x="4" width="1.08" height="1.08" fill="#303030"/><rect x="5" width="1.08" height="1.08" fill="#2c2c2c"/><rect x="6" width="1.08" height="1.08" fill="#2f2f2f"/><rect x="7" width="1.08" height="1.08" fill="#3a3a3a"/><rect x="8" width="1.08" height="1.08" fill="#4b4b4b"/><rect x="9" width="1.08" height="1.08" fill="#5e5e5e"/><rect x="10" width="1.08" height="1.08" fill="#727272"/><rect x="11" width="1.08" height="1.08" fill="#868686"/><rect x="12" width="1.08" height="1.08" fill="#9a9a9a"/><rect x="13" width="1.08" height="1.08" fill="#aeaeae"/><rect x="14" width="1.08" height="1.08" fill="#c0c0c0"/><rect x="15" width="1.08" height="1.08" fill="#d2d2d2"/><rect x="16" width="1.08" height="1.08" fill="#e2e2e2"/><rect x="17" width="1.08" height="1.08" fill="#efefef"/><rect x="18" width="1.08" height="1.08" fill="#fafafa"/><rect x="19" width="1.08" height="1.08" fill="#ffffff"/><rect x="20" width="1.08" height="1.08" fill="#ffffff"/><rect x="21" width="1.08" height="1.08" fill="#ffffff"/><rect x="22" width="1.08" height="1.08" fill="#ffffff"/><rect x="23" width="1.08" height="1.08" fill="#f7f7f7"/><rect x="24" width="1.08" height="1.08" fill="#ececec"/><rect x="25" width="1.08" height="1.08" fill="#dfdfdf"/><rect x="26" width="1.08" height="1.08" fill="#d1d1d1"/><rect x="27" width="1.08" height="1.08" fill="#c2c2c2"/><rect x="28" width="1.08" height="1.08" fill="#b3b3b3"/><rect x="29" width="1.08" height="1.08" fill="#a5a5a5"/><rect x="30" width="1.08" height="1.08" fill="#999999"/><rect x="31" width="1.08" height="1.08" fill="#8f8f8f"/></g>
<g transform="translate(0 22)"><rect x="-2" width="1.08" height="1.08" fill="#646464"/><rect x="-1" width="1.08" height="1.08" fill="#5e5e5e"/><rect x="0" width="1.08" height="1.08" fill="#555555"/><rect x="1" width="1.08" height="1.08" fill="#4a4a4a"/><rect x="2" width="1.08" height="1.08" fill="#3c3c3c"/><rect x="3" width="1.08" height="1.08" fill="#2c2c2c"/><rect x="4" width="1.08" height="1.08" fill="#1e1e1e"/><rect x="5" width="1.08" height="1.08" fill="#161616"/><rect x="6" width="1.08" height="1.08" fill="#1a1a1a"/><rect x="7" width="1.08" height="1.08" fill="#292929"/><rect x="8" width="1.08" height="1.08" fill="#3d3d3d"/><rect x="9" width="1.08" height="1.08" fill="#535353"/><rect x="10" width="1.08" height="1.08" fill="#696969"/><rect x="11" width="1.08" height="1.08" fill="#7f7f7f"/><rect x="12" width="1.08" height="1.08" fill="#959595"/><rect x="13" width="1.08" height="1.08" fill="#a9a9a9"/><rect x="14" width="1.08" height="1.08" fill="#bdbdbd"/><rect x="15" width="1.08" height="1.08" fill="#cfcfcf"/><rect x="16" width="1.08" height="1.08" fill="#dfdfdf"/><rect x="17" width="1.08" height="1.08" fill="#ededed"/><rect x="18" width="1.08" height="1.08" fill="#f7f7f7"/><rect x="19" width="1.08" height="1.08" fill="#fefefe"/><rect x="20" width="1.08" height="1.08" fill="#ffffff"/><rect x="21" width="1.08" height="1.08" fill="#ffffff"/><rect x="22" width="1.08" height="1.08" fill="#fcfcfc"/><rect x="23" width="1.08" height="1.08" fill="#f3f3f3"/><rect x="24" width="1.08" height="1.08" fill="#e8e8e8"/><rect x="25" width="1.08" height="1.08" fill="#dbdbdb"/><rect x="26" width="1.08" height="1.08" fill="#cccccc"/><rect x="27" width="1.08" height="1.08" fill="#bebebe"/><rect x="28" width="1.08" height="1.08" fill="#b0b0b0"/><rect x="29" width="1.08" height="1.08" fill="#a2a2a2"/><rect x="30" width="1.08" height="1.08" fill="#979797"/><rect x="31" width="1.08" height="1.08" fill="#8d8d8d"/></g>
<g transform="translate(0 23)"><rect x="-2" width="1.08" height="1.08" fill="#626262"/><rect x="-1" width="1.08" height="1.08" fill="#5b5b5b"/><rect x="0" width="1.08" height="1.08" fill="#525252"/><rect x="1" width="1.08" height="1.08" fill="#454545"/><rect x="2" width="1.08" height="1.08" fill="#353535"/><rect x="3" width="1.08" height="1.08" fill="#232323"/><rect x="4" width="1.08" height="1.08" fill="#111111"/><rect x="5" width="1.08" height="1.08" fill="#050505"/><rect x="6" width="1.08" height="1.08" fill="#0b0b0b"/><rect x="7" width="1.08" height="1.08" fill="#1e1e1e"/><rect x="8" width="1.08" height="1.08" fill="#353535"/><rect x="9" width="1.08" height="1.08" fill="#4d4d4d"/><rect x="10" width="1.08" height="1.08" fill="#646464"/><rect x="11" width="1.08" height="1.08" fill="#7b7b7b"/><rect x="12" width="1.08" height="1.08" fill="#919191"/><rect x="13" width="1.08" height="1.08" fill="#a5a5a5"/><rect x="14" width="1.08" height="1.08" fill="#b9b9b9"/><rect x="15" width="1.08" height="1.08" fill="#cbcbcb"/><rect x="16" width="1.08" height="1.08" fill="#dadada"/><rect x="17" width="1.08" height="1.08" fill="#e8e8e8"/><rect x="18" width="1.08" height="1.08" fill="#f2f2f2"/><rect x="19" width="1.08" height="1.08" fill="#f8f8f8"/><rect x="20" width="1.08" height="1.08" fill="#fbfbfb"/><rect x="21" width="1.08" height="1.08" fill="#f9f9f9"/><rect x="22" width="1.08" height="1.08" fill="#f4f4f4"/><rect x="23" width="1.08" height="1.08" fill="#ececec"/><rect x="24" width="1.08" height="1.08" fill="#e1e1e1"/><rect x="25" width="1.08" height="1.08" fill="#d4d4d4"/><rect x="26" width="1.08" height="1.08" fill="#c6c6c6"/><rect x="27" width="1.08" height="1.08" fill="#b8b8b8"/><rect x="28" width="1.08" height="1.08" fill="#aaaaaa"/><rect x="29" width="1.08" height="1.08" fill="#9e9e9e"/><rect x="30" width="1.08" height="1.08" fill="#939393"/><rect x="31" width="1.08" height="1.08" fill="#8a8a8a"/></g>
<g transform="translate(0 24)"><rect x="-2" width="1.08" height="1.08" fill="#616161"/><rect x="-1" width="1.08" height="1.08" fill="#5a5a5a"/><rect x="0" width="1.08" height="1.08" fill="#515151"/><rect x="1" width="1.08" height="1.08" fill="#444444"/><rect x="2" width="1.08" height="1.08" fill="#343434"/><rect x="3" width="1.08" height="1.08" fill="#232323"/><rect x="4" width="1.08" height="1.08" fill="#111111"/><rect x="5" width="1.08" height="1.08" fill="#050505"/><rect x="6" width="1.08" height="1.08" fill="#0b0b0b"/><rect x="7" width="1.08" height="1.08" fill="#1e1e1e"/><rect x="8" width="1.08" height="1.08" fill="#343434"/><rect x="9" width="1.08" height="1.08" fill="#4b4b4b"/><rect x="10" width="1.08" height="1.08" fill="#626262"/><rect x="11" width="1.08" height="1.08" fill="#797979"/><rect x="12" width="1.08" height="1.08" fill="#8e8e8e"/><rect x="13" width="1.08" height="1.08" fill="#a2a2a2"/><rect x="14" width="1.08" height="1.08" fill="#b4b4b4"/><rect x="15" width="1.08" height="1.08" fill="#c5c5c5"/><rect x="16" width="1.08" height="1.08" fill="#d4d4d4"/><rect x="17" width="1.08" height="1.08" fill="#e0e0e0"/><rect x="18" width="1.08" height="1.08" fill="#e9e9e9"/><rect x="19" width="1.08" height="1.08" fill="#efefef"/><rect x="20" width="1.08" height="1.08" fill="#f1f1f1"/><rect x="21" width="1.08" height="1.08" fill="#efefef"/><rect x="22" width="1.08" height="1.08" fill="#eaeaea"/><rect x="23" width="1.08" height="1.08" fill="#e2e2e2"/><rect x="24" width="1.08" height="1.08" fill="#d7d7d7"/><rect x="25" width="1.08" height="1.08" fill="#cbcbcb"/><rect x="26" width="1.08" height="1.08" fill="#bebebe"/><rect x="27" width="1.08" height="1.08" fill="#b1b1b1"/><rect x="28" width="1.08" height="1.08" fill="#a4a4a4"/><rect x="29" width="1.08" height="1.08" fill="#999999"/><rect x="30" width="1.08" height="1.08" fill="#8f8f8f"/><rect x="31" width="1.08" height="1.08" fill="#878787"/></g>
<g transform="translate(0 25)"><rect x="-2" width="1.08" height="1.08" fill="#616161"/><rect x="-1" width="1.08" height="1.08" fill="#5b5b5b"/><rect x="0" width="1.08" height="1.08" fill="#525252"/><rect x="1" width="1.08" height="1.08" fill="#474747"/><rect x="2" width="1.08" height="1.08" fill="#393939"/><rect x="3" width="1.08" height="1.08" fill="#2a2a2a"/><rect x="4" width="1.08" height="1.08" fill="#1c1c1c"/><rect x="5" width="1.08" height="1.08" fill="#151515"/><rect x="6" width="1.08" height="1.08" fill="#191919"/><rect x="7" width="1.08" height="1.08" fill="#272727"/><rect x="8" width="1.08" height="1.08" fill="#3a3a3a"/><rect x="9" width="1.08" height="1.08" fill="#4f4f4f"/><rect x="10" width="1.08" height="1.08" fill="#646464"/><rect x="11" width="1.08" height="1.08" fill="#787878"/><rect x="12" width="1.08" height="1.08" fill="#8c8c8c"/><rect x="13" width="1.08" height="1.08" fill="#9e9e9e"/><rect x="14" width="1.08" height="1.08" fill="#afafaf"/><rect x="15" width="1.08" height="1.08" fill="#bebebe"/><rect x="16" width="1.08" height="1.08" fill="#cccccc"/><rect x="17" width="1.08" height="1.08" fill="#d6d6d6"/><rect x="18" width="1.08" height="1.08" fill="#dedede"/><rect x="19" width="1.08" height="1.08" fill="#e3e3e3"/><rect x="20" width="1.08" height="1.08" fill="#e4e4e4"/><rect x="21" width="1.08" height="1.08" fill="#e2e2e2"/><rect x="22" width="1.08" height="1.08" fill="#dddddd"/><rect x="23" width="1.08" height="1.08" fill="#d5d5d5"/><rect x="24" width="1.08" height="1.08" fill="#cbcbcb"/><rect x="25" width="1.08" height="1.08" fill="#c0c0c0"/><rect x="26" width="1.08" height="1.08" fill="#b4b4b4"/><rect x="27" width="1.08" height="1.08" fill="#a8a8a8"/><rect x="28" width="1.08" height="1.08" fill="#9d9d9d"/><rect x="29" width="1.08" height="1.08" fill="#939393"/><rect x="30" width="1.08" height="1.08" fill="#8b8b8b"/><rect x="31" width="1.08" height="1.08" fill="#838383"/></g>
<g transform="translate(0 26)"><rect x="-2" width="1.08" height="1.08" fill="#626262"/><rect x="-1" width="1.08" height="1.08" fill="#5d5d5d"/><rect x="0" width="1.08" height="1.08" fill="#555555"/><rect x="1" width="1.08" height="1.08" fill="#4c4c4c"/><rect x="2" width="1.08" height="1.08" fill="#414141"/><rect x="3" width="1.08" height="1.08" fill="#353535"/><rect x="4" width="1.08" height="1.08" fill="#2c2c2c"/><rect x="5" width="1.08" height="1.08" fill="#282828"/><rect x="6" width="1.08" height="1.08" fill="#2b2b2b"/><rect x="7" width="1.08" height="1.08" fill="#353535"/><rect x="8" width="1.08" height="1.08" fill="#444444"/><rect x="9" width="1.08" height="1.08" fill="#555555"/><rect x="10" width="1.08" height="1.08" fill="#676767"/><rect x="11" width="1.08" height="1.08" fill="#797979"/><rect x="12" width="1.08" height="1.08" fill="#8a8a8a"/><rect x="13" width="1.08" height="1.08" fill="#9a9a9a"/><rect x="14" width="1.08" height="1.08" fill="#a9a9a9"/><rect x="15" width="1.08" height="1.08" fill="#b6b6b6"/><rect x="16" width="1.08" height="1.08" fill="#c2c2c2"/><rect x="17" width="1.08" height="1.08" fill="#cbcbcb"/><rect x="18" width="1.08" height="1.08" fill="#d2d2d2"/><rect x="19" width="1.08" height="1.08" fill="#d6d6d6"/><rect x="20" width="1.08" height="1.08" fill="#d6d6d6"/><rect x="21" width="1.08" height="1.08" fill="#d4d4d4"/><rect x="22" width="1.08" height="1.08" fill="#cfcfcf"/><rect x="23" width="1.08" height="1.08" fill="#c8c8c8"/><rect x="24" width="1.08" height="1.08" fill="#bfbfbf"/><rect x="25" width="1.08" height="1.08" fill="#b5b5b5"/><rect x="26" width="1.08" height="1.08" fill="#aaaaaa"/><rect x="27" width="1.08" height="1.08" fill="#a0a0a0"/><rect x="28" width="1.08" height="1.08" fill="#969696"/><rect x="29" width="1.08" height="1.08" fill="#8e8e8e"/><rect x="30" width="1.08" height="1.08" fill="#868686"/><rect x="31" width="1.08" height="1.08" fill="#808080"/></g>
<g transform="translate(0 27)"><rect x="-2" width="1.08" height="1.08" fill="#646464"/><rect x="-1" width="1.08" height="1.08" fill="#5f5f5f"/><rect x="0" width="1.08" height="1.08" fill="#595959"/><rect x="1" width="1.08" height="1.08" fill="#525252"/><rect x="2" width="1.08" height="1.08" fill="#4a4a4a"/><rect x="3" width="1.08" height="1.08" fill="#424242"/><rect x="4" width="1.08" height="1.08" fill="#3c3c3c"/><rect x="5" width="1.08" height="1.08" fill="#3a3a3a"/><rect x="6" width="1.08" height="1.08" fill="#3c3c3c"/><rect x="7" width="1.08" height="1.08" fill="#444444"/><rect x="8" width="1.08" height="1.08" fill="#4f4f4f"/><rect x="9" width="1.08" height="1.08" fill="#5d5d5d"/><rect x="10" width="1.08" height="1.08" fill="#6b6b6b"/><rect x="11" width="1.08" height="1.08" fill="#7a7a7a"/><rect x="12" width="1.08" height="1.08" fill="#888888"/><rect x="13" width="1.08" height="1.08" fill="#969696"/><rect x="14" width="1.08" height="1.08" fill="#a2a2a2"/><rect x="15" width="1.08" height="1.08" fill="#aeaeae"/><rect x="16" width="1.08" height="1.08" fill="#b8b8b8"/><rect x="17" width="1.08" height="1.08" fill="#bfbfbf"/><rect x="18" width="1.08" height="1.08" fill="#c5c5c5"/><rect x="19" width="1.08" height="1.08" fill="#c7c7c7"/><rect x="20" width="1.08" height="1.08" fill="#c8c8c8"/><rect x="21" width="1.08" height="1.08" fill="#c5c5c5"/><rect x="22" width="1.08" height="1.08" fill="#c0c0c0"/><rect x="23" width="1.08" height="1.08" fill="#bababa"/><rect x="24" width="1.08" height="1.08" fill="#b2b2b2"/><rect x="25" width="1.08" height="1.08" fill="#a9a9a9"/><rect x="26" width="1.08" height="1.08" fill="#a0a0a0"/><rect x="27" width="1.08" height="1.08" fill="#979797"/><rect x="28" width="1.08" height="1.08" fill="#8f8f8f"/><rect x="29" width="1.08" height="1.08" fill="#888888"/><rect x="30" width="1.08" height="1.08" fill="#828282"/><rect x="31" width="1.08" height="1.08" fill="#7c7c7c"/></g>
<g transform="translate(0 28)"><rect x="-2" width="1.08" height="1.08" fill="#666666"/><rect x="-1" width="1.08" height="1.08" fill="#626262"/><rect x="0" width="1.08" height="1.08" fill="#5e5e5e"/><rect x="1" width="1.08" height="1.08" fill="#595959"/><rect x="2" width="1.08" height="1.08" fill="#535353"/><rect x="3" width="1.08" height="1.08" fill="#4e4e4e"/><rect x="4" width="1.08" height="1.08" fill="#4a4a4a"/><rect x="5" width="1.08" height="1.08" fill="#494949"/><rect x="6" width="1.08" height="1.08" fill="#4b4b4b"/><rect x="7" width="1.08" height="1.08" fill="#515151"/><rect x="8" width="1.08" height="1.08" fill="#595959"/><rect x="9" width="1.08" height="1.08" fill="#636363"/><rect x="10" width="1.08" height="1.08" fill="#6f6f6f"/><rect x="11" width="1.08" height="1.08" fill="#7a7a7a"/><rect x="12" width="1.08" height="1.08" fill="#868686"/><rect x="13" width="1.08" height="1.08" fill="#919191"/><rect x="14" width="1.08" height="1.08" fill="#9c9c9c"/><rect x="15" width="1.08" height="1.08" fill="#a5a5a5"/><rect x="16" width="1.08" height="1.08" fill="#adadad"/><rect x="17" width="1.08" height="1.08" fill="#b3b3b3"/><rect x="18" width="1.08" height="1.08" fill="#b7b7b7"/><rect x="19" width="1.08" height="1.08" fill="#b9b9b9"/><rect x="20" width="1.08" height="1.08" fill="#b9b9b9"/><rect x="21" width="1.08" height="1.08" fill="#b6b6b6"/><rect x="22" width="1.08" height="1.08" fill="#b2b2b2"/><rect x="23" width="1.08" height="1.08" fill="#adadad"/><rect x="24" width="1.08" height="1.08" fill="#a6a6a6"/><rect x="25" width="1.08" height="1.08" fill="#9e9e9e"/><rect x="26" width="1.08" height="1.08" fill="#979797"/><rect x="27" width="1.08" height="1.08" fill="#8f8f8f"/><rect x="28" width="1.08" height="1.08" fill="#898989"/><rect x="29" width="1.08" height="1.08" fill="#838383"/><rect x="30" width="1.08" height="1.08" fill="#7e7e7e"/><rect x="31" width="1.08" height="1.08" fill="#797979"/></g>
<g transform="translate(0 29)"><rect x="-2" width="1.08" height="1.08" fill="#686868"/><rect x="-1" width="1.08" height="1.08" fill="#656565"/><rect x="0" width="1.08" height="1.08" fill="#626262"/><rect x="1" width="1.08" height="1.08" fill="#5e5e5e"/><rect x="2" width="1.08" height="1.08" fill="#5a5a5a"/><rect x="3" width="1.08" height="1.08" fill="#575757"/><rect x="4" width="1.08" height="1.08" fill="#555555"/><rect x="5" width="1.08" height="1.08" fill="#555555"/><rect x="6" width="1.08" height="1.08" fill="#575757"/><rect x="7" width="1.08" height="1.08" fill="#5b5b5b"/><rect x="8" width="1.08" height="1.08" fill="#616161"/><rect x="9" width="1.08" height="1.08" fill="#696969"/><rect x="10" width="1.08" height="1.08" fill="#717171"/><rect x="11" width="1.08" height="1.08" fill="#7b7b7b"/><rect x="12" width="1.08" height="1.08" fill="#848484"/><rect x="13" width="1.08" height="1.08" fill="#8c8c8c"/><rect x="14" width="1.08" height="1.08" fill="#959595"/><rect x="15" width="1.08" height="1.08" fill="#9c9c9c"/><rect x="16" width="1.08" height="1.08" fill="#a2a2a2"/><rect x="17" width="1.08" height="1.08" fill="#a7a7a7"/><rect x="18" width="1.08" height="1.08" fill="#aaaaaa"/><rect x="19" width="1.08" height="1.08" fill="#ababab"/><rect x="20" width="1.08" height="1.08" fill="#ababab"/><rect x="21" width="1.08" height="1.08" fill="#a9a9a9"/><rect x="22" width="1.08" height="1.08" fill="#a5a5a5"/><rect x="23" width="1.08" height="1.08" fill="#a0a0a0"/><rect x="24" width="1.08" height="1.08" fill="#9a9a9a"/><rect x="25" width="1.08" height="1.08" fill="#949494"/><rect x="26" width="1.08" height="1.08" fill="#8e8e8e"/><rect x="27" width="1.08" height="1.08" fill="#888888"/><rect x="28" width="1.08" height="1.08" fill="#838383"/><rect x="29" width="1.08" height="1.08" fill="#7e7e7e"/><rect x="30" width="1.08" height="1.08" fill="#7a7a7a"/><rect x="31" width="1.08" height="1.08" fill="#777777"/></g>
<g transform="translate(0 30)"><rect x="-2" width="1.08" height="1.08" fill="#696969"/><rect x="-1" width="1.08" height="1.08" fill="#676767"/><rect x="0" width="1.08" height="1.08" fill="#656565"/><rect x="1" width="1.08" height="1.08" fill="#636363"/><rect x="2" width="1.08" height="1.08" fill="#606060"/><rect x="3" width="1.08" height="1.08" fill="#5e5e5e"/><rect x="4" width="1.08" height="1.08" fill="#5d5d5d"/><rect x="5" width="1.08" height="1.08" fill="#5d5d5d"/><rect x="6" width="1.08" height="1.08" fill="#5f5f5f"/><rect x="7" width="1.08" height="1.08" fill="#626262"/><rect x="8" width="1.08" height="1.08" fill="#676767"/><rect x="9" width="1.08" height="1.08" fill="#6d6d6d"/><rect x="10" width="1.08" height="1.08" fill="#737373"/><rect x="11" width="1.08" height="1.08" fill="#7a7a7a"/><rect x="12" width="1.08" height="1.08" fill="#818181"/><rect x="13" width="1.08" height="1.08" fill="#888888"/><rect x="14" width="1.08" height="1.08" fill="#8e8e8e"/><rect x="15" width="1.08" height="1.08" fill="#939393"/><rect x="16" width="1.08" height="1.08" fill="#989898"/><rect x="17" width="1.08" height="1.08" fill="#9c9c9c"/><rect x="18" width="1.08" height="1.08" fill="#9e9e9e"/><rect x="19" width="1.08" height="1.08" fill="#9f9f9f"/><rect x="20" width="1.08" height="1.08" fill="#9e9e9e"/><rect x="21" width="1.08" height="1.08" fill="#9c9c9c"/><rect x="22" width="1.08" height="1.08" fill="#999999"/><rect x="23" width="1.08" height="1.08" fill="#959595"/><rect x="24" width="1.08" height="1.08" fill="#909090"/><rect x="25" width="1.08" height="1.08" fill="#8c8c8c"/><rect x="26" width="1.08" height="1.08" fill="#878787"/><rect x="27" width="1.08" height="1.08" fill="#828282"/><rect x="28" width="1.08" height="1.08" fill="#7e7e7e"/><rect x="29" width="1.08" height="1.08" fill="#7a7a7a"/><rect x="30" width="1.08" height="1.08" fill="#777777"/><rect x="31" width="1.08" height="1.08" fill="#747474"/></g>
<g transform="translate(0 31)"><rect x="-2" width="1.08" height="1.08" fill="#6b6b6b"/><rect x="-1" width="1.08" height="1.08" fill="#696969"/><rect x="0" width="1.08" height="1.08" fill="#686868"/><rect x="1" width="1.08" height="1.08" fill="#666666"/><rect x="2" width="1.08" height="1.08" fill="#656565"/><rect x="3" width="1.08" height="1.08" fill="#646464"/><rect x="4" width="1.08" height="1.08" fill="#636363"/><rect x="5" width="1.08" height="1.08" fill="#646464"/><rect x="6" width="1.08" height="1.08" fill="#656565"/><rect x="7" width="1.08" height="1.08" fill="#676767"/><rect x="8" width="1.08" height="1.08" fill="#6b6b6b"/><rect x="9" width="1.08" height="1.08" fill="#6f6f6f"/><rect x="10" width="1.08" height="1.08" fill="#747474"/><rect x="11" width="1.08" height="1.08" fill="#797979"/><rect x="12" width="1.08" height="1.08" fill="#7e7e7e"/><rect x="13" width="1.08" height="1.08" fill="#838383"/><rect x="14" width="1.08" height="1.08" fill="#878787"/><rect x="15" width="1.08" height="1.08" fill="#8c8c8c"/><rect x="16" width="1.08" height="1.08" fill="#8f8f8f"/><rect x="17" width="1.08" height="1.08" fill="#929292"/><rect x="18" width="1.08" height="1.08" fill="#939393"/><rect x="19" width="1.08" height="1.08" fill="#949494"/><rect x="20" width="1.08" height="1.08" fill="#939393"/><rect x="21" width="1.08" height="1.08" fill="#919191"/><rect x="22" width="1.08" height="1.08" fill="#8f8f8f"/><rect x="23" width="1.08" height="1.08" fill="#8c8c8c"/><rect x="24" width="1.08" height="1.08" fill="#888888"/><rect x="25" width="1.08" height="1.08" fill="#848484"/><rect x="26" width="1.08" height="1.08" fill="#808080"/><rect x="27" width="1.08" height="1.08" fill="#7d7d7d"/><rect x="28" width="1.08" height="1.08" fill="#7a7a7a"/><rect x="29" width="1.08" height="1.08" fill="#777777"/><rect x="30" width="1.08" height="1.08" fill="#757575"/><rect x="31" width="1.08" height="1.08" fill="#737373"/></g>
</g></g></g>
<linearGradient id="cb1" x1="0" y1="1" x2="0" y2="0"><stop offset="0.000" stop-color="rgb(0,0,0)"/><stop offset="0.050" stop-color="rgb(17,0,0)"/><stop offset="0.100" stop-color="rgb(35,0,0)"/><stop offset="0.150" stop-color="rgb(52,0,0)"/><stop offset="0.200" stop-color="rgb(70,0,0)"/><stop offset="0.250" stop-color="rgb(88,0,0)"/><stop offset="0.300" stop-color="rgb(105,0,0)"/><stop offset="0.350" stop-color="rgb(123,0,0)"/><stop offset="0.400" stop-color="rgb(141,0,0)"/><stop offset="0.450" stop-color="rgb(158,0,0)"/><stop offset="0.500" stop-color="rgb(176,3,0)"/><stop offset="0.550" stop-color="rgb(194,26,0)"/><stop offset="0.600" stop-color="rgb(211,49,0)"/><stop offset="0.650" stop-color="rgb(229,72,0)"/><stop offset="0.700" stop-color="rgb(247,95,0)"/><stop offset="0.750" stop-color="rgb(255,118,0)"/><stop offset="0.800" stop-color="rgb(255,141,19)"/><stop offset="0.850" stop-color="rgb(255,164,66)"/><stop offset="0.900" stop-color="rgb(255,187,114)"/><stop offset="0.950" stop-color="rgb(255,210,162)"/><stop offset="1.000" stop-color="rgb(255,233,209)"/></linearGradient>
<rect x="221.8" y="227.2" width="10.40" height="94.40" fill="url(#cb1)"/>
<path d="M232.40 214.8V321.6" stroke="#555" stroke-width="0.6"/>
<text x="233.90" y="218.50" class="cbl">0.30<tspan dx="0.9" font-size="7.3">G/A</tspan></text>
<text x="233.90" y="248.40" class="cbl">0.225</text>
<text x="233.90" y="274.30" class="cbl">0.15</text>
<text x="234.90" y="300.40" class="cbl">0.075</text>
<text x="234.40" y="322.50" class="cbl">0.00</text>
<linearGradient id="cb2" x1="0" y1="1" x2="0" y2="0"><stop offset="0.000" stop-color="rgb(0,0,0)"/><stop offset="0.050" stop-color="rgb(17,0,0)"/><stop offset="0.100" stop-color="rgb(35,0,0)"/><stop offset="0.150" stop-color="rgb(52,0,0)"/><stop offset="0.200" stop-color="rgb(70,0,0)"/><stop offset="0.250" stop-color="rgb(88,0,0)"/><stop offset="0.300" stop-color="rgb(105,0,0)"/><stop offset="0.350" stop-color="rgb(123,0,0)"/><stop offset="0.400" stop-color="rgb(141,0,0)"/><stop offset="0.450" stop-color="rgb(158,0,0)"/><stop offset="0.500" stop-color="rgb(176,3,0)"/><stop offset="0.550" stop-color="rgb(194,26,0)"/><stop offset="0.600" stop-color="rgb(211,49,0)"/><stop offset="0.650" stop-color="rgb(229,72,0)"/><stop offset="0.700" stop-color="rgb(247,95,0)"/><stop offset="0.750" stop-color="rgb(255,118,0)"/><stop offset="0.800" stop-color="rgb(255,141,19)"/><stop offset="0.850" stop-color="rgb(255,164,66)"/><stop offset="0.900" stop-color="rgb(255,187,114)"/><stop offset="0.950" stop-color="rgb(255,210,162)"/><stop offset="1.000" stop-color="rgb(255,233,209)"/></linearGradient>
<rect x="501.8" y="229.8" width="10.80" height="94.00" fill="url(#cb2)"/>
<path d="M512.80 216.2V323.8" stroke="#555" stroke-width="0.6"/>
<text x="514.20" y="220.20" class="cbl">0.08<tspan dx="0.9" font-size="7.3">G/A</tspan></text>
<text x="514.20" y="249.90" class="cbl">0.06</text>
<text x="514.20" y="275.80" class="cbl">0.04</text>
<text x="514.70" y="304.00" class="cbl">0.02</text>
<text x="514.70" y="324.90" class="cbl">0.00</text>
<linearGradient id="cb3" x1="0" y1="1" x2="0" y2="0"><stop offset="0.000" stop-color="rgb(0,0,0)"/><stop offset="0.050" stop-color="rgb(17,0,0)"/><stop offset="0.100" stop-color="rgb(35,0,0)"/><stop offset="0.150" stop-color="rgb(52,0,0)"/><stop offset="0.200" stop-color="rgb(70,0,0)"/><stop offset="0.250" stop-color="rgb(88,0,0)"/><stop offset="0.300" stop-color="rgb(105,0,0)"/><stop offset="0.350" stop-color="rgb(123,0,0)"/><stop offset="0.400" stop-color="rgb(141,0,0)"/><stop offset="0.450" stop-color="rgb(158,0,0)"/><stop offset="0.500" stop-color="rgb(176,3,0)"/><stop offset="0.550" stop-color="rgb(194,26,0)"/><stop offset="0.600" stop-color="rgb(211,49,0)"/><stop offset="0.650" stop-color="rgb(229,72,0)"/><stop offset="0.700" stop-color="rgb(247,95,0)"/><stop offset="0.750" stop-color="rgb(255,118,0)"/><stop offset="0.800" stop-color="rgb(255,141,19)"/><stop offset="0.850" stop-color="rgb(255,164,66)"/><stop offset="0.900" stop-color="rgb(255,187,114)"/><stop offset="0.950" stop-color="rgb(255,210,162)"/><stop offset="1.000" stop-color="rgb(255,233,209)"/></linearGradient>
<rect x="220.3" y="395.3" width="10.40" height="93.90" fill="url(#cb3)"/>
<path d="M230.90 382.6V489.2" stroke="#555" stroke-width="0.6"/>
<text x="232.40" y="387.30" class="cbl">0.30<tspan dx="0.9" font-size="7.3">G/A</tspan></text>
<text x="232.40" y="416.50" class="cbl">0.225</text>
<text x="232.40" y="441.90" class="cbl">0.15</text>
<text x="234.20" y="468.90" class="cbl">0.075</text>
<text x="233.40" y="490.60" class="cbl">0.00</text>
<linearGradient id="cb4" x1="0" y1="1" x2="0" y2="0"><stop offset="0.000" stop-color="rgb(0,0,0)"/><stop offset="0.050" stop-color="rgb(17,0,0)"/><stop offset="0.100" stop-color="rgb(35,0,0)"/><stop offset="0.150" stop-color="rgb(52,0,0)"/><stop offset="0.200" stop-color="rgb(70,0,0)"/><stop offset="0.250" stop-color="rgb(88,0,0)"/><stop offset="0.300" stop-color="rgb(105,0,0)"/><stop offset="0.350" stop-color="rgb(123,0,0)"/><stop offset="0.400" stop-color="rgb(141,0,0)"/><stop offset="0.450" stop-color="rgb(158,0,0)"/><stop offset="0.500" stop-color="rgb(176,3,0)"/><stop offset="0.550" stop-color="rgb(194,26,0)"/><stop offset="0.600" stop-color="rgb(211,49,0)"/><stop offset="0.650" stop-color="rgb(229,72,0)"/><stop offset="0.700" stop-color="rgb(247,95,0)"/><stop offset="0.750" stop-color="rgb(255,118,0)"/><stop offset="0.800" stop-color="rgb(255,141,19)"/><stop offset="0.850" stop-color="rgb(255,164,66)"/><stop offset="0.900" stop-color="rgb(255,187,114)"/><stop offset="0.950" stop-color="rgb(255,210,162)"/><stop offset="1.000" stop-color="rgb(255,233,209)"/></linearGradient>
<rect x="501.2" y="397.0" width="10.70" height="94.30" fill="url(#cb4)"/>
<path d="M512.10 384.2V491.3" stroke="#555" stroke-width="0.6"/>
<text x="514.20" y="387.80" class="cbl">0.08<tspan dx="0.9" font-size="7.3">G/A</tspan></text>
<text x="514.20" y="417.20" class="cbl">0.06</text>
<text x="514.20" y="443.00" class="cbl">0.04</text>
<text x="514.70" y="471.30" class="cbl">0.02</text>
<text x="514.70" y="493.00" class="cbl">0.00</text>
<path d="M24.3 230V260.5H55" stroke="#222" stroke-width="0.9" fill="none"/>
<path d="M21.2 233.8L24.3 229.8L27.4 233.8M51.2 257.4L55.2 260.5L51.2 263.6" stroke="#222" stroke-width="0.9" fill="none"/>
<text x="15.7" y="239.8" text-anchor="middle" class="ax">y</text>
<text x="51" y="270.8" text-anchor="middle" class="ax">x</text>
<path d="M269.7 213.0L285.1 213.0L299.2 234.2L283.8 234.2ZM292.5 213.0L306.6 213.0L320.4 234.2L306.0 234.2ZM272.1 247.8L287.0 247.8L301.1 269.0L285.9 269.0ZM294.2 247.8L307.8 247.8L322.0 269.0L306.7 269.0Z" stroke="#222" stroke-width="0.9" fill="none"/>
<path d="M293.4 222.3L290.1 222.0L292.5 224.7ZM300.8 222.3L297.5 222.0L299.9 224.7ZM295.4 257.9L292.1 257.6L294.5 260.3ZM303.0 257.9L299.7 257.6L302.1 260.3Z" fill="#111"/>
<path d="M325.6 236V269.4M324.4 238L325.6 235.8L326.8 238M324.4 267.4L325.6 269.6L326.8 267.4" stroke="#444" stroke-width="0.5" fill="none"/>
<text x="326.8" y="255.2" class="dl">d</text>
</svg></body></html>
